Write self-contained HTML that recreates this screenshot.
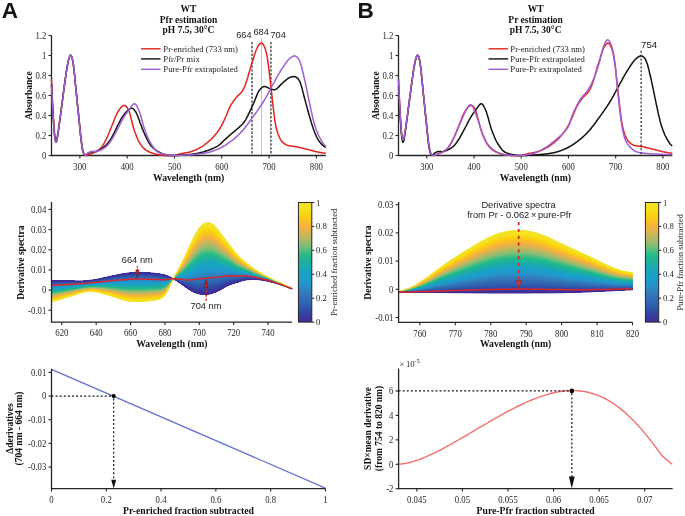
<!DOCTYPE html>
<html><head><meta charset="utf-8"><style>
html,body{margin:0;padding:0;background:#fff;width:685px;height:516px;overflow:hidden;}
svg{display:block;will-change:transform;}
</style></head><body>
<svg width="685" height="516" viewBox="0 0 685 516">
<rect width="685" height="516" fill="#fff"/>
<text x="1.8" y="17.6" font-family="'Liberation Sans', sans-serif" font-size="22.5" font-weight="bold" text-anchor="start" fill="#141414">A</text>
<text x="357.6" y="17.7" font-family="'Liberation Sans', sans-serif" font-size="22.5" font-weight="bold" text-anchor="start" fill="#141414">B</text>
<line x1="261.48" y1="37.8" x2="261.48" y2="155.5" stroke="#c4c4c4" stroke-width="1"/>
<line x1="252.02" y1="41.9" x2="252.02" y2="155.5" stroke="#111" stroke-width="1.1" stroke-dasharray="2.4,1.5"/>
<line x1="270.94" y1="41.9" x2="270.94" y2="155.5" stroke="#111" stroke-width="1.1" stroke-dasharray="2.4,1.5"/>
<path d="M51.5,35.5 L51.5,155.5 L325.8,155.5" fill="none" stroke="#262626" stroke-width="1.3"/>
<line x1="79.88" y1="155.5" x2="79.88" y2="158.5" stroke="#262626" stroke-width="1.1"/>
<text x="0" y="0" font-family="'Liberation Serif', serif" font-size="9.5" font-weight="normal" text-anchor="middle" fill="#262626" transform="translate(79.88 169.8) scale(0.92 1)">300</text>
<line x1="127.17" y1="155.5" x2="127.17" y2="158.5" stroke="#262626" stroke-width="1.1"/>
<text x="0" y="0" font-family="'Liberation Serif', serif" font-size="9.5" font-weight="normal" text-anchor="middle" fill="#262626" transform="translate(127.17 169.8) scale(0.92 1)">400</text>
<line x1="174.46" y1="155.5" x2="174.46" y2="158.5" stroke="#262626" stroke-width="1.1"/>
<text x="0" y="0" font-family="'Liberation Serif', serif" font-size="9.5" font-weight="normal" text-anchor="middle" fill="#262626" transform="translate(174.46 169.8) scale(0.92 1)">500</text>
<line x1="221.76" y1="155.5" x2="221.76" y2="158.5" stroke="#262626" stroke-width="1.1"/>
<text x="0" y="0" font-family="'Liberation Serif', serif" font-size="9.5" font-weight="normal" text-anchor="middle" fill="#262626" transform="translate(221.76 169.8) scale(0.92 1)">600</text>
<line x1="269.05" y1="155.5" x2="269.05" y2="158.5" stroke="#262626" stroke-width="1.1"/>
<text x="0" y="0" font-family="'Liberation Serif', serif" font-size="9.5" font-weight="normal" text-anchor="middle" fill="#262626" transform="translate(269.05 169.8) scale(0.92 1)">700</text>
<line x1="316.34" y1="155.5" x2="316.34" y2="158.5" stroke="#262626" stroke-width="1.1"/>
<text x="0" y="0" font-family="'Liberation Serif', serif" font-size="9.5" font-weight="normal" text-anchor="middle" fill="#262626" transform="translate(316.34 169.8) scale(0.92 1)">800</text>
<line x1="48.5" y1="155.50" x2="51.5" y2="155.50" stroke="#262626" stroke-width="1.1"/>
<text x="0" y="0" font-family="'Liberation Serif', serif" font-size="9.5" font-weight="normal" text-anchor="end" fill="#262626" transform="translate(46.3 158.8) scale(0.92 1)">0</text>
<line x1="48.5" y1="135.50" x2="51.5" y2="135.50" stroke="#262626" stroke-width="1.1"/>
<text x="0" y="0" font-family="'Liberation Serif', serif" font-size="9.5" font-weight="normal" text-anchor="end" fill="#262626" transform="translate(46.3 138.8) scale(0.92 1)">0.2</text>
<line x1="48.5" y1="115.50" x2="51.5" y2="115.50" stroke="#262626" stroke-width="1.1"/>
<text x="0" y="0" font-family="'Liberation Serif', serif" font-size="9.5" font-weight="normal" text-anchor="end" fill="#262626" transform="translate(46.3 118.8) scale(0.92 1)">0.4</text>
<line x1="48.5" y1="95.50" x2="51.5" y2="95.50" stroke="#262626" stroke-width="1.1"/>
<text x="0" y="0" font-family="'Liberation Serif', serif" font-size="9.5" font-weight="normal" text-anchor="end" fill="#262626" transform="translate(46.3 98.8) scale(0.92 1)">0.6</text>
<line x1="48.5" y1="75.50" x2="51.5" y2="75.50" stroke="#262626" stroke-width="1.1"/>
<text x="0" y="0" font-family="'Liberation Serif', serif" font-size="9.5" font-weight="normal" text-anchor="end" fill="#262626" transform="translate(46.3 78.8) scale(0.92 1)">0.8</text>
<line x1="48.5" y1="55.50" x2="51.5" y2="55.50" stroke="#262626" stroke-width="1.1"/>
<text x="0" y="0" font-family="'Liberation Serif', serif" font-size="9.5" font-weight="normal" text-anchor="end" fill="#262626" transform="translate(46.3 58.8) scale(0.92 1)">1</text>
<line x1="48.5" y1="35.50" x2="51.5" y2="35.50" stroke="#262626" stroke-width="1.1"/>
<text x="0" y="0" font-family="'Liberation Serif', serif" font-size="9.5" font-weight="normal" text-anchor="end" fill="#262626" transform="translate(46.3 38.8) scale(0.92 1)">1.2</text>
<path d="M51.5,78.9L52.0,89.3L52.4,99.4L52.9,108.8L53.4,117.3L53.9,124.6L54.3,130.6L54.8,135.1L55.3,138.2L55.8,139.7L56.2,139.9L56.7,138.8L57.2,136.9L57.6,134.4L58.1,131.5L58.6,128.4L59.1,125.1L59.5,121.7L60.0,118.3L60.5,114.8L61.0,111.2L61.4,107.6L61.9,104.1L62.4,100.5L62.9,97.0L63.3,93.4L63.8,89.9L64.3,86.4L64.7,82.9L65.2,79.6L65.7,76.2L66.2,73.0L66.6,69.9L67.1,67.0L67.6,64.3L68.1,61.9L68.5,59.9L69.0,58.2L69.5,56.9L69.9,55.9L70.4,55.3L70.9,55.3L71.4,55.9L71.8,57.0L72.3,58.8L72.8,61.2L73.3,64.1L73.7,67.5L74.2,71.6L74.7,76.1L75.1,80.8L75.6,85.7L76.1,90.5L76.6,95.2L77.0,99.9L77.5,104.6L78.0,109.1L78.5,113.6L78.9,118.2L79.4,122.7L79.9,127.2L80.3,131.7L80.8,136.0L81.3,139.9L81.8,143.4L82.2,146.4L82.7,149.0L83.2,151.1L83.7,152.8L84.1,154.0L84.6,154.7L85.1,155.1L85.6,155.3L86.0,155.4L86.5,155.3L87.0,155.2L87.4,155.1L87.9,155.0L88.4,154.8L88.9,154.7L89.3,154.5L89.8,154.3L90.3,154.2L90.8,154.0L91.2,153.8L91.7,153.6L92.2,153.4L92.6,153.2L93.1,153.0L93.6,152.8L94.1,152.6L94.5,152.4L95.0,152.2L95.5,151.9L96.0,151.7L96.4,151.4L96.9,151.1L97.4,150.8L97.8,150.5L98.3,150.2L98.8,149.8L99.3,149.4L99.7,149.0L100.2,148.6L100.7,148.1L101.2,147.6L101.6,147.1L102.1,146.5L102.6,145.8L103.0,145.1L103.5,144.3L104.0,143.5L104.5,142.6L104.9,141.7L105.4,140.8L105.9,139.9L106.4,139.0L106.8,138.0L107.3,137.0L107.8,135.9L108.3,134.8L108.7,133.6L109.2,132.5L109.7,131.3L110.1,130.1L110.6,128.9L111.1,127.8L111.6,126.6L112.0,125.4L112.5,124.3L113.0,123.1L113.5,121.9L113.9,120.7L114.4,119.5L114.9,118.3L115.3,117.1L115.8,116.0L116.3,114.9L116.8,113.9L117.2,113.0L117.7,112.1L118.2,111.3L118.7,110.6L119.1,109.8L119.6,109.2L120.1,108.5L120.5,107.9L121.0,107.4L121.5,106.9L122.0,106.5L122.4,106.1L122.9,105.8L123.4,105.5L123.9,105.4L124.3,105.4L124.8,105.4L125.3,105.6L125.8,106.0L126.2,106.4L126.7,106.9L127.2,107.5L127.6,108.3L128.1,109.1L128.6,110.1L129.1,111.2L129.5,112.6L130.0,114.2L130.5,116.0L131.0,117.9L131.4,119.8L131.9,121.7L132.4,123.5L132.8,125.3L133.3,127.0L133.8,128.6L134.3,130.2L134.7,131.6L135.2,133.0L135.7,134.2L136.2,135.4L136.6,136.6L137.1,137.7L137.6,138.8L138.0,139.8L138.5,140.8L139.0,141.7L139.5,142.6L139.9,143.4L140.4,144.1L140.9,144.8L141.4,145.4L141.8,146.0L142.3,146.6L142.8,147.1L143.2,147.7L143.7,148.2L144.2,148.6L144.7,149.1L145.1,149.5L145.6,149.8L146.1,150.2L146.6,150.5L147.0,150.7L147.5,151.0L148.0,151.3L148.5,151.5L148.9,151.8L149.4,152.0L149.9,152.2L150.3,152.4L150.8,152.7L151.3,152.8L151.8,153.0L152.2,153.2L152.7,153.3L153.2,153.5L153.7,153.6L154.1,153.7L154.6,153.9L155.1,154.0L155.5,154.1L156.0,154.2L156.5,154.3L157.0,154.4L157.4,154.5L157.9,154.6L158.4,154.7L158.9,154.8L159.3,154.9L159.8,154.9L160.3,155.0L160.7,155.1L161.2,155.1L161.7,155.2L162.2,155.2L162.6,155.3L163.1,155.3L163.6,155.4L164.1,155.4L164.5,155.4L165.0,155.5L165.5,155.5L165.9,155.6L166.4,155.6L166.9,155.6L167.4,155.7L167.8,155.7L168.3,155.7L168.8,155.7L169.3,155.7L169.7,155.7L170.2,155.7L170.7,155.7L171.2,155.7L171.6,155.7L172.1,155.7L172.6,155.7L173.0,155.6L173.5,155.6L174.0,155.5L174.5,155.5L174.9,155.4L175.4,155.3L175.9,155.2L176.4,155.0L176.8,154.9L177.3,154.7L177.8,154.6L178.2,154.4L178.7,154.3L179.2,154.1L179.7,154.0L180.1,153.9L180.6,153.8L181.1,153.7L181.6,153.6L182.0,153.5L182.5,153.4L183.0,153.3L183.4,153.2L183.9,153.2L184.4,153.1L184.9,153.0L185.3,152.9L185.8,152.8L186.3,152.8L186.8,152.7L187.2,152.6L187.7,152.5L188.2,152.4L188.7,152.3L189.1,152.2L189.6,152.0L190.1,151.9L190.5,151.8L191.0,151.6L191.5,151.5L192.0,151.3L192.4,151.1L192.9,151.0L193.4,150.8L193.9,150.6L194.3,150.4L194.8,150.2L195.3,150.0L195.7,149.8L196.2,149.5L196.7,149.3L197.2,149.1L197.6,148.9L198.1,148.7L198.6,148.4L199.1,148.2L199.5,147.9L200.0,147.7L200.5,147.4L200.9,147.2L201.4,146.9L201.9,146.6L202.4,146.3L202.8,146.0L203.3,145.6L203.8,145.3L204.3,144.9L204.7,144.6L205.2,144.2L205.7,143.9L206.1,143.5L206.6,143.1L207.1,142.8L207.6,142.4L208.0,142.0L208.5,141.6L209.0,141.2L209.5,140.8L209.9,140.4L210.4,140.0L210.9,139.5L211.4,139.1L211.8,138.6L212.3,138.1L212.8,137.6L213.2,137.1L213.7,136.6L214.2,136.0L214.7,135.5L215.1,134.9L215.6,134.3L216.1,133.8L216.6,133.2L217.0,132.6L217.5,131.9L218.0,131.3L218.4,130.7L218.9,130.0L219.4,129.3L219.9,128.5L220.3,127.7L220.8,126.9L221.3,126.1L221.8,125.2L222.2,124.3L222.7,123.3L223.2,122.4L223.6,121.4L224.1,120.5L224.6,119.4L225.1,118.4L225.5,117.3L226.0,116.2L226.5,115.0L227.0,113.8L227.4,112.6L227.9,111.5L228.4,110.3L228.8,109.2L229.3,108.2L229.8,107.2L230.3,106.3L230.7,105.4L231.2,104.6L231.7,103.8L232.2,103.1L232.6,102.4L233.1,101.7L233.6,101.0L234.1,100.3L234.5,99.7L235.0,99.0L235.5,98.4L235.9,97.8L236.4,97.3L236.9,96.8L237.4,96.3L237.8,95.9L238.3,95.4L238.8,95.0L239.3,94.6L239.7,94.1L240.2,93.7L240.7,93.2L241.1,92.6L241.6,92.0L242.1,91.4L242.6,90.6L243.0,89.8L243.5,88.8L244.0,87.9L244.5,86.8L244.9,85.7L245.4,84.5L245.9,83.3L246.3,82.0L246.8,80.6L247.3,79.1L247.8,77.4L248.2,75.7L248.7,73.9L249.2,72.2L249.7,70.5L250.1,68.8L250.6,67.3L251.1,65.8L251.5,64.3L252.0,62.9L252.5,61.4L253.0,59.9L253.4,58.4L253.9,56.9L254.4,55.3L254.9,53.8L255.3,52.4L255.8,51.0L256.3,49.8L256.8,48.7L257.2,47.7L257.7,46.8L258.2,46.0L258.6,45.3L259.1,44.6L259.6,44.1L260.1,43.7L260.5,43.3L261.0,43.1L261.5,43.0L262.0,43.2L262.4,43.5L262.9,44.0L263.4,44.7L263.8,45.5L264.3,46.5L264.8,47.6L265.3,48.8L265.7,50.4L266.2,52.2L266.7,54.4L267.2,56.9L267.6,59.8L268.1,62.9L268.6,66.4L269.0,70.2L269.5,74.3L270.0,78.6L270.5,82.9L270.9,87.2L271.4,91.4L271.9,95.7L272.4,99.9L272.8,104.1L273.3,108.2L273.8,112.2L274.3,116.0L274.7,119.4L275.2,122.4L275.7,125.0L276.1,127.3L276.6,129.3L277.1,131.0L277.6,132.6L278.0,134.0L278.5,135.3L279.0,136.4L279.5,137.4L279.9,138.3L280.4,139.2L280.9,140.0L281.3,140.7L281.8,141.4L282.3,141.9L282.8,142.3L283.2,142.7L283.7,143.1L284.2,143.5L284.7,143.8L285.1,144.1L285.6,144.4L286.1,144.7L286.5,144.9L287.0,145.2L287.5,145.3L288.0,145.5L288.4,145.6L288.9,145.7L289.4,145.8L289.9,145.8L290.3,145.9L290.8,146.0L291.3,146.0L291.7,146.1L292.2,146.2L292.7,146.2L293.2,146.3L293.6,146.3L294.1,146.4L294.6,146.5L295.1,146.6L295.5,146.6L296.0,146.7L296.5,146.8L297.0,146.9L297.4,147.0L297.9,147.1L298.4,147.2L298.8,147.3L299.3,147.4L299.8,147.5L300.3,147.7L300.7,147.8L301.2,147.9L301.7,148.0L302.2,148.1L302.6,148.2L303.1,148.3L303.6,148.4L304.0,148.6L304.5,148.7L305.0,148.8L305.5,148.9L305.9,149.0L306.4,149.1L306.9,149.3L307.4,149.4L307.8,149.5L308.3,149.6L308.8,149.7L309.2,149.9L309.7,150.0L310.2,150.1L310.7,150.3L311.1,150.4L311.6,150.5L312.1,150.6L312.6,150.8L313.0,150.9L313.5,151.0L314.0,151.1L314.4,151.3L314.9,151.4L315.4,151.5L315.9,151.6L316.3,151.7L316.8,151.8L317.3,151.9L317.8,152.0L318.2,152.1L318.7,152.2L319.2,152.3L319.7,152.4L320.1,152.4L320.6,152.5L321.1,152.6L321.5,152.7L322.0,152.8L322.5,152.9L323.0,152.9L323.4,153.0L323.9,153.1L324.4,153.1L324.9,153.2L325.3,153.2L325.8,153.3" fill="none" stroke="#e3231f" stroke-width="1.5" stroke-linejoin="round"/>
<path d="M51.5,84.8L52.0,94.3L52.4,103.5L52.9,112.3L53.4,120.3L53.9,127.4L54.3,133.2L54.8,137.7L55.3,140.7L55.8,142.2L56.2,142.2L56.7,141.0L57.2,138.9L57.6,136.1L58.1,133.0L58.6,129.7L59.1,126.2L59.5,122.7L60.0,119.1L60.5,115.5L61.0,111.9L61.4,108.3L61.9,104.6L62.4,101.0L62.9,97.4L63.3,93.8L63.8,90.3L64.3,86.8L64.7,83.3L65.2,79.9L65.7,76.5L66.2,73.2L66.6,70.0L67.1,67.1L67.6,64.3L68.1,62.0L68.5,59.9L69.0,58.2L69.5,56.9L69.9,55.9L70.4,55.3L70.9,55.3L71.4,55.9L71.8,57.0L72.3,58.8L72.8,61.2L73.3,64.1L73.7,67.6L74.2,71.7L74.7,76.3L75.1,81.1L75.6,86.0L76.1,90.9L76.6,95.7L77.0,100.4L77.5,105.1L78.0,109.8L78.5,114.4L78.9,119.0L79.4,123.7L79.9,128.5L80.3,133.2L80.8,137.7L81.3,141.8L81.8,145.3L82.2,148.3L82.7,150.6L83.2,152.4L83.7,153.7L84.1,154.5L84.6,155.0L85.1,155.2L85.6,155.2L86.0,155.0L86.5,154.6L87.0,154.2L87.4,153.8L87.9,153.4L88.4,153.1L88.9,152.9L89.3,152.7L89.8,152.5L90.3,152.4L90.8,152.2L91.2,152.1L91.7,152.0L92.2,151.9L92.6,151.8L93.1,151.7L93.6,151.7L94.1,151.6L94.5,151.6L95.0,151.6L95.5,151.5L96.0,151.5L96.4,151.3L96.9,151.2L97.4,151.0L97.8,150.8L98.3,150.6L98.8,150.4L99.3,150.1L99.7,149.9L100.2,149.6L100.7,149.3L101.2,149.0L101.6,148.7L102.1,148.4L102.6,148.1L103.0,147.7L103.5,147.3L104.0,146.9L104.5,146.5L104.9,146.1L105.4,145.7L105.9,145.2L106.4,144.7L106.8,144.2L107.3,143.7L107.8,143.1L108.3,142.5L108.7,141.9L109.2,141.3L109.7,140.6L110.1,139.9L110.6,139.1L111.1,138.4L111.6,137.6L112.0,136.8L112.5,136.0L113.0,135.1L113.5,134.2L113.9,133.2L114.4,132.3L114.9,131.3L115.3,130.3L115.8,129.3L116.3,128.3L116.8,127.3L117.2,126.4L117.7,125.4L118.2,124.5L118.7,123.6L119.1,122.7L119.6,121.8L120.1,120.8L120.5,120.0L121.0,119.1L121.5,118.3L122.0,117.5L122.4,116.7L122.9,116.0L123.4,115.4L123.9,114.7L124.3,114.1L124.8,113.5L125.3,113.0L125.8,112.4L126.2,111.9L126.7,111.4L127.2,111.0L127.6,110.5L128.1,110.1L128.6,109.7L129.1,109.4L129.5,109.1L130.0,108.8L130.5,108.5L131.0,108.3L131.4,108.2L131.9,108.2L132.4,108.4L132.8,108.6L133.3,108.9L133.8,109.3L134.3,109.8L134.7,110.4L135.2,111.1L135.7,111.8L136.2,112.7L136.6,113.6L137.1,114.7L137.6,115.8L138.0,117.0L138.5,118.2L139.0,119.5L139.5,120.8L139.9,122.2L140.4,123.5L140.9,124.8L141.4,126.1L141.8,127.4L142.3,128.6L142.8,129.8L143.2,130.9L143.7,132.0L144.2,133.0L144.7,134.1L145.1,135.1L145.6,136.1L146.1,137.2L146.6,138.2L147.0,139.1L147.5,140.1L148.0,141.0L148.5,141.9L148.9,142.7L149.4,143.5L149.9,144.2L150.3,144.8L150.8,145.4L151.3,146.0L151.8,146.5L152.2,147.0L152.7,147.5L153.2,148.0L153.7,148.4L154.1,148.8L154.6,149.2L155.1,149.6L155.5,150.0L156.0,150.3L156.5,150.6L157.0,150.9L157.4,151.2L157.9,151.5L158.4,151.7L158.9,152.0L159.3,152.2L159.8,152.5L160.3,152.7L160.7,153.0L161.2,153.2L161.7,153.4L162.2,153.6L162.6,153.8L163.1,154.0L163.6,154.1L164.1,154.3L164.5,154.4L165.0,154.5L165.5,154.6L165.9,154.6L166.4,154.7L166.9,154.8L167.4,154.9L167.8,154.9L168.3,155.0L168.8,155.1L169.3,155.1L169.7,155.2L170.2,155.3L170.7,155.3L171.2,155.4L171.6,155.4L172.1,155.4L172.6,155.5L173.0,155.5L173.5,155.5L174.0,155.5L174.5,155.5L174.9,155.5L175.4,155.5L175.9,155.5L176.4,155.4L176.8,155.4L177.3,155.4L177.8,155.4L178.2,155.4L178.7,155.3L179.2,155.3L179.7,155.3L180.1,155.3L180.6,155.2L181.1,155.2L181.6,155.2L182.0,155.1L182.5,155.1L183.0,155.1L183.4,155.0L183.9,155.0L184.4,155.0L184.9,154.9L185.3,154.9L185.8,154.8L186.3,154.8L186.8,154.7L187.2,154.7L187.7,154.7L188.2,154.6L188.7,154.6L189.1,154.5L189.6,154.5L190.1,154.4L190.5,154.4L191.0,154.3L191.5,154.3L192.0,154.2L192.4,154.1L192.9,154.1L193.4,154.0L193.9,153.9L194.3,153.8L194.8,153.8L195.3,153.7L195.7,153.6L196.2,153.5L196.7,153.4L197.2,153.4L197.6,153.3L198.1,153.2L198.6,153.1L199.1,153.0L199.5,152.9L200.0,152.8L200.5,152.7L200.9,152.6L201.4,152.5L201.9,152.3L202.4,152.2L202.8,152.1L203.3,151.9L203.8,151.8L204.3,151.6L204.7,151.5L205.2,151.3L205.7,151.2L206.1,151.0L206.6,150.8L207.1,150.7L207.6,150.5L208.0,150.4L208.5,150.2L209.0,150.0L209.5,149.9L209.9,149.7L210.4,149.5L210.9,149.3L211.4,149.1L211.8,149.0L212.3,148.8L212.8,148.5L213.2,148.3L213.7,148.1L214.2,147.9L214.7,147.6L215.1,147.4L215.6,147.2L216.1,146.9L216.6,146.6L217.0,146.4L217.5,146.1L218.0,145.8L218.4,145.5L218.9,145.1L219.4,144.8L219.9,144.4L220.3,144.0L220.8,143.5L221.3,143.1L221.8,142.6L222.2,142.2L222.7,141.7L223.2,141.2L223.6,140.7L224.1,140.3L224.6,139.8L225.1,139.4L225.5,139.0L226.0,138.6L226.5,138.2L227.0,137.7L227.4,137.3L227.9,136.9L228.4,136.5L228.8,136.1L229.3,135.7L229.8,135.3L230.3,134.9L230.7,134.4L231.2,134.0L231.7,133.6L232.2,133.2L232.6,132.8L233.1,132.4L233.6,132.0L234.1,131.6L234.5,131.2L235.0,130.8L235.5,130.4L235.9,130.0L236.4,129.6L236.9,129.2L237.4,128.8L237.8,128.4L238.3,128.0L238.8,127.6L239.3,127.2L239.7,126.7L240.2,126.3L240.7,125.9L241.1,125.4L241.6,125.0L242.1,124.5L242.6,124.0L243.0,123.4L243.5,122.8L244.0,122.2L244.5,121.5L244.9,120.8L245.4,120.1L245.9,119.3L246.3,118.5L246.8,117.6L247.3,116.7L247.8,115.8L248.2,114.9L248.7,113.9L249.2,112.9L249.7,111.9L250.1,110.9L250.6,109.8L251.1,108.8L251.5,107.8L252.0,106.7L252.5,105.7L253.0,104.6L253.4,103.6L253.9,102.5L254.4,101.4L254.9,100.3L255.3,99.1L255.8,97.9L256.3,96.6L256.8,95.4L257.2,94.2L257.7,93.1L258.2,92.2L258.6,91.4L259.1,90.7L259.6,90.0L260.1,89.5L260.5,88.9L261.0,88.4L261.5,88.0L262.0,87.6L262.4,87.2L262.9,86.9L263.4,86.7L263.8,86.6L264.3,86.5L264.8,86.5L265.3,86.6L265.7,86.8L266.2,86.9L266.7,87.1L267.2,87.3L267.6,87.5L268.1,87.8L268.6,88.0L269.0,88.2L269.5,88.4L270.0,88.6L270.5,88.8L270.9,88.9L271.4,89.1L271.9,89.3L272.4,89.4L272.8,89.6L273.3,89.7L273.8,89.7L274.3,89.7L274.7,89.7L275.2,89.6L275.7,89.4L276.1,89.1L276.6,88.8L277.1,88.4L277.6,88.0L278.0,87.5L278.5,87.1L279.0,86.6L279.5,86.1L279.9,85.6L280.4,85.1L280.9,84.6L281.3,84.1L281.8,83.7L282.3,83.2L282.8,82.8L283.2,82.4L283.7,82.0L284.2,81.6L284.7,81.2L285.1,80.7L285.6,80.3L286.1,79.9L286.5,79.6L287.0,79.2L287.5,78.8L288.0,78.5L288.4,78.2L288.9,77.9L289.4,77.7L289.9,77.5L290.3,77.3L290.8,77.1L291.3,77.0L291.7,76.9L292.2,76.8L292.7,76.7L293.2,76.7L293.6,76.6L294.1,76.6L294.6,76.7L295.1,76.8L295.5,76.9L296.0,77.2L296.5,77.5L297.0,77.8L297.4,78.2L297.9,78.6L298.4,79.2L298.8,79.8L299.3,80.6L299.8,81.6L300.3,82.7L300.7,84.0L301.2,85.5L301.7,87.2L302.2,88.9L302.6,90.7L303.1,92.6L303.6,94.4L304.0,96.3L304.5,98.1L305.0,99.9L305.5,101.6L305.9,103.4L306.4,105.1L306.9,106.9L307.4,108.6L307.8,110.3L308.3,112.0L308.8,113.7L309.2,115.3L309.7,117.0L310.2,118.6L310.7,120.2L311.1,121.8L311.6,123.4L312.1,124.9L312.6,126.4L313.0,127.9L313.5,129.3L314.0,130.6L314.4,131.8L314.9,133.0L315.4,134.1L315.9,135.2L316.3,136.3L316.8,137.3L317.3,138.2L317.8,139.1L318.2,139.9L318.7,140.6L319.2,141.3L319.7,141.9L320.1,142.5L320.6,143.0L321.1,143.6L321.5,144.1L322.0,144.6L322.5,145.1L323.0,145.5L323.4,145.9L323.9,146.3L324.4,146.6L324.9,146.9L325.3,147.2L325.8,147.4" fill="none" stroke="#111111" stroke-width="1.5" stroke-linejoin="round"/>
<path d="M51.5,85.7L52.0,94.9L52.4,103.9L52.9,112.5L53.4,120.4L53.9,127.4L54.3,133.2L54.8,137.7L55.3,140.7L55.8,142.2L56.2,142.2L56.7,141.0L57.2,138.9L57.6,136.1L58.1,133.0L58.6,129.7L59.1,126.2L59.5,122.7L60.0,119.1L60.5,115.5L61.0,111.9L61.4,108.3L61.9,104.6L62.4,101.0L62.9,97.4L63.3,93.8L63.8,90.3L64.3,86.8L64.7,83.3L65.2,79.9L65.7,76.5L66.2,73.2L66.6,70.0L67.1,67.1L67.6,64.3L68.1,62.0L68.5,59.9L69.0,58.2L69.5,56.9L69.9,55.9L70.4,55.3L70.9,55.3L71.4,55.9L71.8,57.0L72.3,58.8L72.8,61.2L73.3,64.1L73.7,67.6L74.2,71.7L74.7,76.3L75.1,81.1L75.6,86.0L76.1,90.9L76.6,95.7L77.0,100.4L77.5,105.1L78.0,109.8L78.5,114.4L78.9,119.0L79.4,123.7L79.9,128.5L80.3,133.2L80.8,137.7L81.3,141.8L81.8,145.3L82.2,148.3L82.7,150.6L83.2,152.4L83.7,153.7L84.1,154.5L84.6,155.0L85.1,155.2L85.6,155.2L86.0,154.9L86.5,154.4L87.0,153.9L87.4,153.4L87.9,153.0L88.4,152.6L88.9,152.4L89.3,152.2L89.8,152.0L90.3,151.8L90.8,151.7L91.2,151.6L91.7,151.6L92.2,151.5L92.6,151.5L93.1,151.6L93.6,151.6L94.1,151.6L94.5,151.7L95.0,151.7L95.5,151.7L96.0,151.7L96.4,151.6L96.9,151.5L97.4,151.3L97.8,151.2L98.3,151.0L98.8,150.8L99.3,150.6L99.7,150.4L100.2,150.2L100.7,150.0L101.2,149.7L101.6,149.5L102.1,149.3L102.6,149.0L103.0,148.7L103.5,148.5L104.0,148.2L104.5,147.9L104.9,147.5L105.4,147.2L105.9,146.8L106.4,146.4L106.8,146.0L107.3,145.5L107.8,145.0L108.3,144.5L108.7,143.9L109.2,143.2L109.7,142.6L110.1,141.9L110.6,141.2L111.1,140.5L111.6,139.8L112.0,139.1L112.5,138.3L113.0,137.5L113.5,136.7L113.9,135.9L114.4,135.0L114.9,134.2L115.3,133.3L115.8,132.4L116.3,131.5L116.8,130.6L117.2,129.7L117.7,128.8L118.2,127.9L118.7,127.0L119.1,126.1L119.6,125.1L120.1,124.2L120.5,123.3L121.0,122.3L121.5,121.4L122.0,120.6L122.4,119.7L122.9,118.9L123.4,118.1L123.9,117.3L124.3,116.5L124.8,115.8L125.3,115.1L125.8,114.3L126.2,113.6L126.7,113.0L127.2,112.3L127.6,111.6L128.1,111.0L128.6,110.3L129.1,109.6L129.5,108.9L130.0,108.3L130.5,107.6L131.0,106.9L131.4,106.3L131.9,105.7L132.4,105.1L132.8,104.6L133.3,104.2L133.8,103.9L134.3,103.8L134.7,103.8L135.2,104.0L135.7,104.4L136.2,105.0L136.6,105.7L137.1,106.6L137.6,107.5L138.0,108.5L138.5,109.5L139.0,110.6L139.5,111.8L139.9,113.2L140.4,114.7L140.9,116.3L141.4,117.9L141.8,119.7L142.3,121.4L142.8,123.2L143.2,124.9L143.7,126.5L144.2,128.0L144.7,129.4L145.1,130.7L145.6,132.0L146.1,133.2L146.6,134.5L147.0,135.6L147.5,136.8L148.0,137.9L148.5,139.0L148.9,140.0L149.4,140.9L149.9,141.8L150.3,142.7L150.8,143.5L151.3,144.2L151.8,144.9L152.2,145.6L152.7,146.3L153.2,147.0L153.7,147.7L154.1,148.3L154.6,148.9L155.1,149.5L155.5,150.0L156.0,150.5L156.5,151.0L157.0,151.3L157.4,151.7L157.9,152.0L158.4,152.2L158.9,152.4L159.3,152.7L159.8,152.9L160.3,153.1L160.7,153.3L161.2,153.5L161.7,153.6L162.2,153.8L162.6,153.9L163.1,154.1L163.6,154.2L164.1,154.3L164.5,154.4L165.0,154.5L165.5,154.6L165.9,154.6L166.4,154.7L166.9,154.8L167.4,154.8L167.8,154.9L168.3,155.0L168.8,155.0L169.3,155.1L169.7,155.2L170.2,155.2L170.7,155.3L171.2,155.3L171.6,155.4L172.1,155.4L172.6,155.4L173.0,155.5L173.5,155.5L174.0,155.5L174.5,155.5L174.9,155.5L175.4,155.5L175.9,155.5L176.4,155.5L176.8,155.5L177.3,155.5L177.8,155.4L178.2,155.4L178.7,155.4L179.2,155.4L179.7,155.4L180.1,155.4L180.6,155.4L181.1,155.3L181.6,155.3L182.0,155.3L182.5,155.3L183.0,155.3L183.4,155.2L183.9,155.2L184.4,155.2L184.9,155.2L185.3,155.2L185.8,155.1L186.3,155.1L186.8,155.1L187.2,155.0L187.7,155.0L188.2,155.0L188.7,154.9L189.1,154.9L189.6,154.9L190.1,154.8L190.5,154.8L191.0,154.8L191.5,154.7L192.0,154.7L192.4,154.6L192.9,154.6L193.4,154.6L193.9,154.5L194.3,154.5L194.8,154.4L195.3,154.4L195.7,154.3L196.2,154.3L196.7,154.2L197.2,154.2L197.6,154.1L198.1,154.1L198.6,154.0L199.1,154.0L199.5,153.9L200.0,153.9L200.5,153.8L200.9,153.8L201.4,153.7L201.9,153.6L202.4,153.6L202.8,153.5L203.3,153.4L203.8,153.3L204.3,153.2L204.7,153.1L205.2,153.1L205.7,153.0L206.1,152.9L206.6,152.8L207.1,152.7L207.6,152.6L208.0,152.5L208.5,152.4L209.0,152.2L209.5,152.1L209.9,152.0L210.4,151.9L210.9,151.7L211.4,151.6L211.8,151.5L212.3,151.3L212.8,151.1L213.2,151.0L213.7,150.8L214.2,150.6L214.7,150.4L215.1,150.2L215.6,150.1L216.1,149.9L216.6,149.7L217.0,149.5L217.5,149.3L218.0,149.1L218.4,148.9L218.9,148.7L219.4,148.5L219.9,148.3L220.3,148.0L220.8,147.8L221.3,147.5L221.8,147.3L222.2,147.0L222.7,146.8L223.2,146.5L223.6,146.2L224.1,145.9L224.6,145.7L225.1,145.4L225.5,145.1L226.0,144.8L226.5,144.5L227.0,144.1L227.4,143.8L227.9,143.5L228.4,143.2L228.8,142.8L229.3,142.5L229.8,142.1L230.3,141.8L230.7,141.4L231.2,141.1L231.7,140.7L232.2,140.3L232.6,140.0L233.1,139.6L233.6,139.2L234.1,138.8L234.5,138.4L235.0,138.0L235.5,137.6L235.9,137.2L236.4,136.8L236.9,136.4L237.4,135.9L237.8,135.5L238.3,135.0L238.8,134.5L239.3,134.1L239.7,133.6L240.2,133.1L240.7,132.6L241.1,132.1L241.6,131.6L242.1,131.1L242.6,130.6L243.0,130.0L243.5,129.5L244.0,128.9L244.5,128.4L244.9,127.8L245.4,127.2L245.9,126.6L246.3,126.0L246.8,125.4L247.3,124.7L247.8,124.1L248.2,123.4L248.7,122.8L249.2,122.1L249.7,121.5L250.1,120.8L250.6,120.1L251.1,119.5L251.5,118.8L252.0,118.2L252.5,117.5L253.0,116.9L253.4,116.2L253.9,115.6L254.4,114.9L254.9,114.3L255.3,113.6L255.8,112.9L256.3,112.3L256.8,111.6L257.2,110.9L257.7,110.3L258.2,109.6L258.6,108.9L259.1,108.2L259.6,107.5L260.1,106.9L260.5,106.2L261.0,105.4L261.5,104.7L262.0,104.0L262.4,103.3L262.9,102.5L263.4,101.8L263.8,101.0L264.3,100.2L264.8,99.4L265.3,98.6L265.7,97.8L266.2,96.9L266.7,96.1L267.2,95.2L267.6,94.3L268.1,93.4L268.6,92.5L269.0,91.6L269.5,90.7L270.0,89.8L270.5,88.9L270.9,88.0L271.4,87.2L271.9,86.3L272.4,85.4L272.8,84.6L273.3,83.7L273.8,82.9L274.3,82.0L274.7,81.2L275.2,80.3L275.7,79.4L276.1,78.6L276.6,77.7L277.1,76.9L277.6,76.1L278.0,75.2L278.5,74.4L279.0,73.6L279.5,72.8L279.9,72.0L280.4,71.2L280.9,70.5L281.3,69.7L281.8,69.0L282.3,68.2L282.8,67.5L283.2,66.8L283.7,66.0L284.2,65.3L284.7,64.6L285.1,64.0L285.6,63.3L286.1,62.6L286.5,62.0L287.0,61.4L287.5,60.8L288.0,60.3L288.4,59.8L288.9,59.3L289.4,58.9L289.9,58.5L290.3,58.0L290.8,57.7L291.3,57.3L291.7,57.0L292.2,56.7L292.7,56.4L293.2,56.2L293.6,56.0L294.1,55.9L294.6,55.9L295.1,56.0L295.5,56.1L296.0,56.3L296.5,56.6L297.0,57.0L297.4,57.4L297.9,57.9L298.4,58.5L298.8,59.3L299.3,60.3L299.8,61.4L300.3,62.7L300.7,64.1L301.2,65.6L301.7,67.3L302.2,69.1L302.6,71.0L303.1,73.0L303.6,75.0L304.0,77.0L304.5,79.1L305.0,81.2L305.5,83.4L305.9,85.6L306.4,87.9L306.9,90.2L307.4,92.5L307.8,94.8L308.3,97.1L308.8,99.4L309.2,101.6L309.7,103.8L310.2,106.0L310.7,108.3L311.1,110.5L311.6,112.7L312.1,114.8L312.6,116.9L313.0,118.9L313.5,120.7L314.0,122.5L314.4,124.1L314.9,125.7L315.4,127.2L315.9,128.6L316.3,129.9L316.8,131.2L317.3,132.4L317.8,133.5L318.2,134.6L318.7,135.6L319.2,136.5L319.7,137.4L320.1,138.3L320.6,139.2L321.1,140.0L321.5,140.8L322.0,141.6L322.5,142.3L323.0,143.0L323.4,143.7L323.9,144.3L324.4,144.8L324.9,145.3L325.3,145.6L325.8,145.8" fill="none" stroke="#a05dd4" stroke-width="1.5" stroke-linejoin="round"/>
<text x="188.65" y="180.9" font-family="'Liberation Serif', serif" font-size="9.7" font-weight="bold" text-anchor="middle" fill="#111">Wavelength (nm)</text>
<text x="32.0" y="95.5" font-family="'Liberation Serif', serif" font-size="9.5" font-weight="bold" text-anchor="middle" fill="#111" transform="rotate(-90 32.0 95.5)">Absorbance</text>
<text x="188.5" y="11.7" font-family="'Liberation Serif', serif" font-size="9.5" font-weight="bold" text-anchor="middle" fill="#111">WT</text>
<text x="188.5" y="22.6" font-family="'Liberation Serif', serif" font-size="9.5" font-weight="bold" text-anchor="middle" fill="#111">Pfr estimation</text>
<text x="188.5" y="33.3" font-family="'Liberation Serif', serif" font-size="9.5" font-weight="bold" text-anchor="middle" fill="#111">pH 7.5, 30°C</text>
<line x1="141.0" y1="48.8" x2="160.6" y2="48.8" stroke="#e3231f" stroke-width="1.4"/>
<text x="163.3" y="51.9" font-family="'Liberation Serif', serif" font-size="8.7" font-weight="normal" text-anchor="start" fill="#262626">Pr-enriched (733 nm)</text>
<line x1="141.0" y1="58.9" x2="160.6" y2="58.9" stroke="#111111" stroke-width="1.4"/>
<text x="163.3" y="62.0" font-family="'Liberation Serif', serif" font-size="8.7" font-weight="normal" text-anchor="start" fill="#262626">Pfr/Pr mix</text>
<line x1="141.0" y1="69.3" x2="160.6" y2="69.3" stroke="#a05dd4" stroke-width="1.4"/>
<text x="163.3" y="72.39999999999999" font-family="'Liberation Serif', serif" font-size="8.7" font-weight="normal" text-anchor="start" fill="#262626">Pure-Pfr extrapolated</text>
<text x="251.5" y="38.3" font-family="'Liberation Sans', sans-serif" font-size="9.2" font-weight="normal" text-anchor="end" fill="#1a1a1a">664</text>
<text x="261.1" y="34.7" font-family="'Liberation Sans', sans-serif" font-size="9.2" font-weight="normal" text-anchor="middle" fill="#1a1a1a">684</text>
<text x="270.5" y="38.3" font-family="'Liberation Sans', sans-serif" font-size="9.2" font-weight="normal" text-anchor="start" fill="#1a1a1a">704</text>
<path d="M398.5,35.5 L398.5,155.5 L672.3,155.5" fill="none" stroke="#262626" stroke-width="1.3"/>
<line x1="426.82" y1="155.5" x2="426.82" y2="158.5" stroke="#262626" stroke-width="1.1"/>
<text x="0" y="0" font-family="'Liberation Serif', serif" font-size="9.5" font-weight="normal" text-anchor="middle" fill="#262626" transform="translate(426.82 169.8) scale(0.92 1)">300</text>
<line x1="474.03" y1="155.5" x2="474.03" y2="158.5" stroke="#262626" stroke-width="1.1"/>
<text x="0" y="0" font-family="'Liberation Serif', serif" font-size="9.5" font-weight="normal" text-anchor="middle" fill="#262626" transform="translate(474.03 169.8) scale(0.92 1)">400</text>
<line x1="521.24" y1="155.5" x2="521.24" y2="158.5" stroke="#262626" stroke-width="1.1"/>
<text x="0" y="0" font-family="'Liberation Serif', serif" font-size="9.5" font-weight="normal" text-anchor="middle" fill="#262626" transform="translate(521.24 169.8) scale(0.92 1)">500</text>
<line x1="568.44" y1="155.5" x2="568.44" y2="158.5" stroke="#262626" stroke-width="1.1"/>
<text x="0" y="0" font-family="'Liberation Serif', serif" font-size="9.5" font-weight="normal" text-anchor="middle" fill="#262626" transform="translate(568.44 169.8) scale(0.92 1)">600</text>
<line x1="615.65" y1="155.5" x2="615.65" y2="158.5" stroke="#262626" stroke-width="1.1"/>
<text x="0" y="0" font-family="'Liberation Serif', serif" font-size="9.5" font-weight="normal" text-anchor="middle" fill="#262626" transform="translate(615.65 169.8) scale(0.92 1)">700</text>
<line x1="662.86" y1="155.5" x2="662.86" y2="158.5" stroke="#262626" stroke-width="1.1"/>
<text x="0" y="0" font-family="'Liberation Serif', serif" font-size="9.5" font-weight="normal" text-anchor="middle" fill="#262626" transform="translate(662.86 169.8) scale(0.92 1)">800</text>
<line x1="395.5" y1="155.50" x2="398.5" y2="155.50" stroke="#262626" stroke-width="1.1"/>
<text x="0" y="0" font-family="'Liberation Serif', serif" font-size="9.5" font-weight="normal" text-anchor="end" fill="#262626" transform="translate(393.3 158.8) scale(0.92 1)">0</text>
<line x1="395.5" y1="135.50" x2="398.5" y2="135.50" stroke="#262626" stroke-width="1.1"/>
<text x="0" y="0" font-family="'Liberation Serif', serif" font-size="9.5" font-weight="normal" text-anchor="end" fill="#262626" transform="translate(393.3 138.8) scale(0.92 1)">0.2</text>
<line x1="395.5" y1="115.50" x2="398.5" y2="115.50" stroke="#262626" stroke-width="1.1"/>
<text x="0" y="0" font-family="'Liberation Serif', serif" font-size="9.5" font-weight="normal" text-anchor="end" fill="#262626" transform="translate(393.3 118.8) scale(0.92 1)">0.4</text>
<line x1="395.5" y1="95.50" x2="398.5" y2="95.50" stroke="#262626" stroke-width="1.1"/>
<text x="0" y="0" font-family="'Liberation Serif', serif" font-size="9.5" font-weight="normal" text-anchor="end" fill="#262626" transform="translate(393.3 98.8) scale(0.92 1)">0.6</text>
<line x1="395.5" y1="75.50" x2="398.5" y2="75.50" stroke="#262626" stroke-width="1.1"/>
<text x="0" y="0" font-family="'Liberation Serif', serif" font-size="9.5" font-weight="normal" text-anchor="end" fill="#262626" transform="translate(393.3 78.8) scale(0.92 1)">0.8</text>
<line x1="395.5" y1="55.50" x2="398.5" y2="55.50" stroke="#262626" stroke-width="1.1"/>
<text x="0" y="0" font-family="'Liberation Serif', serif" font-size="9.5" font-weight="normal" text-anchor="end" fill="#262626" transform="translate(393.3 58.8) scale(0.92 1)">1</text>
<line x1="395.5" y1="35.50" x2="398.5" y2="35.50" stroke="#262626" stroke-width="1.1"/>
<text x="0" y="0" font-family="'Liberation Serif', serif" font-size="9.5" font-weight="normal" text-anchor="end" fill="#262626" transform="translate(393.3 38.8) scale(0.92 1)">1.2</text>
<path d="M398.5,78.9L399.0,89.3L399.4,99.4L399.9,108.8L400.4,117.3L400.9,124.6L401.3,130.6L401.8,135.1L402.3,138.2L402.7,139.7L403.2,139.9L403.7,138.8L404.2,136.9L404.6,134.4L405.1,131.5L405.6,128.4L406.1,125.1L406.5,121.7L407.0,118.3L407.5,114.8L407.9,111.2L408.4,107.6L408.9,104.1L409.4,100.5L409.8,97.0L410.3,93.4L410.8,89.9L411.2,86.4L411.7,82.9L412.2,79.6L412.7,76.2L413.1,73.0L413.6,69.9L414.1,67.0L414.6,64.3L415.0,61.9L415.5,59.9L416.0,58.2L416.4,56.9L416.9,55.9L417.4,55.3L417.9,55.3L418.3,55.9L418.8,57.0L419.3,58.8L419.7,61.2L420.2,64.1L420.7,67.5L421.2,71.6L421.6,76.1L422.1,80.8L422.6,85.7L423.0,90.5L423.5,95.2L424.0,99.9L424.5,104.6L424.9,109.1L425.4,113.6L425.9,118.2L426.4,122.7L426.8,127.2L427.3,131.7L427.8,136.0L428.2,139.9L428.7,143.4L429.2,146.4L429.7,149.0L430.1,151.1L430.6,152.8L431.1,154.0L431.5,154.7L432.0,155.1L432.5,155.3L433.0,155.4L433.4,155.3L433.9,155.2L434.4,155.1L434.8,155.0L435.3,154.8L435.8,154.7L436.3,154.5L436.7,154.3L437.2,154.2L437.7,154.0L438.2,153.8L438.6,153.6L439.1,153.4L439.6,153.2L440.0,153.0L440.5,152.8L441.0,152.6L441.5,152.4L441.9,152.2L442.4,151.9L442.9,151.7L443.3,151.4L443.8,151.1L444.3,150.8L444.8,150.5L445.2,150.2L445.7,149.8L446.2,149.4L446.7,149.0L447.1,148.6L447.6,148.1L448.1,147.6L448.5,147.1L449.0,146.5L449.5,145.8L450.0,145.1L450.4,144.3L450.9,143.5L451.4,142.6L451.8,141.7L452.3,140.8L452.8,139.9L453.3,139.0L453.7,138.0L454.2,137.0L454.7,135.9L455.1,134.8L455.6,133.6L456.1,132.5L456.6,131.3L457.0,130.1L457.5,128.9L458.0,127.8L458.5,126.6L458.9,125.4L459.4,124.3L459.9,123.1L460.3,121.9L460.8,120.7L461.3,119.5L461.8,118.3L462.2,117.1L462.7,116.0L463.2,114.9L463.6,113.9L464.1,113.0L464.6,112.1L465.1,111.3L465.5,110.6L466.0,109.8L466.5,109.2L466.9,108.5L467.4,107.9L467.9,107.4L468.4,106.9L468.8,106.5L469.3,106.1L469.8,105.8L470.3,105.5L470.7,105.4L471.2,105.4L471.7,105.4L472.1,105.6L472.6,106.0L473.1,106.4L473.6,106.9L474.0,107.5L474.5,108.3L475.0,109.1L475.4,110.1L475.9,111.2L476.4,112.6L476.9,114.2L477.3,116.0L477.8,117.9L478.3,119.8L478.8,121.7L479.2,123.5L479.7,125.3L480.2,127.0L480.6,128.6L481.1,130.2L481.6,131.6L482.1,133.0L482.5,134.2L483.0,135.4L483.5,136.6L483.9,137.7L484.4,138.8L484.9,139.8L485.4,140.8L485.8,141.7L486.3,142.6L486.8,143.4L487.2,144.1L487.7,144.8L488.2,145.4L488.7,146.0L489.1,146.6L489.6,147.1L490.1,147.7L490.6,148.2L491.0,148.6L491.5,149.1L492.0,149.5L492.4,149.8L492.9,150.2L493.4,150.5L493.9,150.7L494.3,151.0L494.8,151.3L495.3,151.5L495.7,151.8L496.2,152.0L496.7,152.2L497.2,152.4L497.6,152.7L498.1,152.8L498.6,153.0L499.1,153.2L499.5,153.3L500.0,153.5L500.5,153.6L500.9,153.7L501.4,153.9L501.9,154.0L502.4,154.1L502.8,154.2L503.3,154.3L503.8,154.4L504.2,154.5L504.7,154.6L505.2,154.7L505.7,154.8L506.1,154.9L506.6,154.9L507.1,155.0L507.5,155.1L508.0,155.1L508.5,155.2L509.0,155.2L509.4,155.3L509.9,155.3L510.4,155.4L510.9,155.4L511.3,155.4L511.8,155.5L512.3,155.5L512.7,155.6L513.2,155.6L513.7,155.6L514.2,155.7L514.6,155.7L515.1,155.7L515.6,155.7L516.0,155.7L516.5,155.7L517.0,155.7L517.5,155.7L517.9,155.7L518.4,155.7L518.9,155.7L519.3,155.7L519.8,155.6L520.3,155.6L520.8,155.5L521.2,155.5L521.7,155.4L522.2,155.3L522.7,155.2L523.1,155.0L523.6,154.9L524.1,154.7L524.5,154.6L525.0,154.4L525.5,154.3L526.0,154.1L526.4,154.0L526.9,153.9L527.4,153.8L527.8,153.7L528.3,153.6L528.8,153.5L529.3,153.4L529.7,153.3L530.2,153.2L530.7,153.2L531.2,153.1L531.6,153.0L532.1,152.9L532.6,152.8L533.0,152.8L533.5,152.7L534.0,152.6L534.5,152.5L534.9,152.4L535.4,152.3L535.9,152.2L536.3,152.0L536.8,151.9L537.3,151.8L537.8,151.6L538.2,151.5L538.7,151.3L539.2,151.1L539.6,151.0L540.1,150.8L540.6,150.6L541.1,150.4L541.5,150.2L542.0,150.0L542.5,149.8L543.0,149.5L543.4,149.3L543.9,149.1L544.4,148.9L544.8,148.7L545.3,148.4L545.8,148.2L546.3,147.9L546.7,147.7L547.2,147.4L547.7,147.2L548.1,146.9L548.6,146.6L549.1,146.3L549.6,146.0L550.0,145.6L550.5,145.3L551.0,144.9L551.5,144.6L551.9,144.2L552.4,143.9L552.9,143.5L553.3,143.1L553.8,142.8L554.3,142.4L554.8,142.0L555.2,141.6L555.7,141.2L556.2,140.8L556.6,140.4L557.1,140.0L557.6,139.5L558.1,139.1L558.5,138.6L559.0,138.1L559.5,137.6L559.9,137.1L560.4,136.6L560.9,136.0L561.4,135.5L561.8,134.9L562.3,134.3L562.8,133.8L563.3,133.2L563.7,132.6L564.2,131.9L564.7,131.3L565.1,130.7L565.6,130.0L566.1,129.3L566.6,128.5L567.0,127.7L567.5,126.9L568.0,126.1L568.4,125.2L568.9,124.3L569.4,123.3L569.9,122.4L570.3,121.4L570.8,120.5L571.3,119.4L571.7,118.4L572.2,117.3L572.7,116.2L573.2,115.0L573.6,113.8L574.1,112.6L574.6,111.5L575.1,110.3L575.5,109.2L576.0,108.2L576.5,107.2L576.9,106.3L577.4,105.4L577.9,104.6L578.4,103.8L578.8,103.1L579.3,102.4L579.8,101.7L580.2,101.0L580.7,100.3L581.2,99.7L581.7,99.0L582.1,98.4L582.6,97.8L583.1,97.3L583.6,96.8L584.0,96.3L584.5,95.9L585.0,95.4L585.4,95.0L585.9,94.6L586.4,94.1L586.9,93.7L587.3,93.2L587.8,92.6L588.3,92.0L588.7,91.4L589.2,90.6L589.7,89.8L590.2,88.8L590.6,87.9L591.1,86.8L591.6,85.7L592.0,84.5L592.5,83.3L593.0,82.0L593.5,80.6L593.9,79.1L594.4,77.4L594.9,75.7L595.4,73.9L595.8,72.2L596.3,70.5L596.8,68.8L597.2,67.3L597.7,65.8L598.2,64.3L598.7,62.9L599.1,61.4L599.6,59.9L600.1,58.4L600.5,56.9L601.0,55.3L601.5,53.8L602.0,52.4L602.4,51.0L602.9,49.8L603.4,48.7L603.8,47.7L604.3,46.8L604.8,46.0L605.3,45.3L605.7,44.6L606.2,44.1L606.7,43.7L607.2,43.3L607.6,43.1L608.1,43.0L608.6,43.2L609.0,43.5L609.5,44.0L610.0,44.7L610.5,45.5L610.9,46.5L611.4,47.6L611.9,48.8L612.3,50.4L612.8,52.2L613.3,54.4L613.8,56.9L614.2,59.8L614.7,62.9L615.2,66.4L615.7,70.2L616.1,74.3L616.6,78.6L617.1,82.9L617.5,87.2L618.0,91.4L618.5,95.7L619.0,99.9L619.4,104.1L619.9,108.2L620.4,112.2L620.8,116.0L621.3,119.4L621.8,122.4L622.3,125.0L622.7,127.3L623.2,129.3L623.7,131.0L624.1,132.6L624.6,134.0L625.1,135.3L625.6,136.4L626.0,137.4L626.5,138.3L627.0,139.2L627.5,140.0L627.9,140.7L628.4,141.4L628.9,141.9L629.3,142.3L629.8,142.7L630.3,143.1L630.8,143.5L631.2,143.8L631.7,144.1L632.2,144.4L632.6,144.7L633.1,144.9L633.6,145.2L634.1,145.3L634.5,145.5L635.0,145.6L635.5,145.7L636.0,145.8L636.4,145.8L636.9,145.9L637.4,146.0L637.8,146.0L638.3,146.1L638.8,146.2L639.3,146.2L639.7,146.3L640.2,146.3L640.7,146.4L641.1,146.5L641.6,146.6L642.1,146.6L642.6,146.7L643.0,146.8L643.5,146.9L644.0,147.0L644.4,147.1L644.9,147.2L645.4,147.3L645.9,147.4L646.3,147.5L646.8,147.7L647.3,147.8L647.8,147.9L648.2,148.0L648.7,148.1L649.2,148.2L649.6,148.3L650.1,148.4L650.6,148.6L651.1,148.7L651.5,148.8L652.0,148.9L652.5,149.0L652.9,149.1L653.4,149.3L653.9,149.4L654.4,149.5L654.8,149.6L655.3,149.7L655.8,149.9L656.2,150.0L656.7,150.1L657.2,150.3L657.7,150.4L658.1,150.5L658.6,150.6L659.1,150.8L659.6,150.9L660.0,151.0L660.5,151.1L661.0,151.3L661.4,151.4L661.9,151.5L662.4,151.6L662.9,151.7L663.3,151.8L663.8,151.9L664.3,152.0L664.7,152.1L665.2,152.2L665.7,152.3L666.2,152.4L666.6,152.4L667.1,152.5L667.6,152.6L668.1,152.7L668.5,152.8L669.0,152.9L669.5,152.9L669.9,153.0L670.4,153.1L670.9,153.1L671.4,153.2L671.8,153.2L672.3,153.3" fill="none" stroke="#e3231f" stroke-width="1.5" stroke-linejoin="round"/>
<path d="M398.5,85.7L399.0,94.9L399.4,103.9L399.9,112.5L400.4,120.4L400.9,127.4L401.3,133.2L401.8,137.7L402.3,140.7L402.7,142.2L403.2,142.2L403.7,141.0L404.2,138.9L404.6,136.1L405.1,133.0L405.6,129.7L406.1,126.2L406.5,122.7L407.0,119.1L407.5,115.5L407.9,111.9L408.4,108.3L408.9,104.6L409.4,101.0L409.8,97.4L410.3,93.8L410.8,90.3L411.2,86.8L411.7,83.3L412.2,79.9L412.7,76.5L413.1,73.2L413.6,70.0L414.1,67.1L414.6,64.3L415.0,62.0L415.5,59.9L416.0,58.2L416.4,56.9L416.9,55.9L417.4,55.3L417.9,55.3L418.3,55.9L418.8,57.0L419.3,58.8L419.7,61.2L420.2,64.1L420.7,67.6L421.2,71.7L421.6,76.3L422.1,81.1L422.6,86.0L423.0,90.9L423.5,95.7L424.0,100.4L424.5,105.1L424.9,109.8L425.4,114.4L425.9,119.0L426.4,123.7L426.8,128.5L427.3,133.2L427.8,137.7L428.2,141.8L428.7,145.3L429.2,148.3L429.7,150.6L430.1,152.4L430.6,153.7L431.1,154.5L431.5,155.0L432.0,155.2L432.5,155.2L433.0,154.9L433.4,154.4L433.9,153.9L434.4,153.4L434.8,153.0L435.3,152.6L435.8,152.4L436.3,152.2L436.7,152.0L437.2,151.8L437.7,151.7L438.2,151.6L438.6,151.6L439.1,151.5L439.6,151.5L440.0,151.6L440.5,151.6L441.0,151.6L441.5,151.7L441.9,151.7L442.4,151.7L442.9,151.7L443.3,151.6L443.8,151.5L444.3,151.3L444.8,151.2L445.2,151.0L445.7,150.8L446.2,150.6L446.7,150.4L447.1,150.2L447.6,150.0L448.1,149.7L448.5,149.5L449.0,149.3L449.5,149.0L450.0,148.7L450.4,148.5L450.9,148.2L451.4,147.9L451.8,147.5L452.3,147.2L452.8,146.8L453.3,146.4L453.7,146.0L454.2,145.5L454.7,145.0L455.1,144.5L455.6,143.9L456.1,143.2L456.6,142.6L457.0,141.9L457.5,141.2L458.0,140.5L458.5,139.8L458.9,139.1L459.4,138.3L459.9,137.5L460.3,136.7L460.8,135.9L461.3,135.0L461.8,134.2L462.2,133.3L462.7,132.4L463.2,131.5L463.6,130.6L464.1,129.7L464.6,128.8L465.1,127.9L465.5,127.0L466.0,126.1L466.5,125.1L466.9,124.2L467.4,123.3L467.9,122.3L468.4,121.4L468.8,120.6L469.3,119.7L469.8,118.9L470.3,118.1L470.7,117.3L471.2,116.5L471.7,115.8L472.1,115.1L472.6,114.3L473.1,113.6L473.6,113.0L474.0,112.3L474.5,111.6L475.0,111.0L475.4,110.3L475.9,109.6L476.4,108.9L476.9,108.3L477.3,107.6L477.8,106.9L478.3,106.3L478.8,105.7L479.2,105.1L479.7,104.6L480.2,104.2L480.6,103.9L481.1,103.8L481.6,103.8L482.1,104.0L482.5,104.4L483.0,105.0L483.5,105.7L483.9,106.6L484.4,107.5L484.9,108.5L485.4,109.5L485.8,110.6L486.3,111.8L486.8,113.2L487.2,114.7L487.7,116.3L488.2,117.9L488.7,119.7L489.1,121.4L489.6,123.2L490.1,124.9L490.6,126.5L491.0,128.0L491.5,129.4L492.0,130.7L492.4,132.0L492.9,133.2L493.4,134.5L493.9,135.6L494.3,136.8L494.8,137.9L495.3,139.0L495.7,140.0L496.2,140.9L496.7,141.8L497.2,142.7L497.6,143.5L498.1,144.2L498.6,144.9L499.1,145.6L499.5,146.3L500.0,147.0L500.5,147.7L500.9,148.3L501.4,148.9L501.9,149.5L502.4,150.0L502.8,150.5L503.3,151.0L503.8,151.3L504.2,151.7L504.7,152.0L505.2,152.2L505.7,152.4L506.1,152.7L506.6,152.9L507.1,153.1L507.5,153.3L508.0,153.5L508.5,153.6L509.0,153.8L509.4,153.9L509.9,154.1L510.4,154.2L510.9,154.3L511.3,154.4L511.8,154.5L512.3,154.6L512.7,154.6L513.2,154.7L513.7,154.8L514.2,154.8L514.6,154.9L515.1,155.0L515.6,155.0L516.0,155.1L516.5,155.2L517.0,155.2L517.5,155.3L517.9,155.3L518.4,155.4L518.9,155.4L519.3,155.4L519.8,155.5L520.3,155.5L520.8,155.5L521.2,155.5L521.7,155.5L522.2,155.5L522.7,155.5L523.1,155.5L523.6,155.5L524.1,155.5L524.5,155.4L525.0,155.4L525.5,155.4L526.0,155.4L526.4,155.4L526.9,155.4L527.4,155.4L527.8,155.3L528.3,155.3L528.8,155.3L529.3,155.3L529.7,155.3L530.2,155.2L530.7,155.2L531.2,155.2L531.6,155.2L532.1,155.2L532.6,155.1L533.0,155.1L533.5,155.1L534.0,155.0L534.5,155.0L534.9,155.0L535.4,154.9L535.9,154.9L536.3,154.9L536.8,154.8L537.3,154.8L537.8,154.8L538.2,154.7L538.7,154.7L539.2,154.6L539.6,154.6L540.1,154.6L540.6,154.5L541.1,154.5L541.5,154.4L542.0,154.4L542.5,154.3L543.0,154.3L543.4,154.2L543.9,154.2L544.4,154.1L544.8,154.1L545.3,154.0L545.8,154.0L546.3,153.9L546.7,153.9L547.2,153.8L547.7,153.8L548.1,153.7L548.6,153.6L549.1,153.6L549.6,153.5L550.0,153.4L550.5,153.3L551.0,153.2L551.5,153.1L551.9,153.1L552.4,153.0L552.9,152.9L553.3,152.8L553.8,152.7L554.3,152.6L554.8,152.5L555.2,152.4L555.7,152.2L556.2,152.1L556.6,152.0L557.1,151.9L557.6,151.7L558.1,151.6L558.5,151.5L559.0,151.3L559.5,151.1L559.9,151.0L560.4,150.8L560.9,150.6L561.4,150.4L561.8,150.2L562.3,150.1L562.8,149.9L563.3,149.7L563.7,149.5L564.2,149.3L564.7,149.1L565.1,148.9L565.6,148.7L566.1,148.5L566.6,148.3L567.0,148.0L567.5,147.8L568.0,147.5L568.4,147.3L568.9,147.0L569.4,146.8L569.9,146.5L570.3,146.2L570.8,145.9L571.3,145.7L571.7,145.4L572.2,145.1L572.7,144.8L573.2,144.5L573.6,144.1L574.1,143.8L574.6,143.5L575.1,143.2L575.5,142.8L576.0,142.5L576.5,142.1L576.9,141.8L577.4,141.4L577.9,141.1L578.4,140.7L578.8,140.3L579.3,140.0L579.8,139.6L580.2,139.2L580.7,138.8L581.2,138.4L581.7,138.0L582.1,137.6L582.6,137.2L583.1,136.8L583.6,136.4L584.0,135.9L584.5,135.5L585.0,135.0L585.4,134.5L585.9,134.1L586.4,133.6L586.9,133.1L587.3,132.6L587.8,132.1L588.3,131.6L588.7,131.1L589.2,130.6L589.7,130.0L590.2,129.5L590.6,128.9L591.1,128.4L591.6,127.8L592.0,127.2L592.5,126.6L593.0,126.0L593.5,125.4L593.9,124.7L594.4,124.1L594.9,123.4L595.4,122.8L595.8,122.1L596.3,121.5L596.8,120.8L597.2,120.1L597.7,119.5L598.2,118.8L598.7,118.2L599.1,117.5L599.6,116.9L600.1,116.2L600.5,115.6L601.0,114.9L601.5,114.3L602.0,113.6L602.4,112.9L602.9,112.3L603.4,111.6L603.8,110.9L604.3,110.3L604.8,109.6L605.3,108.9L605.7,108.2L606.2,107.5L606.7,106.9L607.2,106.2L607.6,105.4L608.1,104.7L608.6,104.0L609.0,103.3L609.5,102.5L610.0,101.8L610.5,101.0L610.9,100.2L611.4,99.4L611.9,98.6L612.3,97.8L612.8,96.9L613.3,96.1L613.8,95.2L614.2,94.3L614.7,93.4L615.2,92.5L615.7,91.6L616.1,90.7L616.6,89.8L617.1,88.9L617.5,88.0L618.0,87.2L618.5,86.3L619.0,85.4L619.4,84.6L619.9,83.7L620.4,82.9L620.8,82.0L621.3,81.2L621.8,80.3L622.3,79.4L622.7,78.6L623.2,77.7L623.7,76.9L624.1,76.1L624.6,75.2L625.1,74.4L625.6,73.6L626.0,72.8L626.5,72.0L627.0,71.2L627.5,70.5L627.9,69.7L628.4,69.0L628.9,68.2L629.3,67.5L629.8,66.8L630.3,66.0L630.8,65.3L631.2,64.6L631.7,64.0L632.2,63.3L632.6,62.6L633.1,62.0L633.6,61.4L634.1,60.8L634.5,60.3L635.0,59.8L635.5,59.3L636.0,58.9L636.4,58.5L636.9,58.0L637.4,57.7L637.8,57.3L638.3,57.0L638.8,56.7L639.3,56.4L639.7,56.2L640.2,56.0L640.7,55.9L641.1,55.9L641.6,56.0L642.1,56.1L642.6,56.3L643.0,56.6L643.5,57.0L644.0,57.4L644.4,57.9L644.9,58.5L645.4,59.3L645.9,60.3L646.3,61.4L646.8,62.7L647.3,64.1L647.8,65.6L648.2,67.3L648.7,69.1L649.2,71.0L649.6,73.0L650.1,75.0L650.6,77.0L651.1,79.1L651.5,81.2L652.0,83.4L652.5,85.6L652.9,87.9L653.4,90.2L653.9,92.5L654.4,94.8L654.8,97.1L655.3,99.4L655.8,101.6L656.2,103.8L656.7,106.0L657.2,108.3L657.7,110.5L658.1,112.7L658.6,114.8L659.1,116.9L659.6,118.9L660.0,120.7L660.5,122.5L661.0,124.1L661.4,125.7L661.9,127.2L662.4,128.6L662.9,129.9L663.3,131.2L663.8,132.4L664.3,133.5L664.7,134.6L665.2,135.6L665.7,136.5L666.2,137.4L666.6,138.3L667.1,139.2L667.6,140.0L668.1,140.8L668.5,141.6L669.0,142.3L669.5,143.0L669.9,143.7L670.4,144.3L670.9,144.8L671.4,145.3L671.8,145.6L672.3,145.8" fill="none" stroke="#111111" stroke-width="1.5" stroke-linejoin="round"/>
<path d="M398.5,78.9L399.0,89.3L399.4,99.4L399.9,108.8L400.4,117.3L400.9,124.6L401.3,130.6L401.8,135.1L402.3,138.2L402.7,139.7L403.2,139.9L403.7,138.8L404.2,136.9L404.6,134.4L405.1,131.5L405.6,128.4L406.1,125.1L406.5,121.7L407.0,118.3L407.5,114.8L407.9,111.2L408.4,107.6L408.9,104.1L409.4,100.5L409.8,97.0L410.3,93.4L410.8,89.9L411.2,86.4L411.7,82.9L412.2,79.6L412.7,76.2L413.1,73.0L413.6,69.9L414.1,67.0L414.6,64.3L415.0,61.9L415.5,59.9L416.0,58.2L416.4,56.9L416.9,55.9L417.4,55.3L417.9,55.3L418.3,55.9L418.8,57.0L419.3,58.8L419.7,61.2L420.2,64.1L420.7,67.5L421.2,71.6L421.6,76.1L422.1,80.8L422.6,85.7L423.0,90.5L423.5,95.2L424.0,99.9L424.5,104.6L424.9,109.1L425.4,113.6L425.9,118.2L426.4,122.7L426.8,127.2L427.3,131.7L427.8,136.0L428.2,139.9L428.7,143.4L429.2,146.4L429.7,149.0L430.1,151.1L430.6,152.8L431.1,154.0L431.5,154.7L432.0,155.1L432.5,155.3L433.0,155.4L433.4,155.4L433.9,155.3L434.4,155.2L434.8,155.1L435.3,155.0L435.8,154.8L436.3,154.7L436.7,154.5L437.2,154.4L437.7,154.2L438.2,154.1L438.6,153.9L439.1,153.7L439.6,153.5L440.0,153.3L440.5,153.1L441.0,152.9L441.5,152.7L441.9,152.5L442.4,152.3L442.9,152.0L443.3,151.7L443.8,151.4L444.3,151.1L444.8,150.8L445.2,150.5L445.7,150.1L446.2,149.7L446.7,149.3L447.1,148.8L447.6,148.3L448.1,147.8L448.5,147.2L449.0,146.5L449.5,145.8L450.0,145.0L450.4,144.2L450.9,143.3L451.4,142.4L451.8,141.5L452.3,140.6L452.8,139.6L453.3,138.7L453.7,137.7L454.2,136.8L454.7,135.7L455.1,134.7L455.6,133.7L456.1,132.6L456.6,131.5L457.0,130.4L457.5,129.3L458.0,128.3L458.5,127.2L458.9,126.1L459.4,125.0L459.9,123.9L460.3,122.8L460.8,121.8L461.3,120.7L461.8,119.6L462.2,118.5L462.7,117.4L463.2,116.3L463.6,115.3L464.1,114.2L464.6,113.2L465.1,112.3L465.5,111.3L466.0,110.4L466.5,109.5L466.9,108.6L467.4,107.8L467.9,107.0L468.4,106.4L468.8,105.8L469.3,105.3L469.8,104.9L470.3,104.8L470.7,104.8L471.2,105.0L471.7,105.3L472.1,105.9L472.6,106.6L473.1,107.5L473.6,108.4L474.0,109.5L474.5,110.6L475.0,111.8L475.4,113.1L475.9,114.3L476.4,115.6L476.9,116.8L477.3,118.1L477.8,119.4L478.3,120.8L478.8,122.3L479.2,123.8L479.7,125.3L480.2,126.8L480.6,128.3L481.1,129.7L481.6,131.1L482.1,132.4L482.5,133.6L483.0,134.8L483.5,136.0L483.9,137.1L484.4,138.2L484.9,139.2L485.4,140.2L485.8,141.2L486.3,142.1L486.8,142.9L487.2,143.6L487.7,144.3L488.2,144.9L488.7,145.5L489.1,146.0L489.6,146.5L490.1,147.0L490.6,147.5L491.0,147.9L491.5,148.3L492.0,148.7L492.4,149.1L492.9,149.4L493.4,149.8L493.9,150.1L494.3,150.4L494.8,150.7L495.3,151.0L495.7,151.3L496.2,151.6L496.7,151.9L497.2,152.2L497.6,152.4L498.1,152.7L498.6,152.9L499.1,153.1L499.5,153.3L500.0,153.5L500.5,153.6L500.9,153.8L501.4,153.9L501.9,154.1L502.4,154.2L502.8,154.3L503.3,154.4L503.8,154.5L504.2,154.6L504.7,154.7L505.2,154.8L505.7,154.9L506.1,155.0L506.6,155.0L507.1,155.1L507.5,155.1L508.0,155.2L508.5,155.2L509.0,155.2L509.4,155.3L509.9,155.3L510.4,155.3L510.9,155.4L511.3,155.4L511.8,155.4L512.3,155.4L512.7,155.5L513.2,155.5L513.7,155.5L514.2,155.5L514.6,155.5L515.1,155.5L515.6,155.5L516.0,155.6L516.5,155.6L517.0,155.6L517.5,155.6L517.9,155.6L518.4,155.6L518.9,155.6L519.3,155.6L519.8,155.5L520.3,155.5L520.8,155.5L521.2,155.5L521.7,155.5L522.2,155.4L522.7,155.4L523.1,155.4L523.6,155.3L524.1,155.3L524.5,155.2L525.0,155.1L525.5,155.1L526.0,155.0L526.4,154.9L526.9,154.8L527.4,154.7L527.8,154.7L528.3,154.6L528.8,154.5L529.3,154.4L529.7,154.3L530.2,154.2L530.7,154.0L531.2,153.9L531.6,153.8L532.1,153.7L532.6,153.6L533.0,153.5L533.5,153.4L534.0,153.2L534.5,153.1L534.9,152.9L535.4,152.8L535.9,152.6L536.3,152.4L536.8,152.2L537.3,152.0L537.8,151.8L538.2,151.6L538.7,151.3L539.2,151.1L539.6,150.9L540.1,150.6L540.6,150.4L541.1,150.1L541.5,149.9L542.0,149.6L542.5,149.3L543.0,149.1L543.4,148.8L543.9,148.5L544.4,148.3L544.8,148.0L545.3,147.7L545.8,147.4L546.3,147.1L546.7,146.8L547.2,146.5L547.7,146.2L548.1,145.8L548.6,145.5L549.1,145.1L549.6,144.8L550.0,144.4L550.5,144.1L551.0,143.7L551.5,143.3L551.9,142.9L552.4,142.5L552.9,142.1L553.3,141.7L553.8,141.4L554.3,141.0L554.8,140.6L555.2,140.2L555.7,139.8L556.2,139.4L556.6,139.0L557.1,138.6L557.6,138.2L558.1,137.8L558.5,137.4L559.0,137.0L559.5,136.6L559.9,136.2L560.4,135.8L560.9,135.4L561.4,135.0L561.8,134.5L562.3,134.1L562.8,133.6L563.3,133.1L563.7,132.6L564.2,132.1L564.7,131.5L565.1,131.0L565.6,130.4L566.1,129.8L566.6,129.2L567.0,128.5L567.5,127.9L568.0,127.1L568.4,126.3L568.9,125.2L569.4,124.0L569.9,122.6L570.3,121.1L570.8,119.5L571.3,118.0L571.7,116.6L572.2,115.4L572.7,114.2L573.2,113.1L573.6,112.0L574.1,111.0L574.6,110.0L575.1,109.0L575.5,108.0L576.0,107.1L576.5,106.1L576.9,105.2L577.4,104.3L577.9,103.5L578.4,102.6L578.8,101.8L579.3,101.0L579.8,100.3L580.2,99.5L580.7,98.8L581.2,98.2L581.7,97.6L582.1,97.0L582.6,96.4L583.1,95.8L583.6,95.3L584.0,94.8L584.5,94.2L585.0,93.7L585.4,93.2L585.9,92.6L586.4,92.0L586.9,91.4L587.3,90.8L587.8,90.1L588.3,89.4L588.7,88.7L589.2,87.9L589.7,87.1L590.2,86.3L590.6,85.4L591.1,84.5L591.6,83.5L592.0,82.5L592.5,81.5L593.0,80.4L593.5,79.4L593.9,78.2L594.4,77.0L594.9,75.8L595.4,74.5L595.8,73.2L596.3,71.8L596.8,70.4L597.2,69.0L597.7,67.6L598.2,66.1L598.7,64.6L599.1,63.0L599.6,61.4L600.1,59.7L600.5,57.8L601.0,55.9L601.5,54.0L602.0,52.1L602.4,50.3L602.9,48.6L603.4,47.1L603.8,45.7L604.3,44.5L604.8,43.4L605.3,42.5L605.7,41.6L606.2,40.9L606.7,40.4L607.2,40.0L607.6,39.8L608.1,39.9L608.6,40.1L609.0,40.6L609.5,41.3L610.0,42.2L610.5,43.2L610.9,44.3L611.4,45.5L611.9,46.8L612.3,48.3L612.8,50.2L613.3,52.4L613.8,54.9L614.2,57.8L614.7,61.2L615.2,65.1L615.7,69.5L616.1,74.3L616.6,79.4L617.1,84.6L617.5,89.6L618.0,94.4L618.5,98.8L619.0,103.1L619.4,107.1L619.9,111.1L620.4,114.9L620.8,118.5L621.3,121.9L621.8,125.1L622.3,127.9L622.7,130.5L623.2,132.7L623.7,134.6L624.1,136.3L624.6,137.8L625.1,139.2L625.6,140.4L626.0,141.5L626.5,142.3L627.0,143.1L627.5,143.8L627.9,144.4L628.4,145.0L628.9,145.5L629.3,146.1L629.8,146.6L630.3,147.1L630.8,147.6L631.2,148.1L631.7,148.6L632.2,149.1L632.6,149.5L633.1,150.0L633.6,150.3L634.1,150.7L634.5,150.9L635.0,151.2L635.5,151.4L636.0,151.6L636.4,151.7L636.9,151.9L637.4,152.1L637.8,152.2L638.3,152.3L638.8,152.4L639.3,152.6L639.7,152.6L640.2,152.7L640.7,152.8L641.1,152.9L641.6,152.9L642.1,153.0L642.6,153.0L643.0,153.1L643.5,153.1L644.0,153.2L644.4,153.2L644.9,153.3L645.4,153.3L645.9,153.4L646.3,153.4L646.8,153.5L647.3,153.5L647.8,153.6L648.2,153.6L648.7,153.7L649.2,153.7L649.6,153.8L650.1,153.8L650.6,153.8L651.1,153.9L651.5,153.9L652.0,153.9L652.5,154.0L652.9,154.0L653.4,154.0L653.9,154.0L654.4,154.0L654.8,154.1L655.3,154.1L655.8,154.1L656.2,154.1L656.7,154.1L657.2,154.1L657.7,154.2L658.1,154.2L658.6,154.2L659.1,154.2L659.6,154.2L660.0,154.3L660.5,154.3L661.0,154.3L661.4,154.3L661.9,154.3L662.4,154.3L662.9,154.4L663.3,154.4L663.8,154.4L664.3,154.4L664.7,154.4L665.2,154.4L665.7,154.4L666.2,154.4L666.6,154.5L667.1,154.5L667.6,154.5L668.1,154.5L668.5,154.5L669.0,154.5L669.5,154.5L669.9,154.5L670.4,154.5L670.9,154.5L671.4,154.5L671.8,154.5L672.3,154.5" fill="none" stroke="#a05dd4" stroke-width="1.5" stroke-linejoin="round"/>
<text x="535.4" y="180.9" font-family="'Liberation Serif', serif" font-size="9.7" font-weight="bold" text-anchor="middle" fill="#111">Wavelength (nm)</text>
<text x="379.0" y="95.5" font-family="'Liberation Serif', serif" font-size="9.5" font-weight="bold" text-anchor="middle" fill="#111" transform="rotate(-90 379.0 95.5)">Absorbance</text>
<text x="535.6" y="11.7" font-family="'Liberation Serif', serif" font-size="9.5" font-weight="bold" text-anchor="middle" fill="#111">WT</text>
<text x="535.6" y="22.6" font-family="'Liberation Serif', serif" font-size="9.5" font-weight="bold" text-anchor="middle" fill="#111">Pr estimation</text>
<text x="535.6" y="33.3" font-family="'Liberation Serif', serif" font-size="9.5" font-weight="bold" text-anchor="middle" fill="#111">pH 7.5, 30°C</text>
<line x1="488.5" y1="48.8" x2="508.1" y2="48.8" stroke="#e3231f" stroke-width="1.4"/>
<text x="510.3" y="51.9" font-family="'Liberation Serif', serif" font-size="8.7" font-weight="normal" text-anchor="start" fill="#262626">Pr-enriched (733 nm)</text>
<line x1="488.5" y1="58.9" x2="508.1" y2="58.9" stroke="#111111" stroke-width="1.4"/>
<text x="510.3" y="62.0" font-family="'Liberation Serif', serif" font-size="8.7" font-weight="normal" text-anchor="start" fill="#262626">Pure-Pfr extrapolated</text>
<line x1="488.5" y1="69.3" x2="508.1" y2="69.3" stroke="#a05dd4" stroke-width="1.4"/>
<text x="510.3" y="72.39999999999999" font-family="'Liberation Serif', serif" font-size="8.7" font-weight="normal" text-anchor="start" fill="#262626">Pure-Pr extrapolated</text>
<line x1="641.14" y1="50.8" x2="641.14" y2="155.5" stroke="#222" stroke-width="1.2" stroke-dasharray="2.0,1.9"/>
<text x="641.0" y="47.9" font-family="'Liberation Sans', sans-serif" font-size="9.7" font-weight="normal" text-anchor="start" fill="#1a1a1a">754</text>
<path d="M51.5,280.4L54.9,280.5L58.4,280.5L61.8,280.6L65.2,280.6L68.7,280.7L72.1,280.8L75.6,280.9L79.0,281.0L82.4,281.0L85.9,280.7L89.3,280.4L92.7,280.0L96.2,279.4L99.6,278.7L103.1,278.0L106.5,277.2L109.9,276.4L113.4,275.7L116.8,274.9L120.2,274.3L123.7,273.7L127.1,273.2L130.6,272.8L134.0,272.5L137.4,272.4L140.9,272.4L144.3,272.5L147.7,272.7L151.2,273.0L154.6,273.3L158.1,273.8L161.5,274.3L164.9,275.1L168.4,276.2L171.8,277.9L175.2,279.9L178.7,282.2L182.1,284.6L185.5,287.0L189.0,289.4L192.4,291.4L195.9,292.9L199.3,294.0L202.7,294.6L206.2,294.6L209.6,294.0L213.0,293.0L216.5,291.7L219.9,290.0L223.4,288.1L226.8,286.1L230.2,284.6L233.7,283.4L237.1,282.4L240.5,281.3L244.0,280.3L247.4,279.7L250.9,279.5L254.3,279.5L257.7,279.6L261.2,280.0L264.6,280.6L268.0,281.3L271.5,282.2L274.9,283.1L278.4,284.1L281.8,285.2L285.2,286.4L288.7,287.8L292.1,288.9L292.1,288.1L288.7,286.8L285.2,285.2L281.8,283.5L278.4,281.9L274.9,280.3L271.5,278.7L268.0,277.0L264.6,275.2L261.2,273.3L257.7,271.2L254.3,269.0L250.9,266.5L247.4,263.7L244.0,260.9L240.5,257.8L237.1,254.3L233.7,250.2L230.2,245.6L226.8,241.3L223.4,237.0L219.9,232.2L216.5,227.8L213.0,224.5L209.6,222.7L206.2,222.8L202.7,224.4L199.3,227.8L195.9,233.0L192.4,239.9L189.0,247.5L185.5,255.0L182.1,262.0L178.7,268.6L175.2,274.9L171.8,281.8L168.4,289.5L164.9,295.7L161.5,298.5L158.1,299.7L154.6,300.3L151.2,300.7L147.7,301.1L144.3,301.4L140.9,301.6L137.4,301.6L134.0,301.5L130.6,301.3L127.1,300.9L123.7,300.1L120.2,299.0L116.8,297.9L113.4,296.7L109.9,295.6L106.5,294.6L103.1,293.7L99.6,292.7L96.2,292.0L92.7,291.5L89.3,291.4L85.9,291.8L82.4,292.5L79.0,293.5L75.6,294.7L72.1,295.8L68.7,296.8L65.2,297.8L61.8,298.9L58.4,299.9L54.9,300.9L51.5,301.7Z" fill="#f3e326"/>
<path d="M51.5,280.4L54.9,280.5L58.4,280.5L61.8,280.6L65.2,280.6L68.7,280.7L72.1,280.8L75.6,280.9L79.0,281.0L82.4,281.0L85.9,280.7L89.3,280.4L92.7,280.0L96.2,279.4L99.6,278.7L103.1,278.0L106.5,277.2L109.9,276.4L113.4,275.7L116.8,274.9L120.2,274.3L123.7,273.7L127.1,273.2L130.6,272.8L134.0,272.5L137.4,272.4L140.9,272.4L144.3,272.5L147.7,272.7L151.2,273.0L154.6,273.3L158.1,273.8L161.5,274.3L164.9,275.1L168.4,276.2L171.8,277.9L175.2,279.9L178.7,282.2L182.1,284.6L185.5,287.0L189.0,289.4L192.4,291.4L195.9,292.9L199.3,294.0L202.7,294.6L206.2,294.6L209.6,294.0L213.0,293.0L216.5,291.7L219.9,290.0L223.4,288.1L226.8,286.1L230.2,284.6L233.7,283.4L237.1,282.4L240.5,281.3L244.0,280.3L247.4,279.7L250.9,279.5L254.3,279.5L257.7,279.6L261.2,280.0L264.6,280.6L268.0,281.3L271.5,282.2L274.9,283.1L278.4,284.1L281.8,285.2L285.2,286.4L288.7,287.8L292.1,288.9L292.1,288.1L288.7,286.8L285.2,285.2L281.8,283.6L278.4,282.0L274.9,280.4L271.5,278.7L268.0,277.1L264.6,275.3L261.2,273.5L257.7,271.4L254.3,269.2L250.9,266.7L247.4,264.1L244.0,261.3L240.5,258.3L237.1,254.9L233.7,250.9L230.2,246.4L226.8,242.2L223.4,238.0L219.9,233.4L216.5,229.1L213.0,225.9L209.6,224.2L206.2,224.2L202.7,225.9L199.3,229.1L195.9,234.2L192.4,241.0L189.0,248.4L185.5,255.7L182.1,262.5L178.7,268.9L175.2,275.0L171.8,281.7L168.4,289.3L164.9,295.2L161.5,298.0L158.1,299.2L154.6,299.8L151.2,300.2L147.7,300.5L144.3,300.8L140.9,301.0L137.4,301.0L134.0,300.9L130.6,300.7L127.1,300.3L123.7,299.5L120.2,298.5L116.8,297.4L113.4,296.2L109.9,295.2L106.5,294.3L103.1,293.3L99.6,292.4L96.2,291.7L92.7,291.2L89.3,291.2L85.9,291.5L82.4,292.3L79.0,293.3L75.6,294.4L72.1,295.5L68.7,296.5L65.2,297.5L61.8,298.5L58.4,299.5L54.9,300.5L51.5,301.3Z" fill="#f4e223"/>
<path d="M51.5,280.4L54.9,280.5L58.4,280.5L61.8,280.6L65.2,280.6L68.7,280.7L72.1,280.8L75.6,280.9L79.0,281.0L82.4,281.0L85.9,280.7L89.3,280.4L92.7,280.0L96.2,279.4L99.6,278.7L103.1,278.0L106.5,277.2L109.9,276.4L113.4,275.7L116.8,274.9L120.2,274.3L123.7,273.7L127.1,273.2L130.6,272.8L134.0,272.5L137.4,272.4L140.9,272.4L144.3,272.5L147.7,272.7L151.2,273.0L154.6,273.3L158.1,273.8L161.5,274.3L164.9,275.1L168.4,276.2L171.8,277.9L175.2,279.9L178.7,282.2L182.1,284.6L185.5,287.0L189.0,289.4L192.4,291.4L195.9,292.9L199.3,294.0L202.7,294.6L206.2,294.6L209.6,294.0L213.0,293.0L216.5,291.7L219.9,290.0L223.4,288.1L226.8,286.1L230.2,284.6L233.7,283.4L237.1,282.4L240.5,281.3L244.0,280.3L247.4,279.7L250.9,279.5L254.3,279.5L257.7,279.6L261.2,280.0L264.6,280.6L268.0,281.3L271.5,282.2L274.9,283.1L278.4,284.1L281.8,285.2L285.2,286.4L288.7,287.8L292.1,288.9L292.1,288.1L288.7,286.8L285.2,285.2L281.8,283.6L278.4,282.0L274.9,280.4L271.5,278.8L268.0,277.2L264.6,275.4L261.2,273.6L257.7,271.6L254.3,269.4L250.9,267.0L247.4,264.4L244.0,261.7L240.5,258.8L237.1,255.5L233.7,251.6L230.2,247.2L226.8,243.2L223.4,239.1L219.9,234.6L216.5,230.5L213.0,227.3L209.6,225.7L206.2,225.7L202.7,227.3L199.3,230.5L195.9,235.5L192.4,242.0L189.0,249.2L185.5,256.4L182.1,263.0L178.7,269.2L175.2,275.1L171.8,281.6L168.4,289.0L164.9,294.8L161.5,297.5L158.1,298.6L154.6,299.2L151.2,299.6L147.7,299.9L144.3,300.2L140.9,300.4L137.4,300.4L134.0,300.3L130.6,300.1L127.1,299.7L123.7,299.0L120.2,298.0L116.8,296.9L113.4,295.8L109.9,294.8L106.5,293.9L103.1,293.0L99.6,292.2L96.2,291.4L92.7,291.0L89.3,290.9L85.9,291.3L82.4,292.0L79.0,293.0L75.6,294.1L72.1,295.2L68.7,296.2L65.2,297.1L61.8,298.1L58.4,299.1L54.9,300.1L51.5,300.9Z" fill="#f5e11f"/>
<path d="M51.5,280.4L54.9,280.5L58.4,280.5L61.8,280.6L65.2,280.6L68.7,280.7L72.1,280.8L75.6,280.9L79.0,281.0L82.4,281.0L85.9,280.7L89.3,280.4L92.7,280.0L96.2,279.4L99.6,278.7L103.1,278.0L106.5,277.2L109.9,276.4L113.4,275.7L116.8,274.9L120.2,274.3L123.7,273.7L127.1,273.2L130.6,272.8L134.0,272.5L137.4,272.4L140.9,272.4L144.3,272.5L147.7,272.7L151.2,273.0L154.6,273.3L158.1,273.8L161.5,274.3L164.9,275.1L168.4,276.2L171.8,277.9L175.2,279.9L178.7,282.2L182.1,284.6L185.5,287.0L189.0,289.4L192.4,291.4L195.9,292.9L199.3,294.0L202.7,294.6L206.2,294.6L209.6,294.0L213.0,293.0L216.5,291.7L219.9,290.0L223.4,288.1L226.8,286.1L230.2,284.6L233.7,283.4L237.1,282.4L240.5,281.3L244.0,280.3L247.4,279.7L250.9,279.5L254.3,279.5L257.7,279.6L261.2,280.0L264.6,280.6L268.0,281.3L271.5,282.2L274.9,283.1L278.4,284.1L281.8,285.2L285.2,286.4L288.7,287.8L292.1,288.9L292.1,288.1L288.7,286.9L285.2,285.2L281.8,283.6L278.4,282.1L274.9,280.5L271.5,278.9L268.0,277.3L264.6,275.6L261.2,273.7L257.7,271.8L254.3,269.6L250.9,267.3L247.4,264.7L244.0,262.1L240.5,259.3L237.1,256.1L233.7,252.3L230.2,248.0L226.8,244.1L223.4,240.2L219.9,235.8L216.5,231.8L213.0,228.7L209.6,227.2L206.2,227.2L202.7,228.8L199.3,231.9L195.9,236.7L192.4,243.1L189.0,250.1L185.5,257.0L182.1,263.5L178.7,269.4L175.2,275.2L171.8,281.6L168.4,288.7L164.9,294.4L161.5,297.0L158.1,298.1L154.6,298.7L151.2,299.0L147.7,299.3L144.3,299.6L140.9,299.7L137.4,299.8L134.0,299.7L130.6,299.5L127.1,299.1L123.7,298.4L120.2,297.5L116.8,296.4L113.4,295.4L109.9,294.4L106.5,293.5L103.1,292.7L99.6,291.9L96.2,291.2L92.7,290.8L89.3,290.7L85.9,291.1L82.4,291.8L79.0,292.7L75.6,293.8L72.1,294.9L68.7,295.8L65.2,296.8L61.8,297.7L58.4,298.7L54.9,299.6L51.5,300.4Z" fill="#f6dd19"/>
<path d="M51.5,280.4L54.9,280.5L58.4,280.5L61.8,280.6L65.2,280.6L68.7,280.7L72.1,280.8L75.6,280.9L79.0,281.0L82.4,281.0L85.9,280.7L89.3,280.4L92.7,280.0L96.2,279.4L99.6,278.7L103.1,278.0L106.5,277.2L109.9,276.4L113.4,275.7L116.8,274.9L120.2,274.3L123.7,273.7L127.1,273.2L130.6,272.8L134.0,272.5L137.4,272.4L140.9,272.4L144.3,272.5L147.7,272.7L151.2,273.0L154.6,273.3L158.1,273.8L161.5,274.3L164.9,275.1L168.4,276.2L171.8,277.9L175.2,279.9L178.7,282.2L182.1,284.6L185.5,287.0L189.0,289.4L192.4,291.4L195.9,292.9L199.3,294.0L202.7,294.6L206.2,294.6L209.6,294.0L213.0,293.0L216.5,291.7L219.9,290.0L223.4,288.1L226.8,286.1L230.2,284.6L233.7,283.4L237.1,282.4L240.5,281.3L244.0,280.3L247.4,279.7L250.9,279.5L254.3,279.5L257.7,279.6L261.2,280.0L264.6,280.6L268.0,281.3L271.5,282.2L274.9,283.1L278.4,284.1L281.8,285.2L285.2,286.4L288.7,287.8L292.1,288.9L292.1,288.2L288.7,286.9L285.2,285.3L281.8,283.7L278.4,282.1L274.9,280.5L271.5,279.0L268.0,277.3L264.6,275.7L261.2,273.9L257.7,271.9L254.3,269.8L250.9,267.6L247.4,265.1L244.0,262.5L240.5,259.7L237.1,256.7L233.7,253.0L230.2,248.8L226.8,245.0L223.4,241.2L219.9,237.0L216.5,233.1L213.0,230.2L209.6,228.7L206.2,228.7L202.7,230.3L199.3,233.3L195.9,238.0L192.4,244.2L189.0,251.0L185.5,257.7L182.1,263.9L178.7,269.7L175.2,275.3L171.8,281.5L168.4,288.4L164.9,293.9L161.5,296.5L158.1,297.5L154.6,298.1L151.2,298.4L147.7,298.7L144.3,299.0L140.9,299.1L137.4,299.2L134.0,299.1L130.6,298.9L127.1,298.6L123.7,297.9L120.2,297.0L116.8,295.9L113.4,294.9L109.9,294.0L106.5,293.2L103.1,292.4L99.6,291.6L96.2,290.9L92.7,290.5L89.3,290.5L85.9,290.8L82.4,291.5L79.0,292.5L75.6,293.5L72.1,294.5L68.7,295.5L65.2,296.4L61.8,297.3L58.4,298.3L54.9,299.2L51.5,300.0Z" fill="#f8d712"/>
<path d="M51.5,280.4L54.9,280.5L58.4,280.5L61.8,280.6L65.2,280.6L68.7,280.7L72.1,280.8L75.6,280.9L79.0,281.0L82.4,281.0L85.9,280.7L89.3,280.4L92.7,280.0L96.2,279.4L99.6,278.7L103.1,278.0L106.5,277.2L109.9,276.4L113.4,275.7L116.8,274.9L120.2,274.3L123.7,273.7L127.1,273.2L130.6,272.8L134.0,272.5L137.4,272.4L140.9,272.4L144.3,272.5L147.7,272.7L151.2,273.0L154.6,273.3L158.1,273.8L161.5,274.3L164.9,275.1L168.4,276.2L171.8,277.9L175.2,279.9L178.7,282.2L182.1,284.6L185.5,287.0L189.0,289.4L192.4,291.4L195.9,292.9L199.3,294.0L202.7,294.6L206.2,294.6L209.6,294.0L213.0,293.0L216.5,291.7L219.9,290.0L223.4,288.1L226.8,286.1L230.2,284.6L233.7,283.4L237.1,282.4L240.5,281.3L244.0,280.3L247.4,279.7L250.9,279.5L254.3,279.5L257.7,279.6L261.2,280.0L264.6,280.6L268.0,281.3L271.5,282.2L274.9,283.1L278.4,284.1L281.8,285.2L285.2,286.4L288.7,287.8L292.1,288.9L292.1,288.2L288.7,286.9L285.2,285.3L281.8,283.7L278.4,282.1L274.9,280.6L271.5,279.0L268.0,277.4L264.6,275.8L261.2,274.0L257.7,272.1L254.3,270.1L250.9,267.8L247.4,265.4L244.0,262.9L240.5,260.2L237.1,257.3L233.7,253.7L230.2,249.6L226.8,246.0L223.4,242.3L219.9,238.2L216.5,234.5L213.0,231.6L209.6,230.2L206.2,230.2L202.7,231.7L199.3,234.7L195.9,239.2L192.4,245.3L189.0,251.9L185.5,258.4L182.1,264.4L178.7,270.0L175.2,275.4L171.8,281.4L168.4,288.1L164.9,293.5L161.5,296.0L158.1,297.0L154.6,297.5L151.2,297.9L147.7,298.1L144.3,298.4L140.9,298.5L137.4,298.6L134.0,298.5L130.6,298.4L127.1,298.0L123.7,297.3L120.2,296.5L116.8,295.5L113.4,294.5L109.9,293.6L106.5,292.8L103.1,292.0L99.6,291.3L96.2,290.7L92.7,290.3L89.3,290.3L85.9,290.6L82.4,291.3L79.0,292.2L75.6,293.2L72.1,294.2L68.7,295.2L65.2,296.1L61.8,297.0L58.4,297.9L54.9,298.8L51.5,299.5Z" fill="#fad00e"/>
<path d="M51.5,280.4L54.9,280.5L58.4,280.5L61.8,280.6L65.2,280.6L68.7,280.7L72.1,280.8L75.6,280.9L79.0,281.0L82.4,281.0L85.9,280.7L89.3,280.4L92.7,280.0L96.2,279.4L99.6,278.7L103.1,278.0L106.5,277.2L109.9,276.4L113.4,275.7L116.8,274.9L120.2,274.3L123.7,273.7L127.1,273.2L130.6,272.8L134.0,272.5L137.4,272.4L140.9,272.4L144.3,272.5L147.7,272.7L151.2,273.0L154.6,273.3L158.1,273.8L161.5,274.3L164.9,275.1L168.4,276.2L171.8,277.9L175.2,279.9L178.7,282.2L182.1,284.6L185.5,287.0L189.0,289.4L192.4,291.4L195.9,292.9L199.3,294.0L202.7,294.6L206.2,294.6L209.6,294.0L213.0,293.0L216.5,291.7L219.9,290.0L223.4,288.1L226.8,286.1L230.2,284.6L233.7,283.4L237.1,282.4L240.5,281.3L244.0,280.3L247.4,279.7L250.9,279.5L254.3,279.5L257.7,279.6L261.2,280.0L264.6,280.6L268.0,281.3L271.5,282.2L274.9,283.1L278.4,284.1L281.8,285.2L285.2,286.4L288.7,287.8L292.1,288.9L292.1,288.2L288.7,286.9L285.2,285.3L281.8,283.7L278.4,282.2L274.9,280.7L271.5,279.1L268.0,277.5L264.6,275.9L261.2,274.2L257.7,272.3L254.3,270.3L250.9,268.1L247.4,265.7L244.0,263.3L240.5,260.7L237.1,257.9L233.7,254.4L230.2,250.4L226.8,246.9L223.4,243.4L219.9,239.4L216.5,235.8L213.0,233.0L209.6,231.7L206.2,231.7L202.7,233.2L199.3,236.0L195.9,240.5L192.4,246.3L189.0,252.7L185.5,259.0L182.1,264.9L178.7,270.3L175.2,275.5L171.8,281.3L168.4,287.9L164.9,293.1L161.5,295.5L158.1,296.5L154.6,297.0L151.2,297.3L147.7,297.5L144.3,297.8L140.9,297.9L137.4,298.0L134.0,297.9L130.6,297.8L127.1,297.4L123.7,296.8L120.2,295.9L116.8,295.0L113.4,294.0L109.9,293.2L106.5,292.5L103.1,291.7L99.6,291.0L96.2,290.4L92.7,290.0L89.3,290.0L85.9,290.4L82.4,291.1L79.0,292.0L75.6,292.9L72.1,293.9L68.7,294.8L65.2,295.7L61.8,296.6L58.4,297.5L54.9,298.4L51.5,299.1Z" fill="#fac919"/>
<path d="M51.5,280.4L54.9,280.5L58.4,280.5L61.8,280.6L65.2,280.6L68.7,280.7L72.1,280.8L75.6,280.9L79.0,281.0L82.4,281.0L85.9,280.7L89.3,280.4L92.7,280.0L96.2,279.4L99.6,278.7L103.1,278.0L106.5,277.2L109.9,276.4L113.4,275.7L116.8,274.9L120.2,274.3L123.7,273.7L127.1,273.2L130.6,272.8L134.0,272.5L137.4,272.4L140.9,272.4L144.3,272.5L147.7,272.7L151.2,273.0L154.6,273.3L158.1,273.8L161.5,274.3L164.9,275.1L168.4,276.2L171.8,277.9L175.2,279.9L178.7,282.2L182.1,284.6L185.5,287.0L189.0,289.4L192.4,291.4L195.9,292.9L199.3,294.0L202.7,294.6L206.2,294.6L209.6,294.0L213.0,293.0L216.5,291.7L219.9,290.0L223.4,288.1L226.8,286.1L230.2,284.6L233.7,283.4L237.1,282.4L240.5,281.3L244.0,280.3L247.4,279.7L250.9,279.5L254.3,279.5L257.7,279.6L261.2,280.0L264.6,280.6L268.0,281.3L271.5,282.2L274.9,283.1L278.4,284.1L281.8,285.2L285.2,286.4L288.7,287.8L292.1,288.9L292.1,288.2L288.7,286.9L285.2,285.3L281.8,283.8L278.4,282.2L274.9,280.7L271.5,279.2L268.0,277.6L264.6,276.0L261.2,274.3L257.7,272.5L254.3,270.5L250.9,268.4L247.4,266.1L244.0,263.7L240.5,261.2L237.1,258.4L233.7,255.1L230.2,251.2L226.8,247.8L223.4,244.4L219.9,240.6L216.5,237.1L213.0,234.5L209.6,233.1L206.2,233.2L202.7,234.6L199.3,237.4L195.9,241.7L192.4,247.4L189.0,253.6L185.5,259.7L182.1,265.3L178.7,270.6L175.2,275.6L171.8,281.2L168.4,287.6L164.9,292.7L161.5,295.0L158.1,295.9L154.6,296.4L151.2,296.7L147.7,297.0L144.3,297.2L140.9,297.3L137.4,297.4L134.0,297.3L130.6,297.2L127.1,296.8L123.7,296.2L120.2,295.4L116.8,294.5L113.4,293.6L109.9,292.8L106.5,292.1L103.1,291.4L99.6,290.7L96.2,290.1L92.7,289.8L89.3,289.8L85.9,290.2L82.4,290.8L79.0,291.7L75.6,292.7L72.1,293.6L68.7,294.5L65.2,295.3L61.8,296.2L58.4,297.1L54.9,297.9L51.5,298.6Z" fill="#fac124"/>
<path d="M51.5,280.4L54.9,280.5L58.4,280.5L61.8,280.6L65.2,280.6L68.7,280.7L72.1,280.8L75.6,280.9L79.0,281.0L82.4,281.0L85.9,280.7L89.3,280.4L92.7,280.0L96.2,279.4L99.6,278.7L103.1,278.0L106.5,277.2L109.9,276.4L113.4,275.7L116.8,274.9L120.2,274.3L123.7,273.7L127.1,273.2L130.6,272.8L134.0,272.5L137.4,272.4L140.9,272.4L144.3,272.5L147.7,272.7L151.2,273.0L154.6,273.3L158.1,273.8L161.5,274.3L164.9,275.1L168.4,276.2L171.8,277.9L175.2,279.9L178.7,282.2L182.1,284.6L185.5,287.0L189.0,289.4L192.4,291.4L195.9,292.9L199.3,294.0L202.7,294.6L206.2,294.6L209.6,294.0L213.0,293.0L216.5,291.7L219.9,290.0L223.4,288.1L226.8,286.1L230.2,284.6L233.7,283.4L237.1,282.4L240.5,281.3L244.0,280.3L247.4,279.7L250.9,279.5L254.3,279.5L257.7,279.6L261.2,280.0L264.6,280.6L268.0,281.3L271.5,282.2L274.9,283.1L278.4,284.1L281.8,285.2L285.2,286.4L288.7,287.8L292.1,288.9L292.1,288.2L288.7,287.0L285.2,285.4L281.8,283.8L278.4,282.3L274.9,280.8L271.5,279.3L268.0,277.7L264.6,276.1L261.2,274.4L257.7,272.6L254.3,270.7L250.9,268.6L247.4,266.4L244.0,264.1L240.5,261.7L237.1,259.0L233.7,255.8L230.2,252.1L226.8,248.8L223.4,245.5L219.9,241.9L216.5,238.5L213.0,235.9L209.6,234.6L206.2,234.7L202.7,236.1L199.3,238.8L195.9,243.0L192.4,248.5L189.0,254.5L185.5,260.4L182.1,265.8L178.7,270.9L175.2,275.7L171.8,281.2L168.4,287.3L164.9,292.2L161.5,294.5L158.1,295.4L154.6,295.8L151.2,296.1L147.7,296.4L144.3,296.6L140.9,296.7L137.4,296.7L134.0,296.7L130.6,296.6L127.1,296.3L123.7,295.7L120.2,294.9L116.8,294.0L113.4,293.2L109.9,292.4L106.5,291.7L103.1,291.0L99.6,290.4L96.2,289.9L92.7,289.6L89.3,289.6L85.9,289.9L82.4,290.6L79.0,291.4L75.6,292.4L72.1,293.3L68.7,294.2L65.2,295.0L61.8,295.8L58.4,296.7L54.9,297.5L51.5,298.2Z" fill="#f8b930"/>
<path d="M51.5,280.4L54.9,280.5L58.4,280.5L61.8,280.6L65.2,280.6L68.7,280.7L72.1,280.8L75.6,280.9L79.0,281.0L82.4,281.0L85.9,280.7L89.3,280.4L92.7,280.0L96.2,279.4L99.6,278.7L103.1,278.0L106.5,277.2L109.9,276.4L113.4,275.7L116.8,274.9L120.2,274.3L123.7,273.7L127.1,273.2L130.6,272.8L134.0,272.5L137.4,272.4L140.9,272.4L144.3,272.5L147.7,272.7L151.2,273.0L154.6,273.3L158.1,273.8L161.5,274.3L164.9,275.1L168.4,276.2L171.8,277.9L175.2,279.9L178.7,282.2L182.1,284.6L185.5,287.0L189.0,289.4L192.4,291.4L195.9,292.9L199.3,294.0L202.7,294.6L206.2,294.6L209.6,294.0L213.0,293.0L216.5,291.7L219.9,290.0L223.4,288.1L226.8,286.1L230.2,284.6L233.7,283.4L237.1,282.4L240.5,281.3L244.0,280.3L247.4,279.7L250.9,279.5L254.3,279.5L257.7,279.6L261.2,280.0L264.6,280.6L268.0,281.3L271.5,282.2L274.9,283.1L278.4,284.1L281.8,285.2L285.2,286.4L288.7,287.8L292.1,288.9L292.1,288.2L288.7,287.0L285.2,285.4L281.8,283.8L278.4,282.3L274.9,280.8L271.5,279.3L268.0,277.8L264.6,276.2L261.2,274.6L257.7,272.8L254.3,270.9L250.9,268.9L247.4,266.7L244.0,264.5L240.5,262.2L237.1,259.6L233.7,256.4L230.2,252.9L226.8,249.7L223.4,246.6L219.9,243.1L216.5,239.8L213.0,237.3L209.6,236.1L206.2,236.2L202.7,237.6L199.3,240.2L195.9,244.2L192.4,249.6L189.0,255.3L185.5,261.0L182.1,266.3L178.7,271.2L175.2,275.8L171.8,281.1L168.4,287.0L164.9,291.8L161.5,294.0L158.1,294.8L154.6,295.3L151.2,295.5L147.7,295.8L144.3,296.0L140.9,296.1L137.4,296.1L134.0,296.1L130.6,296.0L127.1,295.7L123.7,295.1L120.2,294.4L116.8,293.6L113.4,292.7L109.9,292.0L106.5,291.4L103.1,290.7L99.6,290.1L96.2,289.6L92.7,289.3L89.3,289.3L85.9,289.7L82.4,290.3L79.0,291.2L75.6,292.1L72.1,293.0L68.7,293.8L65.2,294.6L61.8,295.4L58.4,296.3L54.9,297.1L51.5,297.7Z" fill="#f6b23d"/>
<path d="M51.5,280.4L54.9,280.5L58.4,280.5L61.8,280.6L65.2,280.6L68.7,280.7L72.1,280.8L75.6,280.9L79.0,281.0L82.4,281.0L85.9,280.7L89.3,280.4L92.7,280.0L96.2,279.4L99.6,278.7L103.1,278.0L106.5,277.2L109.9,276.4L113.4,275.7L116.8,274.9L120.2,274.3L123.7,273.7L127.1,273.2L130.6,272.8L134.0,272.5L137.4,272.4L140.9,272.4L144.3,272.5L147.7,272.7L151.2,273.0L154.6,273.3L158.1,273.8L161.5,274.3L164.9,275.1L168.4,276.2L171.8,277.9L175.2,279.9L178.7,282.2L182.1,284.6L185.5,287.0L189.0,289.4L192.4,291.4L195.9,292.9L199.3,294.0L202.7,294.6L206.2,294.6L209.6,294.0L213.0,293.0L216.5,291.7L219.9,290.0L223.4,288.1L226.8,286.1L230.2,284.6L233.7,283.4L237.1,282.4L240.5,281.3L244.0,280.3L247.4,279.7L250.9,279.5L254.3,279.5L257.7,279.6L261.2,280.0L264.6,280.6L268.0,281.3L271.5,282.2L274.9,283.1L278.4,284.1L281.8,285.2L285.2,286.4L288.7,287.8L292.1,288.9L292.1,288.3L288.7,287.0L285.2,285.4L281.8,283.9L278.4,282.4L274.9,280.9L271.5,279.4L268.0,277.9L264.6,276.3L261.2,274.7L257.7,273.0L254.3,271.2L250.9,269.2L247.4,267.1L244.0,264.9L240.5,262.7L237.1,260.2L233.7,257.1L230.2,253.7L226.8,250.6L223.4,247.6L219.9,244.3L216.5,241.1L213.0,238.7L209.6,237.6L206.2,237.7L202.7,239.0L199.3,241.6L195.9,245.5L192.4,250.6L189.0,256.2L185.5,261.7L182.1,266.7L178.7,271.4L175.2,275.9L171.8,281.0L168.4,286.8L164.9,291.4L161.5,293.5L158.1,294.3L154.6,294.7L151.2,295.0L147.7,295.2L144.3,295.4L140.9,295.5L137.4,295.5L134.0,295.5L130.6,295.4L127.1,295.1L123.7,294.6L120.2,293.9L116.8,293.1L113.4,292.3L109.9,291.6L106.5,291.0L103.1,290.4L99.6,289.8L96.2,289.4L92.7,289.1L89.3,289.1L85.9,289.5L82.4,290.1L79.0,290.9L75.6,291.8L72.1,292.7L68.7,293.5L65.2,294.3L61.8,295.0L58.4,295.8L54.9,296.7L51.5,297.3Z" fill="#edb146"/>
<path d="M51.5,280.4L54.9,280.5L58.4,280.5L61.8,280.6L65.2,280.6L68.7,280.7L72.1,280.8L75.6,280.9L79.0,281.0L82.4,281.0L85.9,280.7L89.3,280.4L92.7,280.0L96.2,279.4L99.6,278.7L103.1,278.0L106.5,277.2L109.9,276.4L113.4,275.7L116.8,274.9L120.2,274.3L123.7,273.7L127.1,273.2L130.6,272.8L134.0,272.5L137.4,272.4L140.9,272.4L144.3,272.5L147.7,272.7L151.2,273.0L154.6,273.3L158.1,273.8L161.5,274.3L164.9,275.1L168.4,276.2L171.8,277.9L175.2,279.9L178.7,282.2L182.1,284.6L185.5,287.0L189.0,289.4L192.4,291.4L195.9,292.9L199.3,294.0L202.7,294.6L206.2,294.6L209.6,294.0L213.0,293.0L216.5,291.7L219.9,290.0L223.4,288.1L226.8,286.1L230.2,284.6L233.7,283.4L237.1,282.4L240.5,281.3L244.0,280.3L247.4,279.7L250.9,279.5L254.3,279.5L257.7,279.6L261.2,280.0L264.6,280.6L268.0,281.3L271.5,282.2L274.9,283.1L278.4,284.1L281.8,285.2L285.2,286.4L288.7,287.8L292.1,288.9L292.1,288.3L288.7,287.0L285.2,285.4L281.8,283.9L278.4,282.4L274.9,281.0L271.5,279.5L268.0,278.0L264.6,276.4L261.2,274.9L257.7,273.2L254.3,271.4L250.9,269.5L247.4,267.4L244.0,265.3L240.5,263.2L237.1,260.8L233.7,257.8L230.2,254.5L226.8,251.6L223.4,248.7L219.9,245.5L216.5,242.4L213.0,240.2L209.6,239.1L206.2,239.2L202.7,240.5L199.3,242.9L195.9,246.7L192.4,251.7L189.0,257.1L185.5,262.4L182.1,267.2L178.7,271.7L175.2,276.1L171.8,280.9L168.4,286.5L164.9,290.9L161.5,293.0L158.1,293.8L154.6,294.1L151.2,294.4L147.7,294.6L144.3,294.8L140.9,294.9L137.4,294.9L134.0,294.9L130.6,294.8L127.1,294.5L123.7,294.0L120.2,293.4L116.8,292.6L113.4,291.9L109.9,291.2L106.5,290.6L103.1,290.1L99.6,289.5L96.2,289.1L92.7,288.9L89.3,288.9L85.9,289.2L82.4,289.9L79.0,290.7L75.6,291.5L72.1,292.4L68.7,293.1L65.2,293.9L61.8,294.7L58.4,295.4L54.9,296.2L51.5,296.9Z" fill="#e0b34e"/>
<path d="M51.5,280.4L54.9,280.5L58.4,280.5L61.8,280.6L65.2,280.6L68.7,280.7L72.1,280.8L75.6,280.9L79.0,281.0L82.4,281.0L85.9,280.7L89.3,280.4L92.7,280.0L96.2,279.4L99.6,278.7L103.1,278.0L106.5,277.2L109.9,276.4L113.4,275.7L116.8,274.9L120.2,274.3L123.7,273.7L127.1,273.2L130.6,272.8L134.0,272.5L137.4,272.4L140.9,272.4L144.3,272.5L147.7,272.7L151.2,273.0L154.6,273.3L158.1,273.8L161.5,274.3L164.9,275.1L168.4,276.2L171.8,277.9L175.2,279.9L178.7,282.2L182.1,284.6L185.5,287.0L189.0,289.4L192.4,291.4L195.9,292.9L199.3,294.0L202.7,294.6L206.2,294.6L209.6,294.0L213.0,293.0L216.5,291.7L219.9,290.0L223.4,288.1L226.8,286.1L230.2,284.6L233.7,283.4L237.1,282.4L240.5,281.3L244.0,280.3L247.4,279.7L250.9,279.5L254.3,279.5L257.7,279.6L261.2,280.0L264.6,280.6L268.0,281.3L271.5,282.2L274.9,283.1L278.4,284.1L281.8,285.2L285.2,286.4L288.7,287.8L292.1,288.9L292.1,288.3L288.7,287.0L285.2,285.5L281.8,283.9L278.4,282.5L274.9,281.0L271.5,279.5L268.0,278.1L264.6,276.6L261.2,275.0L257.7,273.3L254.3,271.6L250.9,269.7L247.4,267.7L244.0,265.7L240.5,263.7L237.1,261.4L233.7,258.5L230.2,255.3L226.8,252.5L223.4,249.7L219.9,246.7L216.5,243.8L213.0,241.6L209.6,240.6L206.2,240.7L202.7,241.9L199.3,244.3L195.9,248.0L192.4,252.8L189.0,258.0L185.5,263.0L182.1,267.7L178.7,272.0L175.2,276.2L171.8,280.8L168.4,286.2L164.9,290.5L161.5,292.5L158.1,293.2L154.6,293.6L151.2,293.8L147.7,294.0L144.3,294.2L140.9,294.3L137.4,294.3L134.0,294.3L130.6,294.2L127.1,294.0L123.7,293.5L120.2,292.8L116.8,292.1L113.4,291.4L109.9,290.8L106.5,290.3L103.1,289.7L99.6,289.2L96.2,288.8L92.7,288.6L89.3,288.7L85.9,289.0L82.4,289.6L79.0,290.4L75.6,291.2L72.1,292.1L68.7,292.8L65.2,293.5L61.8,294.3L58.4,295.0L54.9,295.8L51.5,296.4Z" fill="#d1b555"/>
<path d="M51.5,280.4L54.9,280.5L58.4,280.5L61.8,280.6L65.2,280.6L68.7,280.7L72.1,280.8L75.6,280.9L79.0,281.0L82.4,281.0L85.9,280.7L89.3,280.4L92.7,280.0L96.2,279.4L99.6,278.7L103.1,278.0L106.5,277.2L109.9,276.4L113.4,275.7L116.8,274.9L120.2,274.3L123.7,273.7L127.1,273.2L130.6,272.8L134.0,272.5L137.4,272.4L140.9,272.4L144.3,272.5L147.7,272.7L151.2,273.0L154.6,273.3L158.1,273.8L161.5,274.3L164.9,275.1L168.4,276.2L171.8,277.9L175.2,279.9L178.7,282.2L182.1,284.6L185.5,287.0L189.0,289.4L192.4,291.4L195.9,292.9L199.3,294.0L202.7,294.6L206.2,294.6L209.6,294.0L213.0,293.0L216.5,291.7L219.9,290.0L223.4,288.1L226.8,286.1L230.2,284.6L233.7,283.4L237.1,282.4L240.5,281.3L244.0,280.3L247.4,279.7L250.9,279.5L254.3,279.5L257.7,279.6L261.2,280.0L264.6,280.6L268.0,281.3L271.5,282.2L274.9,283.1L278.4,284.1L281.8,285.2L285.2,286.4L288.7,287.8L292.1,288.9L292.1,288.3L288.7,287.1L285.2,285.5L281.8,284.0L278.4,282.5L274.9,281.1L271.5,279.6L268.0,278.2L264.6,276.7L261.2,275.1L257.7,273.5L254.3,271.8L250.9,270.0L247.4,268.1L244.0,266.1L240.5,264.1L237.1,261.9L233.7,259.2L230.2,256.1L226.8,253.4L223.4,250.8L219.9,247.9L216.5,245.1L213.0,243.0L209.6,242.0L206.2,242.2L202.7,243.4L199.3,245.7L195.9,249.2L192.4,253.9L189.0,258.8L185.5,263.7L182.1,268.2L178.7,272.3L175.2,276.3L171.8,280.7L168.4,285.9L164.9,290.1L161.5,292.0L158.1,292.7L154.6,293.0L151.2,293.2L147.7,293.4L144.3,293.6L140.9,293.7L137.4,293.7L134.0,293.7L130.6,293.6L127.1,293.4L123.7,293.0L120.2,292.3L116.8,291.6L113.4,291.0L109.9,290.4L106.5,289.9L103.1,289.4L99.6,288.9L96.2,288.6L92.7,288.4L89.3,288.4L85.9,288.8L82.4,289.4L79.0,290.1L75.6,290.9L72.1,291.7L68.7,292.5L65.2,293.2L61.8,293.9L58.4,294.6L54.9,295.4L51.5,296.0Z" fill="#c2b75d"/>
<path d="M51.5,280.4L54.9,280.5L58.4,280.5L61.8,280.6L65.2,280.6L68.7,280.7L72.1,280.8L75.6,280.9L79.0,281.0L82.4,281.0L85.9,280.7L89.3,280.4L92.7,280.0L96.2,279.4L99.6,278.7L103.1,278.0L106.5,277.2L109.9,276.4L113.4,275.7L116.8,274.9L120.2,274.3L123.7,273.7L127.1,273.2L130.6,272.8L134.0,272.5L137.4,272.4L140.9,272.4L144.3,272.5L147.7,272.7L151.2,273.0L154.6,273.3L158.1,273.8L161.5,274.3L164.9,275.1L168.4,276.2L171.8,277.9L175.2,279.9L178.7,282.2L182.1,284.6L185.5,287.0L189.0,289.4L192.4,291.4L195.9,292.9L199.3,294.0L202.7,294.6L206.2,294.6L209.6,294.0L213.0,293.0L216.5,291.7L219.9,290.0L223.4,288.1L226.8,286.1L230.2,284.6L233.7,283.4L237.1,282.4L240.5,281.3L244.0,280.3L247.4,279.7L250.9,279.5L254.3,279.5L257.7,279.6L261.2,280.0L264.6,280.6L268.0,281.3L271.5,282.2L274.9,283.1L278.4,284.1L281.8,285.2L285.2,286.4L288.7,287.8L292.1,288.9L292.1,288.3L288.7,287.1L285.2,285.5L281.8,284.0L278.4,282.6L274.9,281.1L271.5,279.7L268.0,278.2L264.6,276.8L261.2,275.3L257.7,273.7L254.3,272.0L250.9,270.3L247.4,268.4L244.0,266.5L240.5,264.6L237.1,262.5L233.7,259.9L230.2,256.9L226.8,254.4L223.4,251.9L219.9,249.1L216.5,246.4L213.0,244.5L209.6,243.5L206.2,243.7L202.7,244.9L199.3,247.1L195.9,250.5L192.4,254.9L189.0,259.7L185.5,264.4L182.1,268.6L178.7,272.6L175.2,276.4L171.8,280.7L168.4,285.7L164.9,289.7L161.5,291.5L158.1,292.1L154.6,292.5L151.2,292.6L147.7,292.8L144.3,293.0L140.9,293.1L137.4,293.1L134.0,293.1L130.6,293.0L127.1,292.8L123.7,292.4L120.2,291.8L116.8,291.2L113.4,290.5L109.9,290.0L106.5,289.6L103.1,289.1L99.6,288.7L96.2,288.3L92.7,288.1L89.3,288.2L85.9,288.5L82.4,289.1L79.0,289.9L75.6,290.7L72.1,291.4L68.7,292.1L65.2,292.8L61.8,293.5L58.4,294.2L54.9,295.0L51.5,295.5Z" fill="#b3b865"/>
<path d="M51.5,280.4L54.9,280.5L58.4,280.5L61.8,280.6L65.2,280.6L68.7,280.7L72.1,280.8L75.6,280.9L79.0,281.0L82.4,281.0L85.9,280.7L89.3,280.4L92.7,280.0L96.2,279.4L99.6,278.7L103.1,278.0L106.5,277.2L109.9,276.4L113.4,275.7L116.8,274.9L120.2,274.3L123.7,273.7L127.1,273.2L130.6,272.8L134.0,272.5L137.4,272.4L140.9,272.4L144.3,272.5L147.7,272.7L151.2,273.0L154.6,273.3L158.1,273.8L161.5,274.3L164.9,275.1L168.4,276.2L171.8,277.9L175.2,279.9L178.7,282.2L182.1,284.6L185.5,287.0L189.0,289.4L192.4,291.4L195.9,292.9L199.3,294.0L202.7,294.6L206.2,294.6L209.6,294.0L213.0,293.0L216.5,291.7L219.9,290.0L223.4,288.1L226.8,286.1L230.2,284.6L233.7,283.4L237.1,282.4L240.5,281.3L244.0,280.3L247.4,279.7L250.9,279.5L254.3,279.5L257.7,279.6L261.2,280.0L264.6,280.6L268.0,281.3L271.5,282.2L274.9,283.1L278.4,284.1L281.8,285.2L285.2,286.4L288.7,287.8L292.1,288.9L292.1,288.3L288.7,287.1L285.2,285.5L281.8,284.0L278.4,282.6L274.9,281.2L271.5,279.8L268.0,278.3L264.6,276.9L261.2,275.4L257.7,273.9L254.3,272.2L250.9,270.5L247.4,268.7L244.0,266.9L240.5,265.1L237.1,263.1L233.7,260.6L230.2,257.7L226.8,255.3L223.4,252.9L219.9,250.3L216.5,247.8L213.0,245.9L209.6,245.0L206.2,245.2L202.7,246.3L199.3,248.5L195.9,251.7L192.4,256.0L189.0,260.6L185.5,265.0L182.1,269.1L178.7,272.9L175.2,276.5L171.8,280.6L168.4,285.4L164.9,289.2L161.5,291.0L158.1,291.6L154.6,291.9L151.2,292.1L147.7,292.2L144.3,292.4L140.9,292.5L137.4,292.5L134.0,292.5L130.6,292.4L127.1,292.2L123.7,291.9L120.2,291.3L116.8,290.7L113.4,290.1L109.9,289.6L106.5,289.2L103.1,288.8L99.6,288.4L96.2,288.1L92.7,287.9L89.3,288.0L85.9,288.3L82.4,288.9L79.0,289.6L75.6,290.4L72.1,291.1L68.7,291.8L65.2,292.5L61.8,293.1L58.4,293.8L54.9,294.5L51.5,295.1Z" fill="#a2ba6b"/>
<path d="M51.5,280.4L54.9,280.5L58.4,280.5L61.8,280.6L65.2,280.6L68.7,280.7L72.1,280.8L75.6,280.9L79.0,281.0L82.4,281.0L85.9,280.7L89.3,280.4L92.7,280.0L96.2,279.4L99.6,278.7L103.1,278.0L106.5,277.2L109.9,276.4L113.4,275.7L116.8,274.9L120.2,274.3L123.7,273.7L127.1,273.2L130.6,272.8L134.0,272.5L137.4,272.4L140.9,272.4L144.3,272.5L147.7,272.7L151.2,273.0L154.6,273.3L158.1,273.8L161.5,274.3L164.9,275.1L168.4,276.2L171.8,277.9L175.2,279.9L178.7,282.2L182.1,284.6L185.5,287.0L189.0,289.4L192.4,291.4L195.9,292.9L199.3,294.0L202.7,294.6L206.2,294.6L209.6,294.0L213.0,293.0L216.5,291.7L219.9,290.0L223.4,288.1L226.8,286.1L230.2,284.6L233.7,283.4L237.1,282.4L240.5,281.3L244.0,280.3L247.4,279.7L250.9,279.5L254.3,279.5L257.7,279.6L261.2,280.0L264.6,280.6L268.0,281.3L271.5,282.2L274.9,283.1L278.4,284.1L281.8,285.2L285.2,286.4L288.7,287.8L292.1,288.9L292.1,288.4L288.7,287.1L285.2,285.6L281.8,284.1L278.4,282.6L274.9,281.2L271.5,279.8L268.0,278.4L264.6,277.0L261.2,275.6L257.7,274.0L254.3,272.5L250.9,270.8L247.4,269.1L244.0,267.3L240.5,265.6L237.1,263.7L233.7,261.3L230.2,258.6L226.8,256.2L223.4,254.0L219.9,251.5L216.5,249.1L213.0,247.3L209.6,246.5L206.2,246.7L202.7,247.8L199.3,249.8L195.9,253.0L192.4,257.1L189.0,261.5L185.5,265.7L182.1,269.6L178.7,273.1L175.2,276.6L171.8,280.5L168.4,285.1L164.9,288.8L161.5,290.5L158.1,291.0L154.6,291.3L151.2,291.5L147.7,291.6L144.3,291.8L140.9,291.8L137.4,291.9L134.0,291.9L130.6,291.8L127.1,291.7L123.7,291.3L120.2,290.8L116.8,290.2L113.4,289.7L109.9,289.2L106.5,288.8L103.1,288.4L99.6,288.1L96.2,287.8L92.7,287.7L89.3,287.7L85.9,288.1L82.4,288.7L79.0,289.3L75.6,290.1L72.1,290.8L68.7,291.5L65.2,292.1L61.8,292.8L58.4,293.4L54.9,294.1L51.5,294.6Z" fill="#8fbc71"/>
<path d="M51.5,280.4L54.9,280.5L58.4,280.5L61.8,280.6L65.2,280.6L68.7,280.7L72.1,280.8L75.6,280.9L79.0,281.0L82.4,281.0L85.9,280.7L89.3,280.4L92.7,280.0L96.2,279.4L99.6,278.7L103.1,278.0L106.5,277.2L109.9,276.4L113.4,275.7L116.8,274.9L120.2,274.3L123.7,273.7L127.1,273.2L130.6,272.8L134.0,272.5L137.4,272.4L140.9,272.4L144.3,272.5L147.7,272.7L151.2,273.0L154.6,273.3L158.1,273.8L161.5,274.3L164.9,275.1L168.4,276.2L171.8,277.9L175.2,279.9L178.7,282.2L182.1,284.6L185.5,287.0L189.0,289.4L192.4,291.4L195.9,292.9L199.3,294.0L202.7,294.6L206.2,294.6L209.6,294.0L213.0,293.0L216.5,291.7L219.9,290.0L223.4,288.1L226.8,286.1L230.2,284.6L233.7,283.4L237.1,282.4L240.5,281.3L244.0,280.3L247.4,279.7L250.9,279.5L254.3,279.5L257.7,279.6L261.2,280.0L264.6,280.6L268.0,281.3L271.5,282.2L274.9,283.1L278.4,284.1L281.8,285.2L285.2,286.4L288.7,287.8L292.1,288.9L292.1,288.4L288.7,287.1L285.2,285.6L281.8,284.1L278.4,282.7L274.9,281.3L271.5,279.9L268.0,278.5L264.6,277.1L261.2,275.7L257.7,274.2L254.3,272.7L250.9,271.1L247.4,269.4L244.0,267.7L240.5,266.1L237.1,264.3L233.7,262.0L230.2,259.4L226.8,257.2L223.4,255.1L219.9,252.7L216.5,250.4L213.0,248.7L209.6,248.0L206.2,248.2L202.7,249.3L199.3,251.2L195.9,254.2L192.4,258.1L189.0,262.3L185.5,266.4L182.1,270.0L178.7,273.4L175.2,276.7L171.8,280.4L168.4,284.8L164.9,288.4L161.5,289.9L158.1,290.5L154.6,290.8L151.2,290.9L147.7,291.0L144.3,291.2L140.9,291.2L137.4,291.3L134.0,291.3L130.6,291.2L127.1,291.1L123.7,290.8L120.2,290.3L116.8,289.7L113.4,289.2L109.9,288.8L106.5,288.5L103.1,288.1L99.6,287.8L96.2,287.5L92.7,287.4L89.3,287.5L85.9,287.9L82.4,288.4L79.0,289.1L75.6,289.8L72.1,290.5L68.7,291.1L65.2,291.7L61.8,292.4L58.4,293.0L54.9,293.7L51.5,294.2Z" fill="#7dbe77"/>
<path d="M51.5,280.4L54.9,280.5L58.4,280.5L61.8,280.6L65.2,280.6L68.7,280.7L72.1,280.8L75.6,280.9L79.0,281.0L82.4,281.0L85.9,280.7L89.3,280.4L92.7,280.0L96.2,279.4L99.6,278.7L103.1,278.0L106.5,277.2L109.9,276.4L113.4,275.7L116.8,274.9L120.2,274.3L123.7,273.7L127.1,273.2L130.6,272.8L134.0,272.5L137.4,272.4L140.9,272.4L144.3,272.5L147.7,272.7L151.2,273.0L154.6,273.3L158.1,273.8L161.5,274.3L164.9,275.1L168.4,276.2L171.8,277.9L175.2,279.9L178.7,282.2L182.1,284.6L185.5,287.0L189.0,289.4L192.4,291.4L195.9,292.9L199.3,294.0L202.7,294.6L206.2,294.6L209.6,294.0L213.0,293.0L216.5,291.7L219.9,290.0L223.4,288.1L226.8,286.1L230.2,284.6L233.7,283.4L237.1,282.4L240.5,281.3L244.0,280.3L247.4,279.7L250.9,279.5L254.3,279.5L257.7,279.6L261.2,280.0L264.6,280.6L268.0,281.3L271.5,282.2L274.9,283.1L278.4,284.1L281.8,285.2L285.2,286.4L288.7,287.8L292.1,288.9L292.1,288.4L288.7,287.2L285.2,285.6L281.8,284.1L278.4,282.7L274.9,281.4L271.5,280.0L268.0,278.6L264.6,277.2L261.2,275.8L257.7,274.4L254.3,272.9L250.9,271.3L247.4,269.7L244.0,268.1L240.5,266.6L237.1,264.9L233.7,262.7L230.2,260.2L226.8,258.1L223.4,256.1L219.9,253.9L216.5,251.8L213.0,250.2L209.6,249.5L206.2,249.7L202.7,250.7L199.3,252.6L195.9,255.5L192.4,259.2L189.0,263.2L185.5,267.0L182.1,270.5L178.7,273.7L175.2,276.8L171.8,280.3L168.4,284.5L164.9,287.9L161.5,289.4L158.1,290.0L154.6,290.2L151.2,290.3L147.7,290.5L144.3,290.6L140.9,290.6L137.4,290.7L134.0,290.7L130.6,290.6L127.1,290.5L123.7,290.2L120.2,289.8L116.8,289.3L113.4,288.8L109.9,288.4L106.5,288.1L103.1,287.8L99.6,287.5L96.2,287.3L92.7,287.2L89.3,287.3L85.9,287.6L82.4,288.2L79.0,288.8L75.6,289.5L72.1,290.2L68.7,290.8L65.2,291.4L61.8,292.0L58.4,292.6L54.9,293.2L51.5,293.7Z" fill="#63be7c"/>
<path d="M51.5,280.4L54.9,280.5L58.4,280.5L61.8,280.6L65.2,280.6L68.7,280.7L72.1,280.8L75.6,280.9L79.0,281.0L82.4,281.0L85.9,280.7L89.3,280.4L92.7,280.0L96.2,279.4L99.6,278.7L103.1,278.0L106.5,277.2L109.9,276.4L113.4,275.7L116.8,274.9L120.2,274.3L123.7,273.7L127.1,273.2L130.6,272.8L134.0,272.5L137.4,272.4L140.9,272.4L144.3,272.5L147.7,272.7L151.2,273.0L154.6,273.3L158.1,273.8L161.5,274.3L164.9,275.1L168.4,276.2L171.8,277.9L175.2,279.9L178.7,282.2L182.1,284.6L185.5,287.0L189.0,289.4L192.4,291.4L195.9,292.9L199.3,294.0L202.7,294.6L206.2,294.6L209.6,294.0L213.0,293.0L216.5,291.7L219.9,290.0L223.4,288.1L226.8,286.1L230.2,284.6L233.7,283.4L237.1,282.4L240.5,281.3L244.0,280.3L247.4,279.7L250.9,279.5L254.3,279.5L257.7,279.6L261.2,280.0L264.6,280.6L268.0,281.3L271.5,282.2L274.9,283.1L278.4,284.1L281.8,285.2L285.2,286.4L288.7,287.8L292.1,288.9L292.1,288.4L288.7,287.2L285.2,285.6L281.8,284.2L278.4,282.8L274.9,281.4L271.5,280.1L268.0,278.7L264.6,277.3L261.2,276.0L257.7,274.6L254.3,273.1L250.9,271.6L247.4,270.1L244.0,268.5L240.5,267.1L237.1,265.5L233.7,263.4L230.2,261.0L226.8,259.0L223.4,257.2L219.9,255.1L216.5,253.1L213.0,251.6L209.6,251.0L206.2,251.2L202.7,252.2L199.3,254.0L195.9,256.7L192.4,260.3L189.0,264.1L185.5,267.7L182.1,271.0L178.7,274.0L175.2,276.9L171.8,280.3L168.4,284.3L164.9,287.5L161.5,288.9L158.1,289.4L154.6,289.6L151.2,289.8L147.7,289.9L144.3,290.0L140.9,290.0L137.4,290.0L134.0,290.1L130.6,290.0L127.1,289.9L123.7,289.7L120.2,289.2L116.8,288.8L113.4,288.4L109.9,288.0L106.5,287.7L103.1,287.4L99.6,287.2L96.2,287.0L92.7,286.9L89.3,287.0L85.9,287.4L82.4,287.9L79.0,288.6L75.6,289.2L72.1,289.9L68.7,290.5L65.2,291.0L61.8,291.6L58.4,292.2L54.9,292.8L51.5,293.3Z" fill="#47be80"/>
<path d="M51.5,280.4L54.9,280.5L58.4,280.5L61.8,280.6L65.2,280.6L68.7,280.7L72.1,280.8L75.6,280.9L79.0,281.0L82.4,281.0L85.9,280.7L89.3,280.4L92.7,280.0L96.2,279.4L99.6,278.7L103.1,278.0L106.5,277.2L109.9,276.4L113.4,275.7L116.8,274.9L120.2,274.3L123.7,273.7L127.1,273.2L130.6,272.8L134.0,272.5L137.4,272.4L140.9,272.4L144.3,272.5L147.7,272.7L151.2,273.0L154.6,273.3L158.1,273.8L161.5,274.3L164.9,275.1L168.4,276.2L171.8,277.9L175.2,279.9L178.7,282.2L182.1,284.6L185.5,287.0L189.0,289.4L192.4,291.4L195.9,292.9L199.3,294.0L202.7,294.6L206.2,294.6L209.6,294.0L213.0,293.0L216.5,291.7L219.9,290.0L223.4,288.1L226.8,286.1L230.2,284.6L233.7,283.4L237.1,282.4L240.5,281.3L244.0,280.3L247.4,279.7L250.9,279.5L254.3,279.5L257.7,279.6L261.2,280.0L264.6,280.6L268.0,281.3L271.5,282.2L274.9,283.1L278.4,284.1L281.8,285.2L285.2,286.4L288.7,287.8L292.1,288.9L292.1,288.4L288.7,287.2L285.2,285.7L281.8,284.2L278.4,282.8L274.9,281.5L271.5,280.1L268.0,278.8L264.6,277.4L261.2,276.1L257.7,274.7L254.3,273.3L250.9,271.9L247.4,270.4L244.0,269.0L240.5,267.6L237.1,266.0L233.7,264.1L230.2,261.8L226.8,260.0L223.4,258.3L219.9,256.3L216.5,254.4L213.0,253.0L209.6,252.4L206.2,252.7L202.7,253.6L199.3,255.3L195.9,258.0L192.4,261.4L189.0,264.9L185.5,268.4L182.1,271.5L178.7,274.3L175.2,277.0L171.8,280.2L168.4,284.0L164.9,287.1L161.5,288.4L158.1,288.9L154.6,289.1L151.2,289.2L147.7,289.3L144.3,289.4L140.9,289.4L137.4,289.4L134.0,289.5L130.6,289.5L127.1,289.4L123.7,289.1L120.2,288.7L116.8,288.3L113.4,287.9L109.9,287.6L106.5,287.4L103.1,287.1L99.6,286.9L96.2,286.7L92.7,286.7L89.3,286.8L85.9,287.2L82.4,287.7L79.0,288.3L75.6,288.9L72.1,289.6L68.7,290.1L65.2,290.7L61.8,291.2L58.4,291.8L54.9,292.4L51.5,292.9Z" fill="#32bc86"/>
<path d="M51.5,280.4L54.9,280.5L58.4,280.5L61.8,280.6L65.2,280.6L68.7,280.7L72.1,280.8L75.6,280.9L79.0,281.0L82.4,281.0L85.9,280.7L89.3,280.4L92.7,280.0L96.2,279.4L99.6,278.7L103.1,278.0L106.5,277.2L109.9,276.4L113.4,275.7L116.8,274.9L120.2,274.3L123.7,273.7L127.1,273.2L130.6,272.8L134.0,272.5L137.4,272.4L140.9,272.4L144.3,272.5L147.7,272.7L151.2,273.0L154.6,273.3L158.1,273.8L161.5,274.3L164.9,275.1L168.4,276.2L171.8,277.9L175.2,279.9L178.7,282.2L182.1,284.6L185.5,287.0L189.0,289.4L192.4,291.4L195.9,292.9L199.3,294.0L202.7,294.6L206.2,294.6L209.6,294.0L213.0,293.0L216.5,291.7L219.9,290.0L223.4,288.1L226.8,286.1L230.2,284.6L233.7,283.4L237.1,282.4L240.5,281.3L244.0,280.3L247.4,279.7L250.9,279.5L254.3,279.5L257.7,279.6L261.2,280.0L264.6,280.6L268.0,281.3L271.5,282.2L274.9,283.1L278.4,284.1L281.8,285.2L285.2,286.4L288.7,287.8L292.1,288.9L292.1,288.5L288.7,287.2L285.2,285.7L281.8,284.2L278.4,282.9L274.9,281.5L271.5,280.2L268.0,278.9L264.6,277.6L261.2,276.3L257.7,274.9L254.3,273.6L250.9,272.2L247.4,270.7L244.0,269.4L240.5,268.1L237.1,266.6L233.7,264.8L230.2,262.6L226.8,260.9L223.4,259.3L219.9,257.5L216.5,255.8L213.0,254.4L209.6,253.9L206.2,254.2L202.7,255.1L199.3,256.7L195.9,259.2L192.4,262.4L189.0,265.8L185.5,269.0L182.1,271.9L178.7,274.6L175.2,277.1L171.8,280.1L168.4,283.7L164.9,286.7L161.5,287.9L158.1,288.3L154.6,288.5L151.2,288.6L147.7,288.7L144.3,288.8L140.9,288.8L137.4,288.8L134.0,288.9L130.6,288.9L127.1,288.8L123.7,288.6L120.2,288.2L116.8,287.8L113.4,287.5L109.9,287.2L106.5,287.0L103.1,286.8L99.6,286.6L96.2,286.5L92.7,286.5L89.3,286.6L85.9,286.9L82.4,287.5L79.0,288.0L75.6,288.7L72.1,289.2L68.7,289.8L65.2,290.3L61.8,290.9L58.4,291.4L54.9,292.0L51.5,292.4Z" fill="#22b98b"/>
<path d="M51.5,280.4L54.9,280.5L58.4,280.5L61.8,280.6L65.2,280.6L68.7,280.7L72.1,280.8L75.6,280.9L79.0,281.0L82.4,281.0L85.9,280.7L89.3,280.4L92.7,280.0L96.2,279.4L99.6,278.7L103.1,278.0L106.5,277.2L109.9,276.4L113.4,275.7L116.8,274.9L120.2,274.3L123.7,273.7L127.1,273.2L130.6,272.8L134.0,272.5L137.4,272.4L140.9,272.4L144.3,272.5L147.7,272.7L151.2,273.0L154.6,273.3L158.1,273.8L161.5,274.3L164.9,275.1L168.4,276.2L171.8,277.9L175.2,279.9L178.7,282.2L182.1,284.6L185.5,287.0L189.0,289.4L192.4,291.4L195.9,292.9L199.3,294.0L202.7,294.6L206.2,294.6L209.6,294.0L213.0,293.0L216.5,291.7L219.9,290.0L223.4,288.1L226.8,286.1L230.2,284.6L233.7,283.4L237.1,282.4L240.5,281.3L244.0,280.3L247.4,279.7L250.9,279.5L254.3,279.5L257.7,279.6L261.2,280.0L264.6,280.6L268.0,281.3L271.5,282.2L274.9,283.1L278.4,284.1L281.8,285.2L285.2,286.4L288.7,287.8L292.1,288.9L292.1,288.5L288.7,287.2L285.2,285.7L281.8,284.3L278.4,282.9L274.9,281.6L271.5,280.3L268.0,279.0L264.6,277.7L261.2,276.4L257.7,275.1L254.3,273.8L250.9,272.4L247.4,271.1L244.0,269.8L240.5,268.5L237.1,267.2L233.7,265.4L230.2,263.4L226.8,261.8L223.4,260.4L219.9,258.7L216.5,257.1L213.0,255.9L209.6,255.4L206.2,255.7L202.7,256.6L199.3,258.1L195.9,260.5L192.4,263.5L189.0,266.7L185.5,269.7L182.1,272.4L178.7,274.8L175.2,277.2L171.8,280.0L168.4,283.4L164.9,286.2L161.5,287.4L158.1,287.8L154.6,288.0L151.2,288.0L147.7,288.1L144.3,288.2L140.9,288.2L137.4,288.2L134.0,288.3L130.6,288.3L127.1,288.2L123.7,288.0L120.2,287.7L116.8,287.3L113.4,287.0L109.9,286.8L106.5,286.6L103.1,286.5L99.6,286.3L96.2,286.2L92.7,286.2L89.3,286.4L85.9,286.7L82.4,287.2L79.0,287.8L75.6,288.4L72.1,288.9L68.7,289.5L65.2,290.0L61.8,290.5L58.4,291.0L54.9,291.5L51.5,292.0Z" fill="#1fb693"/>
<path d="M51.5,280.4L54.9,280.5L58.4,280.5L61.8,280.6L65.2,280.6L68.7,280.7L72.1,280.8L75.6,280.9L79.0,281.0L82.4,281.0L85.9,280.7L89.3,280.4L92.7,280.0L96.2,279.4L99.6,278.7L103.1,278.0L106.5,277.2L109.9,276.4L113.4,275.7L116.8,274.9L120.2,274.3L123.7,273.7L127.1,273.2L130.6,272.8L134.0,272.5L137.4,272.4L140.9,272.4L144.3,272.5L147.7,272.7L151.2,273.0L154.6,273.3L158.1,273.8L161.5,274.3L164.9,275.1L168.4,276.2L171.8,277.9L175.2,279.9L178.7,282.2L182.1,284.6L185.5,287.0L189.0,289.4L192.4,291.4L195.9,292.9L199.3,294.0L202.7,294.6L206.2,294.6L209.6,294.0L213.0,293.0L216.5,291.7L219.9,290.0L223.4,288.1L226.8,286.1L230.2,284.6L233.7,283.4L237.1,282.4L240.5,281.3L244.0,280.3L247.4,279.7L250.9,279.5L254.3,279.5L257.7,279.6L261.2,280.0L264.6,280.6L268.0,281.3L271.5,282.2L274.9,283.1L278.4,284.1L281.8,285.2L285.2,286.4L288.7,287.8L292.1,288.9L292.1,288.5L288.7,287.3L285.2,285.7L281.8,284.3L278.4,283.0L274.9,281.7L271.5,280.4L268.0,279.0L264.6,277.8L261.2,276.5L257.7,275.3L254.3,274.0L250.9,272.7L247.4,271.4L244.0,270.2L240.5,269.0L237.1,267.8L233.7,266.1L230.2,264.2L226.8,262.8L223.4,261.5L219.9,259.9L216.5,258.4L213.0,257.3L209.6,256.9L206.2,257.2L202.7,258.0L199.3,259.5L195.9,261.7L192.4,264.6L189.0,267.6L185.5,270.4L182.1,272.9L178.7,275.1L175.2,277.3L171.8,279.9L168.4,283.2L164.9,285.8L161.5,286.9L158.1,287.3L154.6,287.4L151.2,287.4L147.7,287.5L144.3,287.6L140.9,287.6L137.4,287.6L134.0,287.6L130.6,287.7L127.1,287.6L123.7,287.5L120.2,287.2L116.8,286.9L113.4,286.6L109.9,286.4L106.5,286.3L103.1,286.1L99.6,286.0L96.2,286.0L92.7,286.0L89.3,286.1L85.9,286.5L82.4,287.0L79.0,287.5L75.6,288.1L72.1,288.6L68.7,289.1L65.2,289.6L61.8,290.1L58.4,290.6L54.9,291.1L51.5,291.5Z" fill="#1eb29a"/>
<path d="M51.5,280.4L54.9,280.5L58.4,280.5L61.8,280.6L65.2,280.6L68.7,280.7L72.1,280.8L75.6,280.9L79.0,281.0L82.4,281.0L85.9,280.7L89.3,280.4L92.7,280.0L96.2,279.4L99.6,278.7L103.1,278.0L106.5,277.2L109.9,276.4L113.4,275.7L116.8,274.9L120.2,274.3L123.7,273.7L127.1,273.2L130.6,272.8L134.0,272.5L137.4,272.4L140.9,272.4L144.3,272.5L147.7,272.7L151.2,273.0L154.6,273.3L158.1,273.8L161.5,274.3L164.9,275.1L168.4,276.2L171.8,277.9L175.2,279.9L178.7,282.2L182.1,284.6L185.5,287.0L189.0,289.4L192.4,291.4L195.9,292.9L199.3,294.0L202.7,294.6L206.2,294.6L209.6,294.0L213.0,293.0L216.5,291.7L219.9,290.0L223.4,288.1L226.8,286.1L230.2,284.6L233.7,283.4L237.1,282.4L240.5,281.3L244.0,280.3L247.4,279.7L250.9,279.5L254.3,279.5L257.7,279.6L261.2,280.0L264.6,280.6L268.0,281.3L271.5,282.2L274.9,283.1L278.4,284.1L281.8,285.2L285.2,286.4L288.7,287.8L292.1,288.9L292.1,288.5L288.7,287.3L285.2,285.8L281.8,284.4L278.4,283.0L274.9,281.7L271.5,280.4L268.0,279.1L264.6,277.9L261.2,276.7L257.7,275.4L254.3,274.2L250.9,273.0L247.4,271.7L244.0,270.6L240.5,269.5L237.1,268.4L233.7,266.8L230.2,265.1L226.8,263.7L223.4,262.5L219.9,261.1L216.5,259.7L213.0,258.7L209.6,258.4L206.2,258.7L202.7,259.5L199.3,260.9L195.9,263.0L192.4,265.7L189.0,268.4L185.5,271.0L182.1,273.3L178.7,275.4L175.2,277.4L171.8,279.9L168.4,282.9L164.9,285.4L161.5,286.4L158.1,286.7L154.6,286.8L151.2,286.9L147.7,286.9L144.3,287.0L140.9,287.0L137.4,287.0L134.0,287.0L130.6,287.1L127.1,287.1L123.7,286.9L120.2,286.7L116.8,286.4L113.4,286.2L109.9,286.0L106.5,285.9L103.1,285.8L99.6,285.7L96.2,285.7L92.7,285.7L89.3,285.9L85.9,286.3L82.4,286.7L79.0,287.3L75.6,287.8L72.1,288.3L68.7,288.8L65.2,289.2L61.8,289.7L58.4,290.2L54.9,290.7L51.5,291.1Z" fill="#1daea3"/>
<path d="M51.5,280.4L54.9,280.5L58.4,280.5L61.8,280.6L65.2,280.6L68.7,280.7L72.1,280.8L75.6,280.9L79.0,281.0L82.4,281.0L85.9,280.7L89.3,280.4L92.7,280.0L96.2,279.4L99.6,278.7L103.1,278.0L106.5,277.2L109.9,276.4L113.4,275.7L116.8,274.9L120.2,274.3L123.7,273.7L127.1,273.2L130.6,272.8L134.0,272.5L137.4,272.4L140.9,272.4L144.3,272.5L147.7,272.7L151.2,273.0L154.6,273.3L158.1,273.8L161.5,274.3L164.9,275.1L168.4,276.2L171.8,277.9L175.2,279.9L178.7,282.2L182.1,284.6L185.5,287.0L189.0,289.4L192.4,291.4L195.9,292.9L199.3,294.0L202.7,294.6L206.2,294.6L209.6,294.0L213.0,293.0L216.5,291.7L219.9,290.0L223.4,288.1L226.8,286.1L230.2,284.6L233.7,283.4L237.1,282.4L240.5,281.3L244.0,280.3L247.4,279.7L250.9,279.5L254.3,279.5L257.7,279.6L261.2,280.0L264.6,280.6L268.0,281.3L271.5,282.2L274.9,283.1L278.4,284.1L281.8,285.2L285.2,286.4L288.7,287.8L292.1,288.9L292.1,288.5L288.7,287.3L285.2,285.8L281.8,284.4L278.4,283.1L274.9,281.8L271.5,280.5L268.0,279.2L264.6,278.0L261.2,276.8L257.7,275.6L254.3,274.4L250.9,273.2L247.4,272.1L244.0,271.0L240.5,270.0L237.1,269.0L233.7,267.5L230.2,265.9L226.8,264.6L223.4,263.6L219.9,262.3L216.5,261.1L213.0,260.2L209.6,259.9L206.2,260.2L202.7,261.0L199.3,262.2L195.9,264.2L192.4,266.7L189.0,269.3L185.5,271.7L182.1,273.8L178.7,275.7L175.2,277.5L171.8,279.8L168.4,282.6L164.9,284.9L161.5,285.9L158.1,286.2L154.6,286.3L151.2,286.3L147.7,286.3L144.3,286.4L140.9,286.4L137.4,286.4L134.0,286.4L130.6,286.5L127.1,286.5L123.7,286.4L120.2,286.1L116.8,285.9L113.4,285.7L109.9,285.6L106.5,285.6L103.1,285.5L99.6,285.4L96.2,285.4L92.7,285.5L89.3,285.7L85.9,286.0L82.4,286.5L79.0,287.0L75.6,287.5L72.1,288.0L68.7,288.4L65.2,288.9L61.8,289.3L58.4,289.8L54.9,290.3L51.5,290.6Z" fill="#1cabad"/>
<path d="M51.5,280.4L54.9,280.5L58.4,280.5L61.8,280.6L65.2,280.6L68.7,280.7L72.1,280.8L75.6,280.9L79.0,281.0L82.4,281.0L85.9,280.7L89.3,280.4L92.7,280.0L96.2,279.4L99.6,278.7L103.1,278.0L106.5,277.2L109.9,276.4L113.4,275.7L116.8,274.9L120.2,274.3L123.7,273.7L127.1,273.2L130.6,272.8L134.0,272.5L137.4,272.4L140.9,272.4L144.3,272.5L147.7,272.7L151.2,273.0L154.6,273.3L158.1,273.8L161.5,274.3L164.9,275.1L168.4,276.2L171.8,277.9L175.2,279.9L178.7,282.2L182.1,284.6L185.5,287.0L189.0,289.4L192.4,291.4L195.9,292.9L199.3,294.0L202.7,294.6L206.2,294.6L209.6,294.0L213.0,293.0L216.5,291.7L219.9,290.0L223.4,288.1L226.8,286.1L230.2,284.6L233.7,283.4L237.1,282.4L240.5,281.3L244.0,280.3L247.4,279.7L250.9,279.5L254.3,279.5L257.7,279.6L261.2,280.0L264.6,280.6L268.0,281.3L271.5,282.2L274.9,283.1L278.4,284.1L281.8,285.2L285.2,286.4L288.7,287.8L292.1,288.9L292.1,288.5L288.7,287.3L285.2,285.8L281.8,284.4L278.4,283.1L274.9,281.8L271.5,280.6L268.0,279.3L264.6,278.1L261.2,276.9L257.7,275.8L254.3,274.6L250.9,273.5L247.4,272.4L244.0,271.4L240.5,270.5L237.1,269.5L233.7,268.2L230.2,266.7L226.8,265.6L223.4,264.6L219.9,263.5L216.5,262.4L213.0,261.6L209.6,261.4L206.2,261.7L202.7,262.4L199.3,263.6L195.9,265.4L192.4,267.8L189.0,270.2L185.5,272.4L182.1,274.3L178.7,276.0L175.2,277.6L171.8,279.7L168.4,282.3L164.9,284.5L161.5,285.4L158.1,285.6L154.6,285.7L151.2,285.7L147.7,285.7L144.3,285.8L140.9,285.8L137.4,285.8L134.0,285.8L130.6,285.9L127.1,285.9L123.7,285.8L120.2,285.6L116.8,285.4L113.4,285.3L109.9,285.2L106.5,285.2L103.1,285.2L99.6,285.2L96.2,285.2L92.7,285.3L89.3,285.4L85.9,285.8L82.4,286.3L79.0,286.7L75.6,287.2L72.1,287.7L68.7,288.1L65.2,288.5L61.8,288.9L58.4,289.4L54.9,289.8L51.5,290.2Z" fill="#1aa8b6"/>
<path d="M51.5,280.4L54.9,280.5L58.4,280.5L61.8,280.6L65.2,280.6L68.7,280.7L72.1,280.8L75.6,280.9L79.0,281.0L82.4,281.0L85.9,280.7L89.3,280.4L92.7,280.0L96.2,279.4L99.6,278.7L103.1,278.0L106.5,277.2L109.9,276.4L113.4,275.7L116.8,274.9L120.2,274.3L123.7,273.7L127.1,273.2L130.6,272.8L134.0,272.5L137.4,272.4L140.9,272.4L144.3,272.5L147.7,272.7L151.2,273.0L154.6,273.3L158.1,273.8L161.5,274.3L164.9,275.1L168.4,276.2L171.8,277.9L175.2,279.9L178.7,282.2L182.1,284.6L185.5,287.0L189.0,289.4L192.4,291.4L195.9,292.9L199.3,294.0L202.7,294.6L206.2,294.6L209.6,294.0L213.0,293.0L216.5,291.7L219.9,290.0L223.4,288.1L226.8,286.1L230.2,284.6L233.7,283.4L237.1,282.4L240.5,281.3L244.0,280.3L247.4,279.7L250.9,279.5L254.3,279.5L257.7,279.6L261.2,280.0L264.6,280.6L268.0,281.3L271.5,282.2L274.9,283.1L278.4,284.1L281.8,285.2L285.2,286.4L288.7,287.8L292.1,288.9L292.1,288.6L288.7,287.3L285.2,285.8L281.8,284.5L278.4,283.2L274.9,281.9L271.5,280.6L268.0,279.4L264.6,278.2L261.2,277.1L257.7,276.0L254.3,274.9L250.9,273.8L247.4,272.7L244.0,271.8L240.5,271.0L237.1,270.1L233.7,268.9L230.2,267.5L226.8,266.5L223.4,265.7L219.9,264.7L216.5,263.7L213.0,263.0L209.6,262.8L206.2,263.2L202.7,263.9L199.3,265.0L195.9,266.7L192.4,268.9L189.0,271.1L185.5,273.0L182.1,274.7L178.7,276.3L175.2,277.7L171.8,279.6L168.4,282.1L164.9,284.1L161.5,284.9L158.1,285.1L154.6,285.1L151.2,285.1L147.7,285.1L144.3,285.1L140.9,285.2L137.4,285.2L134.0,285.2L130.6,285.3L127.1,285.3L123.7,285.3L120.2,285.1L116.8,285.0L113.4,284.9L109.9,284.8L106.5,284.8L103.1,284.8L99.6,284.9L96.2,284.9L92.7,285.0L89.3,285.2L85.9,285.6L82.4,286.0L79.0,286.5L75.6,286.9L72.1,287.4L68.7,287.8L65.2,288.2L61.8,288.6L58.4,289.0L54.9,289.4L51.5,289.8Z" fill="#19a5be"/>
<path d="M51.5,280.4L54.9,280.5L58.4,280.5L61.8,280.6L65.2,280.6L68.7,280.7L72.1,280.8L75.6,280.9L79.0,281.0L82.4,281.0L85.9,280.7L89.3,280.4L92.7,280.0L96.2,279.4L99.6,278.7L103.1,278.0L106.5,277.2L109.9,276.4L113.4,275.7L116.8,274.9L120.2,274.3L123.7,273.7L127.1,273.2L130.6,272.8L134.0,272.5L137.4,272.4L140.9,272.4L144.3,272.5L147.7,272.7L151.2,273.0L154.6,273.3L158.1,273.8L161.5,274.3L164.9,275.1L168.4,276.2L171.8,277.9L175.2,279.9L178.7,282.2L182.1,284.6L185.5,287.0L189.0,289.4L192.4,291.4L195.9,292.9L199.3,294.0L202.7,294.6L206.2,294.6L209.6,294.0L213.0,293.0L216.5,291.7L219.9,290.0L223.4,288.1L226.8,286.1L230.2,284.6L233.7,283.4L237.1,282.4L240.5,281.3L244.0,280.3L247.4,279.7L250.9,279.5L254.3,279.5L257.7,279.6L261.2,280.0L264.6,280.6L268.0,281.3L271.5,282.2L274.9,283.1L278.4,284.1L281.8,285.2L285.2,286.4L288.7,287.8L292.1,288.9L292.1,288.6L288.7,287.4L285.2,285.9L281.8,284.5L278.4,283.2L274.9,282.0L271.5,280.7L268.0,279.5L264.6,278.3L261.2,277.2L257.7,276.1L254.3,275.1L250.9,274.1L247.4,273.1L244.0,272.2L240.5,271.5L237.1,270.7L233.7,269.6L230.2,268.3L226.8,267.4L223.4,266.8L219.9,266.0L216.5,265.1L213.0,264.4L209.6,264.3L206.2,264.7L202.7,265.3L199.3,266.4L195.9,267.9L192.4,269.9L189.0,271.9L185.5,273.7L182.1,275.2L178.7,276.5L175.2,277.8L171.8,279.5L168.4,281.8L164.9,283.6L161.5,284.4L158.1,284.6L154.6,284.6L151.2,284.5L147.7,284.5L144.3,284.5L140.9,284.5L137.4,284.6L134.0,284.6L130.6,284.7L127.1,284.8L123.7,284.7L120.2,284.6L116.8,284.5L113.4,284.4L109.9,284.4L106.5,284.5L103.1,284.5L99.6,284.6L96.2,284.7L92.7,284.8L89.3,285.0L85.9,285.3L82.4,285.8L79.0,286.2L75.6,286.7L72.1,287.1L68.7,287.4L65.2,287.8L61.8,288.2L58.4,288.6L54.9,289.0L51.5,289.3Z" fill="#19a3c2"/>
<path d="M51.5,280.4L54.9,280.5L58.4,280.5L61.8,280.6L65.2,280.6L68.7,280.7L72.1,280.8L75.6,280.9L79.0,281.0L82.4,281.0L85.9,280.7L89.3,280.4L92.7,280.0L96.2,279.4L99.6,278.7L103.1,278.0L106.5,277.2L109.9,276.4L113.4,275.7L116.8,274.9L120.2,274.3L123.7,273.7L127.1,273.2L130.6,272.8L134.0,272.5L137.4,272.4L140.9,272.4L144.3,272.5L147.7,272.7L151.2,273.0L154.6,273.3L158.1,273.8L161.5,274.3L164.9,275.1L168.4,276.2L171.8,277.9L175.2,279.9L178.7,282.2L182.1,284.6L185.5,287.0L189.0,289.4L192.4,291.4L195.9,292.9L199.3,294.0L202.7,294.6L206.2,294.6L209.6,294.0L213.0,293.0L216.5,291.7L219.9,290.0L223.4,288.1L226.8,286.1L230.2,284.6L233.7,283.4L237.1,282.4L240.5,281.3L244.0,280.3L247.4,279.7L250.9,279.5L254.3,279.5L257.7,279.6L261.2,280.0L264.6,280.6L268.0,281.3L271.5,282.2L274.9,283.1L278.4,284.1L281.8,285.2L285.2,286.4L288.7,287.8L292.1,288.9L292.1,288.6L288.7,287.4L285.2,285.9L281.8,284.5L278.4,283.2L274.9,282.0L271.5,280.8L268.0,279.6L264.6,278.4L261.2,277.4L257.7,276.3L254.3,275.3L250.9,274.3L247.4,273.4L244.0,272.6L240.5,272.0L237.1,271.3L233.7,270.3L230.2,269.1L226.8,268.4L223.4,267.8L219.9,267.2L216.5,266.4L213.0,265.9L209.6,265.8L206.2,266.2L202.7,266.8L199.3,267.8L195.9,269.2L192.4,271.0L189.0,272.8L185.5,274.4L182.1,275.7L178.7,276.8L175.2,277.9L171.8,279.4L168.4,281.5L164.9,283.2L161.5,283.9L158.1,284.0L154.6,284.0L151.2,284.0L147.7,284.0L144.3,283.9L140.9,283.9L137.4,284.0L134.0,284.0L130.6,284.1L127.1,284.2L123.7,284.2L120.2,284.1L116.8,284.0L113.4,284.0L109.9,284.0L106.5,284.1L103.1,284.2L99.6,284.3L96.2,284.4L92.7,284.5L89.3,284.8L85.9,285.1L82.4,285.5L79.0,286.0L75.6,286.4L72.1,286.8L68.7,287.1L65.2,287.4L61.8,287.8L58.4,288.2L54.9,288.6L51.5,288.9Z" fill="#19a1c6"/>
<path d="M51.5,280.4L54.9,280.5L58.4,280.5L61.8,280.6L65.2,280.6L68.7,280.7L72.1,280.8L75.6,280.9L79.0,281.0L82.4,281.0L85.9,280.7L89.3,280.4L92.7,280.0L96.2,279.4L99.6,278.7L103.1,278.0L106.5,277.2L109.9,276.4L113.4,275.7L116.8,274.9L120.2,274.3L123.7,273.7L127.1,273.2L130.6,272.8L134.0,272.5L137.4,272.4L140.9,272.4L144.3,272.5L147.7,272.7L151.2,273.0L154.6,273.3L158.1,273.8L161.5,274.3L164.9,275.1L168.4,276.2L171.8,277.9L175.2,279.9L178.7,282.2L182.1,284.6L185.5,287.0L189.0,289.4L192.4,291.4L195.9,292.9L199.3,294.0L202.7,294.6L206.2,294.6L209.6,294.0L213.0,293.0L216.5,291.7L219.9,290.0L223.4,288.1L226.8,286.1L230.2,284.6L233.7,283.4L237.1,282.4L240.5,281.3L244.0,280.3L247.4,279.7L250.9,279.5L254.3,279.5L257.7,279.6L261.2,280.0L264.6,280.6L268.0,281.3L271.5,282.2L274.9,283.1L278.4,284.1L281.8,285.2L285.2,286.4L288.7,287.8L292.1,288.9L292.1,288.6L288.7,287.4L285.2,285.9L281.8,284.6L278.4,283.3L274.9,282.1L271.5,280.9L268.0,279.7L264.6,278.6L261.2,277.5L257.7,276.5L254.3,275.5L250.9,274.6L247.4,273.7L244.0,273.0L240.5,272.5L237.1,271.9L233.7,271.0L230.2,269.9L226.8,269.3L223.4,268.9L219.9,268.4L216.5,267.7L213.0,267.3L209.6,267.3L206.2,267.7L202.7,268.3L199.3,269.1L195.9,270.4L192.4,272.1L189.0,273.7L185.5,275.0L182.1,276.2L178.7,277.1L175.2,278.0L171.8,279.4L168.4,281.2L164.9,282.8L161.5,283.4L158.1,283.5L154.6,283.4L151.2,283.4L147.7,283.4L144.3,283.3L140.9,283.3L137.4,283.4L134.0,283.4L130.6,283.5L127.1,283.6L123.7,283.6L120.2,283.6L116.8,283.5L113.4,283.5L109.9,283.6L106.5,283.7L103.1,283.9L99.6,284.0L96.2,284.1L92.7,284.3L89.3,284.5L85.9,284.9L82.4,285.3L79.0,285.7L75.6,286.1L72.1,286.4L68.7,286.8L65.2,287.1L61.8,287.4L58.4,287.8L54.9,288.1L51.5,288.4Z" fill="#1b9ec9"/>
<path d="M51.5,280.4L54.9,280.5L58.4,280.5L61.8,280.6L65.2,280.6L68.7,280.7L72.1,280.8L75.6,280.9L79.0,281.0L82.4,281.0L85.9,280.7L89.3,280.4L92.7,280.0L96.2,279.4L99.6,278.7L103.1,278.0L106.5,277.2L109.9,276.4L113.4,275.7L116.8,274.9L120.2,274.3L123.7,273.7L127.1,273.2L130.6,272.8L134.0,272.5L137.4,272.4L140.9,272.4L144.3,272.5L147.7,272.7L151.2,273.0L154.6,273.3L158.1,273.8L161.5,274.3L164.9,275.1L168.4,276.2L171.8,277.9L175.2,279.9L178.7,282.2L182.1,284.6L185.5,287.0L189.0,289.4L192.4,291.4L195.9,292.9L199.3,294.0L202.7,294.6L206.2,294.6L209.6,294.0L213.0,293.0L216.5,291.7L219.9,290.0L223.4,288.1L226.8,286.1L230.2,284.6L233.7,283.4L237.1,282.4L240.5,281.3L244.0,280.3L247.4,279.7L250.9,279.5L254.3,279.5L257.7,279.6L261.2,280.0L264.6,280.6L268.0,281.3L271.5,282.2L274.9,283.1L278.4,284.1L281.8,285.2L285.2,286.4L288.7,287.8L292.1,288.9L292.1,288.6L288.7,287.4L285.2,286.0L281.8,284.6L278.4,283.3L274.9,282.1L271.5,280.9L268.0,279.8L264.6,278.7L261.2,277.6L257.7,276.7L254.3,275.7L250.9,274.9L247.4,274.1L244.0,273.4L240.5,272.9L237.1,272.5L233.7,271.7L230.2,270.7L226.8,270.2L223.4,270.0L219.9,269.6L216.5,269.1L213.0,268.7L209.6,268.8L206.2,269.2L202.7,269.7L199.3,270.5L195.9,271.7L192.4,273.2L189.0,274.5L185.5,275.7L182.1,276.6L178.7,277.4L175.2,278.1L171.8,279.3L168.4,280.9L164.9,282.4L161.5,282.9L158.1,282.9L154.6,282.9L151.2,282.8L147.7,282.8L144.3,282.7L140.9,282.7L137.4,282.7L134.0,282.8L130.6,282.9L127.1,283.0L123.7,283.1L120.2,283.0L116.8,283.1L113.4,283.1L109.9,283.2L106.5,283.4L103.1,283.5L99.6,283.7L96.2,283.9L92.7,284.1L89.3,284.3L85.9,284.6L82.4,285.0L79.0,285.4L75.6,285.8L72.1,286.1L68.7,286.4L65.2,286.7L61.8,287.0L58.4,287.4L54.9,287.7L51.5,288.0Z" fill="#1f9acb"/>
<path d="M51.5,280.4L54.9,280.5L58.4,280.5L61.8,280.6L65.2,280.6L68.7,280.7L72.1,280.8L75.6,280.9L79.0,281.0L82.4,281.0L85.9,280.7L89.3,280.4L92.7,280.0L96.2,279.4L99.6,278.7L103.1,278.0L106.5,277.2L109.9,276.4L113.4,275.7L116.8,274.9L120.2,274.3L123.7,273.7L127.1,273.2L130.6,272.8L134.0,272.5L137.4,272.4L140.9,272.4L144.3,272.5L147.7,272.7L151.2,273.0L154.6,273.3L158.1,273.8L161.5,274.3L164.9,275.1L168.4,276.2L171.8,277.9L175.2,279.9L178.7,282.2L182.1,284.6L185.5,287.0L189.0,289.4L192.4,291.4L195.9,292.9L199.3,294.0L202.7,294.6L206.2,294.6L209.6,294.0L213.0,293.0L216.5,291.7L219.9,290.0L223.4,288.1L226.8,286.1L230.2,284.6L233.7,283.4L237.1,282.4L240.5,281.3L244.0,280.3L247.4,279.7L250.9,279.5L254.3,279.5L257.7,279.6L261.2,280.0L264.6,280.6L268.0,281.3L271.5,282.2L274.9,283.1L278.4,284.1L281.8,285.2L285.2,286.4L288.7,287.8L292.1,288.9L292.1,288.6L288.7,287.4L285.2,286.0L281.8,284.6L278.4,283.4L274.9,282.2L271.5,281.0L268.0,279.9L264.6,278.8L261.2,277.8L257.7,276.8L254.3,276.0L250.9,275.1L247.4,274.4L244.0,273.8L240.5,273.4L237.1,273.0L233.7,272.4L230.2,271.6L226.8,271.2L223.4,271.0L219.9,270.8L216.5,270.4L213.0,270.2L209.6,270.3L206.2,270.6L202.7,271.2L199.3,271.9L195.9,272.9L192.4,274.2L189.0,275.4L185.5,276.4L182.1,277.1L178.7,277.7L175.2,278.2L171.8,279.2L168.4,280.7L164.9,281.9L161.5,282.4L158.1,282.4L154.6,282.3L151.2,282.2L147.7,282.2L144.3,282.1L140.9,282.1L137.4,282.1L134.0,282.2L130.6,282.3L127.1,282.5L123.7,282.5L120.2,282.5L116.8,282.6L113.4,282.7L109.9,282.8L106.5,283.0L103.1,283.2L99.6,283.4L96.2,283.6L92.7,283.8L89.3,284.1L85.9,284.4L82.4,284.8L79.0,285.2L75.6,285.5L72.1,285.8L68.7,286.1L65.2,286.4L61.8,286.7L58.4,287.0L54.9,287.3L51.5,287.5Z" fill="#2297cd"/>
<path d="M51.5,280.4L54.9,280.5L58.4,280.5L61.8,280.6L65.2,280.6L68.7,280.7L72.1,280.8L75.6,280.9L79.0,281.0L82.4,281.0L85.9,280.7L89.3,280.4L92.7,280.0L96.2,279.4L99.6,278.7L103.1,278.0L106.5,277.2L109.9,276.4L113.4,275.7L116.8,274.9L120.2,274.3L123.7,273.7L127.1,273.2L130.6,272.8L134.0,272.5L137.4,272.4L140.9,272.4L144.3,272.5L147.7,272.7L151.2,273.0L154.6,273.3L158.1,273.8L161.5,274.3L164.9,275.1L168.4,276.2L171.8,277.9L175.2,279.9L178.7,282.2L182.1,284.6L185.5,287.0L189.0,289.4L192.4,291.4L195.9,292.9L199.3,294.0L202.7,294.6L206.2,294.6L209.6,294.0L213.0,293.0L216.5,291.7L219.9,290.0L223.4,288.1L226.8,286.1L230.2,284.6L233.7,283.4L237.1,282.4L240.5,281.3L244.0,280.3L247.4,279.7L250.9,279.5L254.3,279.5L257.7,279.6L261.2,280.0L264.6,280.6L268.0,281.3L271.5,282.2L274.9,283.1L278.4,284.1L281.8,285.2L285.2,286.4L288.7,287.8L292.1,288.9L292.1,288.7L288.7,287.5L285.2,286.0L281.8,284.7L278.4,283.4L274.9,282.2L271.5,281.1L268.0,279.9L264.6,278.9L261.2,277.9L257.7,277.0L254.3,276.2L250.9,275.4L247.4,274.7L244.0,274.2L240.5,273.9L237.1,273.6L233.7,273.1L230.2,272.4L226.8,272.1L223.4,272.1L219.9,272.0L216.5,271.7L213.0,271.6L209.6,271.7L206.2,272.1L202.7,272.6L199.3,273.3L195.9,274.2L192.4,275.3L189.0,276.3L185.5,277.0L182.1,277.6L178.7,278.0L175.2,278.4L171.8,279.1L168.4,280.4L164.9,281.5L161.5,281.9L158.1,281.9L154.6,281.8L151.2,281.7L147.7,281.6L144.3,281.5L140.9,281.5L137.4,281.5L134.0,281.6L130.6,281.7L127.1,281.9L123.7,282.0L120.2,282.0L116.8,282.1L113.4,282.2L109.9,282.4L106.5,282.6L103.1,282.9L99.6,283.1L96.2,283.4L92.7,283.6L89.3,283.8L85.9,284.2L82.4,284.6L79.0,284.9L75.6,285.2L72.1,285.5L68.7,285.8L65.2,286.0L61.8,286.3L58.4,286.6L54.9,286.9L51.5,287.1Z" fill="#2790c9"/>
<path d="M51.5,280.4L54.9,280.5L58.4,280.5L61.8,280.6L65.2,280.6L68.7,280.7L72.1,280.8L75.6,280.9L79.0,281.0L82.4,281.0L85.9,280.7L89.3,280.4L92.7,280.0L96.2,279.4L99.6,278.7L103.1,278.0L106.5,277.2L109.9,276.4L113.4,275.7L116.8,274.9L120.2,274.3L123.7,273.7L127.1,273.2L130.6,272.8L134.0,272.5L137.4,272.4L140.9,272.4L144.3,272.5L147.7,272.7L151.2,273.0L154.6,273.3L158.1,273.8L161.5,274.3L164.9,275.1L168.4,276.2L171.8,277.9L175.2,279.9L178.7,282.2L182.1,284.6L185.5,287.0L189.0,289.4L192.4,291.4L195.9,292.9L199.3,294.0L202.7,294.6L206.2,294.6L209.6,294.0L213.0,293.0L216.5,291.7L219.9,290.0L223.4,288.1L226.8,286.1L230.2,284.6L233.7,283.4L237.1,282.4L240.5,281.3L244.0,280.3L247.4,279.7L250.9,279.5L254.3,279.5L257.7,279.6L261.2,280.0L264.6,280.6L268.0,281.3L271.5,282.2L274.9,283.1L278.4,284.1L281.8,285.2L285.2,286.4L288.7,287.8L292.1,288.9L292.1,288.7L288.7,287.5L285.2,286.0L281.8,284.7L278.4,283.5L274.9,282.3L271.5,281.2L268.0,280.0L264.6,279.0L261.2,278.1L257.7,277.2L254.3,276.4L250.9,275.7L247.4,275.1L244.0,274.6L240.5,274.4L237.1,274.2L233.7,273.8L230.2,273.2L226.8,273.0L223.4,273.2L219.9,273.2L216.5,273.1L213.0,273.0L209.6,273.2L206.2,273.6L202.7,274.1L199.3,274.7L195.9,275.4L192.4,276.4L189.0,277.2L185.5,277.7L182.1,278.0L178.7,278.3L175.2,278.5L171.8,279.0L168.4,280.1L164.9,281.1L161.5,281.4L158.1,281.3L154.6,281.2L151.2,281.1L147.7,281.0L144.3,280.9L140.9,280.9L137.4,280.9L134.0,281.0L130.6,281.1L127.1,281.3L123.7,281.4L120.2,281.5L116.8,281.6L113.4,281.8L109.9,282.0L106.5,282.3L103.1,282.5L99.6,282.8L96.2,283.1L92.7,283.3L89.3,283.6L85.9,284.0L82.4,284.3L79.0,284.7L75.6,284.9L72.1,285.2L68.7,285.4L65.2,285.7L61.8,285.9L58.4,286.2L54.9,286.4L51.5,286.6Z" fill="#2c88c4"/>
<path d="M51.5,280.4L54.9,280.5L58.4,280.5L61.8,280.6L65.2,280.6L68.7,280.7L72.1,280.8L75.6,280.9L79.0,281.0L82.4,281.0L85.9,280.7L89.3,280.4L92.7,280.0L96.2,279.4L99.6,278.7L103.1,278.0L106.5,277.2L109.9,276.4L113.4,275.7L116.8,274.9L120.2,274.3L123.7,273.7L127.1,273.2L130.6,272.8L134.0,272.5L137.4,272.4L140.9,272.4L144.3,272.5L147.7,272.7L151.2,273.0L154.6,273.3L158.1,273.8L161.5,274.3L164.9,275.1L168.4,276.2L171.8,277.9L175.2,279.9L178.7,282.2L182.1,284.6L185.5,287.0L189.0,289.4L192.4,291.4L195.9,292.9L199.3,294.0L202.7,294.6L206.2,294.6L209.6,294.0L213.0,293.0L216.5,291.7L219.9,290.0L223.4,288.1L226.8,286.1L230.2,284.6L233.7,283.4L237.1,282.4L240.5,281.3L244.0,280.3L247.4,279.7L250.9,279.5L254.3,279.5L257.7,279.6L261.2,280.0L264.6,280.6L268.0,281.3L271.5,282.2L274.9,283.1L278.4,284.1L281.8,285.2L285.2,286.4L288.7,287.8L292.1,288.9L292.1,288.7L288.7,287.5L285.2,286.1L281.8,284.7L278.4,283.5L274.9,282.4L271.5,281.2L268.0,280.1L264.6,279.1L261.2,278.2L257.7,277.4L254.3,276.6L250.9,275.9L247.4,275.4L244.0,275.0L240.5,274.9L237.1,274.8L233.7,274.4L230.2,274.0L226.8,274.0L223.4,274.2L219.9,274.4L216.5,274.4L213.0,274.4L209.6,274.7L206.2,275.1L202.7,275.6L199.3,276.0L195.9,276.7L192.4,277.5L189.0,278.0L185.5,278.4L182.1,278.5L178.7,278.5L175.2,278.6L171.8,279.0L168.4,279.8L164.9,280.6L161.5,280.9L158.1,280.8L154.6,280.6L151.2,280.5L147.7,280.4L144.3,280.3L140.9,280.3L137.4,280.3L134.0,280.4L130.6,280.6L127.1,280.7L123.7,280.9L120.2,281.0L116.8,281.1L113.4,281.4L109.9,281.6L106.5,281.9L103.1,282.2L99.6,282.5L96.2,282.8L92.7,283.1L89.3,283.4L85.9,283.7L82.4,284.1L79.0,284.4L75.6,284.7L72.1,284.9L68.7,285.1L65.2,285.3L61.8,285.5L58.4,285.8L54.9,286.0L51.5,286.2Z" fill="#3181bf"/>
<path d="M51.5,280.4L54.9,280.5L58.4,280.5L61.8,280.6L65.2,280.6L68.7,280.7L72.1,280.8L75.6,280.9L79.0,281.0L82.4,281.0L85.9,280.7L89.3,280.4L92.7,280.0L96.2,279.4L99.6,278.7L103.1,278.0L106.5,277.2L109.9,276.4L113.4,275.7L116.8,274.9L120.2,274.3L123.7,273.7L127.1,273.2L130.6,272.8L134.0,272.5L137.4,272.4L140.9,272.4L144.3,272.5L147.7,272.7L151.2,273.0L154.6,273.3L158.1,273.8L161.5,274.3L164.9,275.1L168.4,276.2L171.8,277.9L175.2,279.9L178.7,282.2L182.1,284.6L185.5,287.0L189.0,289.4L192.4,291.4L195.9,292.9L199.3,294.0L202.7,294.6L206.2,294.6L209.6,294.0L213.0,293.0L216.5,291.7L219.9,290.0L223.4,288.1L226.8,286.1L230.2,284.6L233.7,283.4L237.1,282.4L240.5,281.3L244.0,280.3L247.4,279.7L250.9,279.5L254.3,279.5L257.7,279.6L261.2,280.0L264.6,280.6L268.0,281.3L271.5,282.2L274.9,283.1L278.4,284.1L281.8,285.2L285.2,286.4L288.7,287.8L292.1,288.9L292.1,288.7L288.7,287.5L285.2,286.1L281.8,284.8L278.4,283.6L274.9,282.4L271.5,281.3L268.0,280.2L264.6,279.2L261.2,278.3L257.7,277.5L254.3,276.8L250.9,276.2L247.4,275.7L244.0,275.4L240.5,275.4L237.1,275.4L233.7,275.1L230.2,274.8L226.8,274.9L223.4,275.3L219.9,275.6L216.5,275.7L213.0,275.9L209.6,276.2L206.2,276.6L202.7,277.0L199.3,277.4L195.9,277.9L192.4,278.5L189.0,278.9L185.5,279.0L182.1,279.0L178.7,278.8L175.2,278.7L171.8,278.9L168.4,279.6L164.9,280.2L161.5,280.4L158.1,280.2L154.6,280.1L151.2,279.9L147.7,279.8L144.3,279.7L140.9,279.7L137.4,279.7L134.0,279.8L130.6,280.0L127.1,280.1L123.7,280.3L120.2,280.5L116.8,280.7L113.4,280.9L109.9,281.2L106.5,281.6L103.1,281.9L99.6,282.2L96.2,282.6L92.7,282.9L89.3,283.2L85.9,283.5L82.4,283.8L79.0,284.1L75.6,284.4L72.1,284.6L68.7,284.7L65.2,284.9L61.8,285.1L58.4,285.4L54.9,285.6L51.5,285.8Z" fill="#337abb"/>
<path d="M51.5,280.4L54.9,280.5L58.4,280.5L61.8,280.6L65.2,280.6L68.7,280.7L72.1,280.8L75.6,280.9L79.0,281.0L82.4,281.0L85.9,280.7L89.3,280.4L92.7,280.0L96.2,279.4L99.6,278.7L103.1,278.0L106.5,277.2L109.9,276.4L113.4,275.7L116.8,274.9L120.2,274.3L123.7,273.7L127.1,273.2L130.6,272.8L134.0,272.5L137.4,272.4L140.9,272.4L144.3,272.5L147.7,272.7L151.2,273.0L154.6,273.3L158.1,273.8L161.5,274.3L164.9,275.1L168.4,276.2L171.8,277.9L175.2,279.9L178.7,282.2L182.1,284.6L185.5,287.0L189.0,289.4L192.4,291.4L195.9,292.9L199.3,294.0L202.7,294.6L206.2,294.6L209.6,294.0L213.0,293.0L216.5,291.7L219.9,290.0L223.4,288.1L226.8,286.1L230.2,284.6L233.7,283.4L237.1,282.4L240.5,281.3L244.0,280.3L247.4,279.7L250.9,279.5L254.3,279.5L257.7,279.6L261.2,280.0L264.6,280.6L268.0,281.3L271.5,282.2L274.9,283.1L278.4,284.1L281.8,285.2L285.2,286.4L288.7,287.8L292.1,288.9L292.1,288.7L288.7,287.5L285.2,286.1L281.8,284.8L278.4,283.6L274.9,282.5L271.5,281.4L268.0,280.3L264.6,279.3L261.2,278.5L257.7,277.7L254.3,277.0L250.9,276.5L247.4,276.1L244.0,275.8L240.5,275.9L237.1,276.0L233.7,275.8L230.2,275.6L226.8,275.8L223.4,276.3L219.9,276.8L216.5,277.0L213.0,277.3L209.6,277.7L206.2,278.1L202.7,278.5L199.3,278.8L195.9,279.2L192.4,279.6L189.0,279.8L185.5,279.7L182.1,279.4L178.7,279.1L175.2,278.8L171.8,278.8L168.4,279.3L164.9,279.8L161.5,279.9L158.1,279.7L154.6,279.5L151.2,279.3L147.7,279.2L144.3,279.1L140.9,279.1L137.4,279.1L134.0,279.2L130.6,279.4L127.1,279.6L123.7,279.8L120.2,280.0L116.8,280.2L113.4,280.5L109.9,280.8L106.5,281.2L103.1,281.6L99.6,281.9L96.2,282.3L92.7,282.6L89.3,282.9L85.9,283.3L82.4,283.6L79.0,283.9L75.6,284.1L72.1,284.3L68.7,284.4L65.2,284.6L61.8,284.8L58.4,284.9L54.9,285.1L51.5,285.3Z" fill="#3274b8"/>
<path d="M51.5,280.4L54.9,280.5L58.4,280.5L61.8,280.6L65.2,280.6L68.7,280.7L72.1,280.8L75.6,280.9L79.0,281.0L82.4,281.0L85.9,280.7L89.3,280.4L92.7,280.0L96.2,279.4L99.6,278.7L103.1,278.0L106.5,277.2L109.9,276.4L113.4,275.7L116.8,274.9L120.2,274.3L123.7,273.7L127.1,273.2L130.6,272.8L134.0,272.5L137.4,272.4L140.9,272.4L144.3,272.5L147.7,272.7L151.2,273.0L154.6,273.3L158.1,273.8L161.5,274.3L164.9,275.1L168.4,276.2L171.8,277.9L175.2,279.9L178.7,282.2L182.1,284.6L185.5,287.0L189.0,289.4L192.4,291.4L195.9,292.9L199.3,294.0L202.7,294.6L206.2,294.6L209.6,294.0L213.0,293.0L216.5,291.7L219.9,290.0L223.4,288.1L226.8,286.1L230.2,284.6L233.7,283.4L237.1,282.4L240.5,281.3L244.0,280.3L247.4,279.7L250.9,279.5L254.3,279.5L257.7,279.6L261.2,280.0L264.6,280.6L268.0,281.3L271.5,282.2L274.9,283.1L278.4,284.1L281.8,285.2L285.2,286.4L288.7,287.8L292.1,288.9L292.1,288.7L288.7,287.6L285.2,286.1L281.8,284.8L278.4,283.7L274.9,282.5L271.5,281.4L268.0,280.4L264.6,279.4L261.2,278.6L257.7,277.9L254.3,277.3L250.9,276.8L247.4,276.4L244.0,276.2L240.5,276.4L237.1,276.6L233.7,276.5L230.2,276.4L226.8,276.8L223.4,277.4L219.9,278.0L216.5,278.4L213.0,278.7L209.6,279.2L206.2,279.6L202.7,280.0L199.3,280.2L195.9,280.4L192.4,280.7L189.0,280.7L185.5,280.3L182.1,279.9L178.7,279.4L175.2,278.9L171.8,278.7L168.4,279.0L164.9,279.4L161.5,279.4L158.1,279.2L154.6,278.9L151.2,278.8L147.7,278.6L144.3,278.5L140.9,278.5L137.4,278.5L134.0,278.6L130.6,278.8L127.1,279.0L123.7,279.2L120.2,279.4L116.8,279.7L113.4,280.0L109.9,280.4L106.5,280.8L103.1,281.2L99.6,281.7L96.2,282.1L92.7,282.4L89.3,282.7L85.9,283.0L82.4,283.4L79.0,283.6L75.6,283.8L72.1,283.9L68.7,284.1L65.2,284.2L61.8,284.4L58.4,284.5L54.9,284.7L51.5,284.9Z" fill="#316eb5"/>
<path d="M51.5,280.4L54.9,280.5L58.4,280.5L61.8,280.6L65.2,280.6L68.7,280.7L72.1,280.8L75.6,280.9L79.0,281.0L82.4,281.0L85.9,280.7L89.3,280.4L92.7,280.0L96.2,279.4L99.6,278.7L103.1,278.0L106.5,277.2L109.9,276.4L113.4,275.7L116.8,274.9L120.2,274.3L123.7,273.7L127.1,273.2L130.6,272.8L134.0,272.5L137.4,272.4L140.9,272.4L144.3,272.5L147.7,272.7L151.2,273.0L154.6,273.3L158.1,273.8L161.5,274.3L164.9,275.1L168.4,276.2L171.8,277.9L175.2,279.9L178.7,282.2L182.1,284.6L185.5,287.0L189.0,289.4L192.4,291.4L195.9,292.9L199.3,294.0L202.7,294.6L206.2,294.6L209.6,294.0L213.0,293.0L216.5,291.7L219.9,290.0L223.4,288.1L226.8,286.1L230.2,284.6L233.7,283.4L237.1,282.4L240.5,281.3L244.0,280.3L247.4,279.7L250.9,279.5L254.3,279.5L257.7,279.6L261.2,280.0L264.6,280.6L268.0,281.3L271.5,282.2L274.9,283.1L278.4,284.1L281.8,285.2L285.2,286.4L288.7,287.8L292.1,288.9L292.1,288.8L288.7,287.6L285.2,286.2L281.8,284.9L278.4,283.7L274.9,282.6L271.5,281.5L268.0,280.5L264.6,279.6L261.2,278.8L257.7,278.1L254.3,277.5L250.9,277.0L247.4,276.7L244.0,276.6L240.5,276.9L237.1,277.1L233.7,277.2L230.2,277.2L226.8,277.7L223.4,278.5L219.9,279.2L216.5,279.7L213.0,280.2L209.6,280.7L206.2,281.1L202.7,281.4L199.3,281.6L195.9,281.7L192.4,281.8L189.0,281.5L185.5,281.0L182.1,280.4L178.7,279.7L175.2,279.0L171.8,278.6L168.4,278.7L164.9,278.9L161.5,278.9L158.1,278.6L154.6,278.4L151.2,278.2L147.7,278.0L144.3,277.9L140.9,277.9L137.4,277.9L134.0,278.0L130.6,278.2L127.1,278.4L123.7,278.7L120.2,278.9L116.8,279.2L113.4,279.6L109.9,280.0L106.5,280.5L103.1,280.9L99.6,281.4L96.2,281.8L92.7,282.1L89.3,282.5L85.9,282.8L82.4,283.1L79.0,283.4L75.6,283.5L72.1,283.6L68.7,283.7L65.2,283.9L61.8,284.0L58.4,284.1L54.9,284.3L51.5,284.4Z" fill="#3068b3"/>
<path d="M51.5,280.4L54.9,280.5L58.4,280.5L61.8,280.6L65.2,280.6L68.7,280.7L72.1,280.8L75.6,280.9L79.0,281.0L82.4,281.0L85.9,280.7L89.3,280.4L92.7,280.0L96.2,279.4L99.6,278.7L103.1,278.0L106.5,277.2L109.9,276.4L113.4,275.7L116.8,274.9L120.2,274.3L123.7,273.7L127.1,273.2L130.6,272.8L134.0,272.5L137.4,272.4L140.9,272.4L144.3,272.5L147.7,272.7L151.2,273.0L154.6,273.3L158.1,273.8L161.5,274.3L164.9,275.1L168.4,276.2L171.8,277.9L175.2,279.9L178.7,282.2L182.1,284.6L185.5,287.0L189.0,289.4L192.4,291.4L195.9,292.9L199.3,294.0L202.7,294.6L206.2,294.6L209.6,294.0L213.0,293.0L216.5,291.7L219.9,290.0L223.4,288.1L226.8,286.1L230.2,284.6L233.7,283.4L237.1,282.4L240.5,281.3L244.0,280.3L247.4,279.7L250.9,279.5L254.3,279.5L257.7,279.6L261.2,280.0L264.6,280.6L268.0,281.3L271.5,282.2L274.9,283.1L278.4,284.1L281.8,285.2L285.2,286.4L288.7,287.8L292.1,288.9L292.1,288.8L288.7,287.6L285.2,286.2L281.8,284.9L278.4,283.7L274.9,282.7L271.5,281.6L268.0,280.6L264.6,279.7L261.2,278.9L257.7,278.2L254.3,277.7L250.9,277.3L247.4,277.1L244.0,277.0L240.5,277.3L237.1,277.7L233.7,277.9L230.2,278.1L226.8,278.6L223.4,279.5L219.9,280.4L216.5,281.0L213.0,281.6L209.6,282.1L206.2,282.6L202.7,282.9L199.3,282.9L195.9,282.9L192.4,282.8L189.0,282.4L185.5,281.7L182.1,280.9L178.7,280.0L175.2,279.1L171.8,278.6L168.4,278.4L164.9,278.5L161.5,278.4L158.1,278.1L154.6,277.8L151.2,277.6L147.7,277.5L144.3,277.3L140.9,277.3L137.4,277.3L134.0,277.4L130.6,277.6L127.1,277.8L123.7,278.1L120.2,278.4L116.8,278.8L113.4,279.2L109.9,279.6L106.5,280.1L103.1,280.6L99.6,281.1L96.2,281.5L92.7,281.9L89.3,282.2L85.9,282.6L82.4,282.9L79.0,283.1L75.6,283.2L72.1,283.3L68.7,283.4L65.2,283.5L61.8,283.6L58.4,283.7L54.9,283.9L51.5,284.0Z" fill="#2f63b0"/>
<path d="M51.5,280.4L54.9,280.5L58.4,280.5L61.8,280.6L65.2,280.6L68.7,280.7L72.1,280.8L75.6,280.9L79.0,281.0L82.4,281.0L85.9,280.7L89.3,280.4L92.7,280.0L96.2,279.4L99.6,278.7L103.1,278.0L106.5,277.2L109.9,276.4L113.4,275.7L116.8,274.9L120.2,274.3L123.7,273.7L127.1,273.2L130.6,272.8L134.0,272.5L137.4,272.4L140.9,272.4L144.3,272.5L147.7,272.7L151.2,273.0L154.6,273.3L158.1,273.8L161.5,274.3L164.9,275.1L168.4,276.2L171.8,277.9L175.2,279.9L178.7,282.2L182.1,284.6L185.5,287.0L189.0,289.4L192.4,291.4L195.9,292.9L199.3,294.0L202.7,294.6L206.2,294.6L209.6,294.0L213.0,293.0L216.5,291.7L219.9,290.0L223.4,288.1L226.8,286.1L230.2,284.6L233.7,283.4L237.1,282.4L240.5,281.3L244.0,280.3L247.4,279.7L250.9,279.5L254.3,279.5L257.7,279.6L261.2,280.0L264.6,280.6L268.0,281.3L271.5,282.2L274.9,283.1L278.4,284.1L281.8,285.2L285.2,286.4L288.7,287.8L292.1,288.9L292.1,288.8L288.7,287.6L285.2,286.2L281.8,284.9L278.4,283.8L274.9,282.7L271.5,281.7L268.0,280.7L264.6,279.8L261.2,279.0L257.7,278.4L254.3,277.9L250.9,277.6L247.4,277.4L244.0,277.5L240.5,277.8L237.1,278.3L233.7,278.6L230.2,278.9L226.8,279.6L223.4,280.6L219.9,281.6L216.5,282.4L213.0,283.0L209.6,283.6L206.2,284.1L202.7,284.3L199.3,284.3L195.9,284.2L192.4,283.9L189.0,283.3L185.5,282.3L182.1,281.3L178.7,280.2L175.2,279.2L171.8,278.5L168.4,278.2L164.9,278.1L161.5,277.9L158.1,277.5L154.6,277.2L151.2,277.0L147.7,276.9L144.3,276.7L140.9,276.6L137.4,276.7L134.0,276.8L130.6,277.0L127.1,277.3L123.7,277.6L120.2,277.9L116.8,278.3L113.4,278.7L109.9,279.2L106.5,279.7L103.1,280.3L99.6,280.8L96.2,281.3L92.7,281.7L89.3,282.0L85.9,282.3L82.4,282.6L79.0,282.8L75.6,282.9L72.1,283.0L68.7,283.1L65.2,283.1L61.8,283.2L58.4,283.3L54.9,283.4L51.5,283.5Z" fill="#2e5dad"/>
<path d="M51.5,280.4L54.9,280.5L58.4,280.5L61.8,280.6L65.2,280.6L68.7,280.7L72.1,280.8L75.6,280.9L79.0,281.0L82.4,281.0L85.9,280.7L89.3,280.4L92.7,280.0L96.2,279.4L99.6,278.7L103.1,278.0L106.5,277.2L109.9,276.4L113.4,275.7L116.8,274.9L120.2,274.3L123.7,273.7L127.1,273.2L130.6,272.8L134.0,272.5L137.4,272.4L140.9,272.4L144.3,272.5L147.7,272.7L151.2,273.0L154.6,273.3L158.1,273.8L161.5,274.3L164.9,275.1L168.4,276.2L171.8,277.9L175.2,279.9L178.7,282.2L182.1,284.6L185.5,287.0L189.0,289.4L192.4,291.4L195.9,292.9L199.3,294.0L202.7,294.6L206.2,294.6L209.6,294.0L213.0,293.0L216.5,291.7L219.9,290.0L223.4,288.1L226.8,286.1L230.2,284.6L233.7,283.4L237.1,282.4L240.5,281.3L244.0,280.3L247.4,279.7L250.9,279.5L254.3,279.5L257.7,279.6L261.2,280.0L264.6,280.6L268.0,281.3L271.5,282.2L274.9,283.1L278.4,284.1L281.8,285.2L285.2,286.4L288.7,287.8L292.1,288.9L292.1,288.8L288.7,287.6L285.2,286.2L281.8,285.0L278.4,283.8L274.9,282.8L271.5,281.7L268.0,280.7L264.6,279.9L261.2,279.2L257.7,278.6L254.3,278.1L250.9,277.8L247.4,277.7L244.0,277.9L240.5,278.3L237.1,278.9L233.7,279.3L230.2,279.7L226.8,280.5L223.4,281.7L219.9,282.8L216.5,283.7L213.0,284.4L209.6,285.1L206.2,285.6L202.7,285.8L199.3,285.7L195.9,285.4L192.4,285.0L189.0,284.1L185.5,283.0L182.1,281.8L178.7,280.5L175.2,279.3L171.8,278.4L168.4,277.9L164.9,277.6L161.5,277.4L158.1,277.0L154.6,276.7L151.2,276.4L147.7,276.3L144.3,276.1L140.9,276.0L137.4,276.0L134.0,276.2L130.6,276.4L127.1,276.7L123.7,277.0L120.2,277.4L116.8,277.8L113.4,278.3L109.9,278.8L106.5,279.4L103.1,279.9L99.6,280.5L96.2,281.0L92.7,281.4L89.3,281.8L85.9,282.1L82.4,282.4L79.0,282.6L75.6,282.7L72.1,282.7L68.7,282.7L65.2,282.8L61.8,282.9L58.4,282.9L54.9,283.0L51.5,283.1Z" fill="#2e55aa"/>
<path d="M51.5,280.4L54.9,280.5L58.4,280.5L61.8,280.6L65.2,280.6L68.7,280.7L72.1,280.8L75.6,280.9L79.0,281.0L82.4,281.0L85.9,280.7L89.3,280.4L92.7,280.0L96.2,279.4L99.6,278.7L103.1,278.0L106.5,277.2L109.9,276.4L113.4,275.7L116.8,274.9L120.2,274.3L123.7,273.7L127.1,273.2L130.6,272.8L134.0,272.5L137.4,272.4L140.9,272.4L144.3,272.5L147.7,272.7L151.2,273.0L154.6,273.3L158.1,273.8L161.5,274.3L164.9,275.1L168.4,276.2L171.8,277.9L175.2,279.9L178.7,282.2L182.1,284.6L185.5,287.0L189.0,289.4L192.4,291.4L195.9,292.9L199.3,294.0L202.7,294.6L206.2,294.6L209.6,294.0L213.0,293.0L216.5,291.7L219.9,290.0L223.4,288.1L226.8,286.1L230.2,284.6L233.7,283.4L237.1,282.4L240.5,281.3L244.0,280.3L247.4,279.7L250.9,279.5L254.3,279.5L257.7,279.6L261.2,280.0L264.6,280.6L268.0,281.3L271.5,282.2L274.9,283.1L278.4,284.1L281.8,285.2L285.2,286.4L288.7,287.8L292.1,288.9L292.1,288.8L288.7,287.7L285.2,286.3L281.8,285.0L278.4,283.9L274.9,282.8L271.5,281.8L268.0,280.8L264.6,280.0L261.2,279.3L257.7,278.8L254.3,278.4L250.9,278.1L247.4,278.1L244.0,278.3L240.5,278.8L237.1,279.5L233.7,280.0L230.2,280.5L226.8,281.4L223.4,282.7L219.9,284.0L216.5,285.0L213.0,285.9L209.6,286.6L206.2,287.1L202.7,287.3L199.3,287.1L195.9,286.7L192.4,286.0L189.0,285.0L185.5,283.7L182.1,282.3L178.7,280.8L175.2,279.4L171.8,278.3L168.4,277.6L164.9,277.2L161.5,276.8L158.1,276.5L154.6,276.1L151.2,275.9L147.7,275.7L144.3,275.5L140.9,275.4L137.4,275.4L134.0,275.6L130.6,275.8L127.1,276.1L123.7,276.5L120.2,276.9L116.8,277.3L113.4,277.9L109.9,278.4L106.5,279.0L103.1,279.6L99.6,280.2L96.2,280.7L92.7,281.2L89.3,281.6L85.9,281.9L82.4,282.2L79.0,282.3L75.6,282.4L72.1,282.4L68.7,282.4L65.2,282.4L61.8,282.5L58.4,282.5L54.9,282.6L51.5,282.6Z" fill="#304ca7"/>
<path d="M51.5,280.4L54.9,280.5L58.4,280.5L61.8,280.6L65.2,280.6L68.7,280.7L72.1,280.8L75.6,280.9L79.0,281.0L82.4,281.0L85.9,280.7L89.3,280.4L92.7,280.0L96.2,279.4L99.6,278.7L103.1,278.0L106.5,277.2L109.9,276.4L113.4,275.7L116.8,274.9L120.2,274.3L123.7,273.7L127.1,273.2L130.6,272.8L134.0,272.5L137.4,272.4L140.9,272.4L144.3,272.5L147.7,272.7L151.2,273.0L154.6,273.3L158.1,273.8L161.5,274.3L164.9,275.1L168.4,276.2L171.8,277.9L175.2,279.9L178.7,282.2L182.1,284.6L185.5,287.0L189.0,289.4L192.4,291.4L195.9,292.9L199.3,294.0L202.7,294.6L206.2,294.6L209.6,294.0L213.0,293.0L216.5,291.7L219.9,290.0L223.4,288.1L226.8,286.1L230.2,284.6L233.7,283.4L237.1,282.4L240.5,281.3L244.0,280.3L247.4,279.7L250.9,279.5L254.3,279.5L257.7,279.6L261.2,280.0L264.6,280.6L268.0,281.3L271.5,282.2L274.9,283.1L278.4,284.1L281.8,285.2L285.2,286.4L288.7,287.8L292.1,288.9L292.1,288.9L288.7,287.7L285.2,286.3L281.8,285.0L278.4,283.9L274.9,282.9L271.5,281.9L268.0,280.9L264.6,280.1L261.2,279.5L257.7,278.9L254.3,278.6L250.9,278.4L247.4,278.4L244.0,278.7L240.5,279.3L237.1,280.1L233.7,280.7L230.2,281.3L226.8,282.4L223.4,283.8L219.9,285.2L216.5,286.4L213.0,287.3L209.6,288.1L206.2,288.6L202.7,288.7L199.3,288.4L195.9,287.9L192.4,287.1L189.0,285.9L185.5,284.3L182.1,282.7L178.7,281.1L175.2,279.5L171.8,278.2L168.4,277.3L164.9,276.8L161.5,276.3L158.1,275.9L154.6,275.6L151.2,275.3L147.7,275.1L144.3,274.9L140.9,274.8L137.4,274.8L134.0,275.0L130.6,275.2L127.1,275.5L123.7,275.9L120.2,276.3L116.8,276.8L113.4,277.4L109.9,278.0L106.5,278.7L103.1,279.3L99.6,279.9L96.2,280.5L92.7,281.0L89.3,281.3L85.9,281.7L82.4,281.9L79.0,282.0L75.6,282.1L72.1,282.1L68.7,282.1L65.2,282.1L61.8,282.1L58.4,282.1L54.9,282.2L51.5,282.2Z" fill="#3144a3"/>
<path d="M51.5,280.4L54.9,280.5L58.4,280.5L61.8,280.6L65.2,280.6L68.7,280.7L72.1,280.8L75.6,280.9L79.0,281.0L82.4,281.0L85.9,280.7L89.3,280.4L92.7,280.0L96.2,279.4L99.6,278.7L103.1,278.0L106.5,277.2L109.9,276.4L113.4,275.7L116.8,274.9L120.2,274.3L123.7,273.7L127.1,273.2L130.6,272.8L134.0,272.5L137.4,272.4L140.9,272.4L144.3,272.5L147.7,272.7L151.2,273.0L154.6,273.3L158.1,273.8L161.5,274.3L164.9,275.1L168.4,276.2L171.8,277.9L175.2,279.9L178.7,282.2L182.1,284.6L185.5,287.0L189.0,289.4L192.4,291.4L195.9,292.9L199.3,294.0L202.7,294.6L206.2,294.6L209.6,294.0L213.0,293.0L216.5,291.7L219.9,290.0L223.4,288.1L226.8,286.1L230.2,284.6L233.7,283.4L237.1,282.4L240.5,281.3L244.0,280.3L247.4,279.7L250.9,279.5L254.3,279.5L257.7,279.6L261.2,280.0L264.6,280.6L268.0,281.3L271.5,282.2L274.9,283.1L278.4,284.1L281.8,285.2L285.2,286.4L288.7,287.8L292.1,288.9L292.1,288.9L288.7,287.7L285.2,286.3L281.8,285.1L278.4,284.0L274.9,283.0L271.5,282.0L268.0,281.0L264.6,280.2L261.2,279.6L257.7,279.1L254.3,278.8L250.9,278.7L247.4,278.7L244.0,279.1L240.5,279.8L237.1,280.6L233.7,281.4L230.2,282.1L226.8,283.3L223.4,284.9L219.9,286.4L216.5,287.7L213.0,288.7L209.6,289.6L206.2,290.1L202.7,290.2L199.3,289.8L195.9,289.2L192.4,288.2L189.0,286.8L185.5,285.0L182.1,283.2L178.7,281.4L175.2,279.6L171.8,278.1L168.4,277.1L164.9,276.4L161.5,275.8L158.1,275.4L154.6,275.0L151.2,274.7L147.7,274.5L144.3,274.3L140.9,274.2L137.4,274.2L134.0,274.4L130.6,274.6L127.1,275.0L123.7,275.4L120.2,275.8L116.8,276.4L113.4,277.0L109.9,277.6L106.5,278.3L103.1,278.9L99.6,279.6L96.2,280.2L92.7,280.7L89.3,281.1L85.9,281.4L82.4,281.7L79.0,281.8L75.6,281.8L72.1,281.8L68.7,281.7L65.2,281.7L61.8,281.7L58.4,281.7L54.9,281.7L51.5,281.8Z" fill="#363b9f"/>
<path d="M51.5,280.4L54.9,280.5L58.4,280.5L61.8,280.6L65.2,280.6L68.7,280.7L72.1,280.8L75.6,280.9L79.0,281.0L82.4,281.0L85.9,280.7L89.3,280.4L92.7,280.0L96.2,279.4L99.6,278.7L103.1,278.0L106.5,277.2L109.9,276.4L113.4,275.7L116.8,274.9L120.2,274.3L123.7,273.7L127.1,273.2L130.6,272.8L134.0,272.5L137.4,272.4L140.9,272.4L144.3,272.5L147.7,272.7L151.2,273.0L154.6,273.3L158.1,273.8L161.5,274.3L164.9,275.1L168.4,276.2L171.8,277.9L175.2,279.9L178.7,282.2L182.1,284.6L185.5,287.0L189.0,289.4L192.4,291.4L195.9,292.9L199.3,294.0L202.7,294.6L206.2,294.6L209.6,294.0L213.0,293.0L216.5,291.7L219.9,290.0L223.4,288.1L226.8,286.1L230.2,284.6L233.7,283.4L237.1,282.4L240.5,281.3L244.0,280.3L247.4,279.7L250.9,279.5L254.3,279.5L257.7,279.6L261.2,280.0L264.6,280.6L268.0,281.3L271.5,282.2L274.9,283.1L278.4,284.1L281.8,285.2L285.2,286.4L288.7,287.8L292.1,288.9L292.1,288.9L288.7,287.7L285.2,286.3L281.8,285.1L278.4,284.0L274.9,283.0L271.5,282.0L268.0,281.1L264.6,280.3L261.2,279.7L257.7,279.3L254.3,279.0L250.9,278.9L247.4,279.1L244.0,279.5L240.5,280.3L237.1,281.2L233.7,282.1L230.2,282.9L226.8,284.2L223.4,285.9L219.9,287.6L216.5,289.0L213.0,290.1L209.6,291.1L206.2,291.6L202.7,291.6L199.3,291.2L195.9,290.4L192.4,289.3L189.0,287.6L185.5,285.7L182.1,283.7L178.7,281.7L175.2,279.7L171.8,278.1L168.4,276.8L164.9,275.9L161.5,275.3L158.1,274.8L154.6,274.4L151.2,274.1L147.7,273.9L144.3,273.7L140.9,273.6L137.4,273.6L134.0,273.7L130.6,274.0L127.1,274.4L123.7,274.8L120.2,275.3L116.8,275.9L113.4,276.6L109.9,277.2L106.5,277.9L103.1,278.6L99.6,279.3L96.2,280.0L92.7,280.5L89.3,280.9L85.9,281.2L82.4,281.4L79.0,281.5L75.6,281.5L72.1,281.4L68.7,281.4L65.2,281.3L61.8,281.3L58.4,281.3L54.9,281.3L51.5,281.3Z" fill="#3b349c"/>
<path d="M51.5,280.4L54.9,280.5L58.4,280.5L61.8,280.6L65.2,280.6L68.7,280.7L72.1,280.8L75.6,280.9L79.0,281.0L82.4,281.0L85.9,280.7L89.3,280.4L92.7,280.0L96.2,279.4L99.6,278.7L103.1,278.0L106.5,277.2L109.9,276.4L113.4,275.7L116.8,274.9L120.2,274.3L123.7,273.7L127.1,273.2L130.6,272.8L134.0,272.5L137.4,272.4L140.9,272.4L144.3,272.5L147.7,272.7L151.2,273.0L154.6,273.3L158.1,273.8L161.5,274.3L164.9,275.1L168.4,276.2L171.8,277.9L175.2,279.9L178.7,282.2L182.1,284.6L185.5,287.0L189.0,289.4L192.4,291.4L195.9,292.9L199.3,294.0L202.7,294.6L206.2,294.6L209.6,294.0L213.0,293.0L216.5,291.7L219.9,290.0L223.4,288.1L226.8,286.1L230.2,284.6L233.7,283.4L237.1,282.4L240.5,281.3L244.0,280.3L247.4,279.7L250.9,279.5L254.3,279.5L257.7,279.6L261.2,280.0L264.6,280.6L268.0,281.3L271.5,282.2L274.9,283.1L278.4,284.1L281.8,285.2L285.2,286.4L288.7,287.8L292.1,288.9L292.1,288.9L288.7,287.7L285.2,286.4L281.8,285.1L278.4,284.1L274.9,283.1L271.5,282.1L268.0,281.2L264.6,280.4L261.2,279.9L257.7,279.5L254.3,279.2L250.9,279.2L247.4,279.4L244.0,279.9L240.5,280.8L237.1,281.8L233.7,282.7L230.2,283.7L226.8,285.2L223.4,287.0L219.9,288.8L216.5,290.4L213.0,291.6L209.6,292.5L206.2,293.1L202.7,293.1L199.3,292.6L195.9,291.7L192.4,290.3L189.0,288.5L185.5,286.3L182.1,284.2L178.7,281.9L175.2,279.8L171.8,278.0L168.4,276.5L164.9,275.5L161.5,274.8L158.1,274.3L154.6,273.9L151.2,273.6L147.7,273.3L144.3,273.1L140.9,273.0L137.4,273.0L134.0,273.1L130.6,273.4L127.1,273.8L123.7,274.3L120.2,274.8L116.8,275.4L113.4,276.1L109.9,276.8L106.5,277.6L103.1,278.3L99.6,279.0L96.2,279.7L92.7,280.2L89.3,280.6L85.9,281.0L82.4,281.2L79.0,281.3L75.6,281.2L72.1,281.1L68.7,281.1L65.2,281.0L61.8,280.9L58.4,280.9L54.9,280.9L51.5,280.9Z" fill="#402c98"/>
<path d="M51.5,280.4L54.9,280.5L58.4,280.5L61.8,280.6L65.2,280.6L68.7,280.7L72.1,280.8L75.6,280.9L79.0,281.0L82.4,281.0L85.9,280.7L89.3,280.4L92.7,280.0L96.2,279.4L99.6,278.7L103.1,278.0L106.5,277.2L109.9,276.4L113.4,275.7L116.8,274.9L120.2,274.3L123.7,273.7L127.1,273.2L130.6,272.8L134.0,272.5L137.4,272.4L140.9,272.4L144.3,272.5L147.7,272.7L151.2,273.0L154.6,273.3L158.1,273.8L161.5,274.3L164.9,275.1L168.4,276.2L171.8,277.9L175.2,279.9L178.7,282.2L182.1,284.6L185.5,287.0L189.0,289.4L192.4,291.4L195.9,292.9L199.3,294.0L202.7,294.6L206.2,294.6L209.6,294.0L213.0,293.0L216.5,291.7L219.9,290.0L223.4,288.1L226.8,286.1L230.2,284.6L233.7,283.4L237.1,282.4L240.5,281.3L244.0,280.3L247.4,279.7L250.9,279.5L254.3,279.5L257.7,279.6L261.2,280.0L264.6,280.6L268.0,281.3L271.5,282.2L274.9,283.1L278.4,284.1L281.8,285.2L285.2,286.4L288.7,287.8L292.1,288.9" fill="none" stroke="#422896" stroke-width="1"/>
<path d="M51.5,301.7L54.9,300.9L58.4,299.9L61.8,298.9L65.2,297.8L68.7,296.8L72.1,295.8L75.6,294.7L79.0,293.5L82.4,292.5L85.9,291.8L89.3,291.4L92.7,291.5L96.2,292.0L99.6,292.7L103.1,293.7L106.5,294.6L109.9,295.6L113.4,296.7L116.8,297.9L120.2,299.0L123.7,300.1L127.1,300.9L130.6,301.3L134.0,301.5L137.4,301.6L140.9,301.6L144.3,301.4L147.7,301.1L151.2,300.7L154.6,300.3L158.1,299.7L161.5,298.5L164.9,295.7L168.4,289.5L171.8,281.8L175.2,274.9L178.7,268.6L182.1,262.0L185.5,255.0L189.0,247.5L192.4,239.9L195.9,233.0L199.3,227.8L202.7,224.4L206.2,222.8L209.6,222.7L213.0,224.5L216.5,227.8L219.9,232.2L223.4,237.0L226.8,241.3L230.2,245.6L233.7,250.2L237.1,254.3L240.5,257.8L244.0,260.9L247.4,263.7L250.9,266.5L254.3,269.0L257.7,271.2L261.2,273.3L264.6,275.2L268.0,277.0L271.5,278.7L274.9,280.3L278.4,281.9L281.8,283.5L285.2,285.2L288.7,286.8L292.1,288.1" fill="none" stroke="#f2e428" stroke-width="1"/>
<path d="M51.5,285.3L54.9,285.1L58.4,284.9L61.8,284.7L65.2,284.5L68.7,284.4L72.1,284.2L75.6,284.1L79.0,283.8L82.4,283.6L85.9,283.2L89.3,282.9L92.7,282.6L96.2,282.3L99.6,281.9L103.1,281.5L106.5,281.2L109.9,280.8L113.4,280.4L116.8,280.1L120.2,279.9L123.7,279.7L127.1,279.5L130.6,279.3L134.0,279.1L137.4,279.0L140.9,279.0L144.3,279.1L147.7,279.2L151.2,279.3L154.6,279.4L158.1,279.6L161.5,279.8L164.9,279.7L168.4,279.3L171.8,278.8L175.2,278.8L178.7,279.1L182.1,279.5L185.5,279.8L189.0,279.9L192.4,279.7L195.9,279.3L199.3,278.9L202.7,278.6L206.2,278.3L209.6,277.8L213.0,277.4L216.5,277.2L219.9,276.9L223.4,276.5L226.8,275.9L230.2,275.7L233.7,275.9L237.1,276.0L240.5,275.9L244.0,275.9L247.4,276.1L250.9,276.5L254.3,277.1L257.7,277.7L261.2,278.5L264.6,279.3L268.0,280.3L271.5,281.4L274.9,282.5L278.4,283.6L281.8,284.8L285.2,286.1L288.7,287.5L292.1,288.7" fill="none" stroke="#d9262b" stroke-width="1.5"/>
<path d="M51.5,202.0 L51.5,322.1 L292.1,322.1" fill="none" stroke="#262626" stroke-width="1.3"/>
<line x1="61.81" y1="322.1" x2="61.81" y2="325.1" stroke="#262626" stroke-width="1.1"/>
<text x="0" y="0" font-family="'Liberation Serif', serif" font-size="9.5" font-weight="normal" text-anchor="middle" fill="#262626" transform="translate(61.81 336.40000000000003) scale(0.92 1)">620</text>
<line x1="96.18" y1="322.1" x2="96.18" y2="325.1" stroke="#262626" stroke-width="1.1"/>
<text x="0" y="0" font-family="'Liberation Serif', serif" font-size="9.5" font-weight="normal" text-anchor="middle" fill="#262626" transform="translate(96.18 336.40000000000003) scale(0.92 1)">640</text>
<line x1="130.55" y1="322.1" x2="130.55" y2="325.1" stroke="#262626" stroke-width="1.1"/>
<text x="0" y="0" font-family="'Liberation Serif', serif" font-size="9.5" font-weight="normal" text-anchor="middle" fill="#262626" transform="translate(130.55 336.40000000000003) scale(0.92 1)">660</text>
<line x1="164.93" y1="322.1" x2="164.93" y2="325.1" stroke="#262626" stroke-width="1.1"/>
<text x="0" y="0" font-family="'Liberation Serif', serif" font-size="9.5" font-weight="normal" text-anchor="middle" fill="#262626" transform="translate(164.93 336.40000000000003) scale(0.92 1)">680</text>
<line x1="199.30" y1="322.1" x2="199.30" y2="325.1" stroke="#262626" stroke-width="1.1"/>
<text x="0" y="0" font-family="'Liberation Serif', serif" font-size="9.5" font-weight="normal" text-anchor="middle" fill="#262626" transform="translate(199.3 336.40000000000003) scale(0.92 1)">700</text>
<line x1="233.67" y1="322.1" x2="233.67" y2="325.1" stroke="#262626" stroke-width="1.1"/>
<text x="0" y="0" font-family="'Liberation Serif', serif" font-size="9.5" font-weight="normal" text-anchor="middle" fill="#262626" transform="translate(233.67 336.40000000000003) scale(0.92 1)">720</text>
<line x1="268.04" y1="322.1" x2="268.04" y2="325.1" stroke="#262626" stroke-width="1.1"/>
<text x="0" y="0" font-family="'Liberation Serif', serif" font-size="9.5" font-weight="normal" text-anchor="middle" fill="#262626" transform="translate(268.04 336.40000000000003) scale(0.92 1)">740</text>
<line x1="48.5" y1="310.26" x2="51.5" y2="310.26" stroke="#262626" stroke-width="1.1"/>
<text x="0" y="0" font-family="'Liberation Serif', serif" font-size="9.5" font-weight="normal" text-anchor="end" fill="#262626" transform="translate(46.3 313.56) scale(0.92 1)">-0.01</text>
<line x1="48.5" y1="290.10" x2="51.5" y2="290.10" stroke="#262626" stroke-width="1.1"/>
<text x="0" y="0" font-family="'Liberation Serif', serif" font-size="9.5" font-weight="normal" text-anchor="end" fill="#262626" transform="translate(46.3 293.4) scale(0.92 1)">0</text>
<line x1="48.5" y1="269.94" x2="51.5" y2="269.94" stroke="#262626" stroke-width="1.1"/>
<text x="0" y="0" font-family="'Liberation Serif', serif" font-size="9.5" font-weight="normal" text-anchor="end" fill="#262626" transform="translate(46.3 273.24) scale(0.92 1)">0.01</text>
<line x1="48.5" y1="249.78" x2="51.5" y2="249.78" stroke="#262626" stroke-width="1.1"/>
<text x="0" y="0" font-family="'Liberation Serif', serif" font-size="9.5" font-weight="normal" text-anchor="end" fill="#262626" transform="translate(46.3 253.08) scale(0.92 1)">0.02</text>
<line x1="48.5" y1="229.62" x2="51.5" y2="229.62" stroke="#262626" stroke-width="1.1"/>
<text x="0" y="0" font-family="'Liberation Serif', serif" font-size="9.5" font-weight="normal" text-anchor="end" fill="#262626" transform="translate(46.3 232.92) scale(0.92 1)">0.03</text>
<line x1="48.5" y1="209.46" x2="51.5" y2="209.46" stroke="#262626" stroke-width="1.1"/>
<text x="0" y="0" font-family="'Liberation Serif', serif" font-size="9.5" font-weight="normal" text-anchor="end" fill="#262626" transform="translate(46.3 212.76) scale(0.92 1)">0.04</text>
<text x="171.8" y="347.2" font-family="'Liberation Serif', serif" font-size="9.7" font-weight="bold" text-anchor="middle" fill="#111">Wavelength (nm)</text>
<text x="24.0" y="262.6" font-family="'Liberation Serif', serif" font-size="9.5" font-weight="bold" text-anchor="middle" fill="#111" transform="rotate(-90 24.0 262.6)">Derivative spectra</text>
<defs><linearGradient id="g298" x1="0" y1="0" x2="0" y2="1"><stop offset="0.0000" stop-color="#f2e428"/><stop offset="0.0312" stop-color="#f4e223"/><stop offset="0.0625" stop-color="#f5e01d"/><stop offset="0.0938" stop-color="#f8d712"/><stop offset="0.1250" stop-color="#facc14"/><stop offset="0.1562" stop-color="#fac124"/><stop offset="0.1875" stop-color="#f7b536"/><stop offset="0.2188" stop-color="#edb146"/><stop offset="0.2500" stop-color="#d9b451"/><stop offset="0.2812" stop-color="#c2b75d"/><stop offset="0.3125" stop-color="#abb968"/><stop offset="0.3438" stop-color="#8fbc71"/><stop offset="0.3750" stop-color="#71be79"/><stop offset="0.4062" stop-color="#47be80"/><stop offset="0.4375" stop-color="#2abb89"/><stop offset="0.4688" stop-color="#1fb693"/><stop offset="0.5000" stop-color="#1eb09e"/><stop offset="0.5312" stop-color="#1cabad"/><stop offset="0.5625" stop-color="#19a6bb"/><stop offset="0.5938" stop-color="#19a3c2"/><stop offset="0.6250" stop-color="#19a0c8"/><stop offset="0.6562" stop-color="#1f9acb"/><stop offset="0.6875" stop-color="#2593cb"/><stop offset="0.7188" stop-color="#2c88c4"/><stop offset="0.7500" stop-color="#347dbc"/><stop offset="0.7812" stop-color="#3274b8"/><stop offset="0.8125" stop-color="#306bb4"/><stop offset="0.8438" stop-color="#2f63b0"/><stop offset="0.8750" stop-color="#2d5aac"/><stop offset="0.9062" stop-color="#304ca7"/><stop offset="0.9375" stop-color="#333fa1"/><stop offset="0.9688" stop-color="#3b349c"/><stop offset="1.0000" stop-color="#422896"/></linearGradient></defs>
<rect x="298.4" y="202.5" width="13.40" height="119.60" fill="url(#g298)"/>
<rect x="298.4" y="202.5" width="13.40" height="119.60" fill="none" stroke="#262626" stroke-width="1"/>
<line x1="311.8" y1="322.10" x2="314.3" y2="322.10" stroke="#262626" stroke-width="1"/>
<text x="316.0" y="325.1" font-family="'Liberation Serif', serif" font-size="8.7" font-weight="normal" text-anchor="start" fill="#262626">0</text>
<line x1="311.8" y1="298.18" x2="314.3" y2="298.18" stroke="#262626" stroke-width="1"/>
<text x="316.0" y="301.18" font-family="'Liberation Serif', serif" font-size="8.7" font-weight="normal" text-anchor="start" fill="#262626">0.2</text>
<line x1="311.8" y1="274.26" x2="314.3" y2="274.26" stroke="#262626" stroke-width="1"/>
<text x="316.0" y="277.26" font-family="'Liberation Serif', serif" font-size="8.7" font-weight="normal" text-anchor="start" fill="#262626">0.4</text>
<line x1="311.8" y1="250.34" x2="314.3" y2="250.34" stroke="#262626" stroke-width="1"/>
<text x="316.0" y="253.34" font-family="'Liberation Serif', serif" font-size="8.7" font-weight="normal" text-anchor="start" fill="#262626">0.6</text>
<line x1="311.8" y1="226.42" x2="314.3" y2="226.42" stroke="#262626" stroke-width="1"/>
<text x="316.0" y="229.42" font-family="'Liberation Serif', serif" font-size="8.7" font-weight="normal" text-anchor="start" fill="#262626">0.8</text>
<line x1="311.8" y1="202.50" x2="314.3" y2="202.50" stroke="#262626" stroke-width="1"/>
<text x="316.0" y="205.5" font-family="'Liberation Serif', serif" font-size="8.7" font-weight="normal" text-anchor="start" fill="#262626">1</text>
<text x="337.0" y="262.3" font-family="'Liberation Serif', serif" font-size="8.7" font-weight="normal" text-anchor="middle" fill="#262626" transform="rotate(-90 337.0 262.3)">Pr-enriched fraction subtracted</text>
<text x="137.3" y="263.2" font-family="'Liberation Sans', sans-serif" font-size="9.3" font-weight="normal" text-anchor="middle" fill="#1a1a1a">664 nm</text>
<text x="206.0" y="309.3" font-family="'Liberation Sans', sans-serif" font-size="9.3" font-weight="normal" text-anchor="middle" fill="#1a1a1a">704 nm</text>
<line x1="137.4" y1="266" x2="137.4" y2="270" stroke="#e02020" stroke-width="1.4" stroke-dasharray="1.5,1.2"/>
<path d="M135.7,270.1 L139.1,270.1 L137.4,278 Z" fill="#e02020" stroke="#3a1a1a" stroke-width="0.5"/>
<line x1="206.2" y1="300.7" x2="206.2" y2="287.5" stroke="#e02020" stroke-width="1.4" stroke-dasharray="2.2,1.8"/>
<path d="M204.3,287.5 L208.1,287.5 L206.2,279.4 Z" fill="#e02020" stroke="#3a1a1a" stroke-width="0.5"/>
<path d="M398.6,292.2L401.9,292.2L405.3,292.2L408.6,292.3L412.0,292.3L415.3,292.3L418.6,292.4L422.0,292.4L425.3,292.4L428.7,292.5L432.0,292.5L435.4,292.5L438.7,292.6L442.0,292.6L445.4,292.6L448.7,292.6L452.1,292.7L455.4,292.7L458.7,292.7L462.1,292.7L465.4,292.8L468.8,292.8L472.1,292.8L475.5,292.9L478.8,292.9L482.1,292.9L485.5,292.9L488.8,293.0L492.2,293.0L495.5,293.0L498.8,293.0L502.2,293.0L505.5,293.0L508.9,293.0L512.2,293.0L515.5,293.0L518.9,293.0L522.2,293.0L525.6,293.0L528.9,293.0L532.3,292.9L535.6,292.9L538.9,292.9L542.3,292.9L545.6,292.9L549.0,292.8L552.3,292.8L555.6,292.8L559.0,292.7L562.3,292.7L565.7,292.6L569.0,292.5L572.4,292.4L575.7,292.3L579.0,292.2L582.4,292.1L585.7,292.0L589.1,291.9L592.4,291.7L595.7,291.6L599.1,291.4L602.4,291.3L605.8,291.1L609.1,290.9L612.5,290.8L615.8,290.6L619.1,290.4L622.5,290.2L625.8,290.0L629.2,289.9L632.5,289.8L632.5,272.7L629.2,272.2L625.8,271.6L622.5,270.9L619.1,269.9L615.8,268.8L612.5,267.5L609.1,266.1L605.8,264.6L602.4,262.9L599.1,261.3L595.7,259.6L592.4,257.9L589.1,256.3L585.7,254.8L582.4,253.3L579.0,251.8L575.7,250.3L572.4,248.8L569.0,247.2L565.7,245.6L562.3,244.0L559.0,242.4L555.6,240.8L552.3,239.2L549.0,237.6L545.6,236.2L542.3,234.9L538.9,233.7L535.6,232.7L532.3,231.9L528.9,231.3L525.6,230.8L522.2,230.5L518.9,230.4L515.5,230.5L512.2,230.7L508.9,231.1L505.5,231.7L502.2,232.5L498.8,233.4L495.5,234.6L492.2,236.0L488.8,237.5L485.5,239.2L482.1,241.0L478.8,242.8L475.5,244.8L472.1,246.8L468.8,248.8L465.4,250.9L462.1,252.9L458.7,255.0L455.4,257.2L452.1,259.3L448.7,261.6L445.4,263.9L442.0,266.3L438.7,268.7L435.4,271.2L432.0,273.7L428.7,276.2L425.3,278.6L422.0,280.9L418.6,283.1L415.3,285.1L412.0,286.8L408.6,288.3L405.3,289.6L401.9,290.6L398.6,291.2Z" fill="#f3e326"/>
<path d="M398.6,292.2L401.9,292.2L405.3,292.2L408.6,292.3L412.0,292.3L415.3,292.3L418.6,292.4L422.0,292.4L425.3,292.4L428.7,292.5L432.0,292.5L435.4,292.5L438.7,292.6L442.0,292.6L445.4,292.6L448.7,292.6L452.1,292.7L455.4,292.7L458.7,292.7L462.1,292.7L465.4,292.8L468.8,292.8L472.1,292.8L475.5,292.9L478.8,292.9L482.1,292.9L485.5,292.9L488.8,293.0L492.2,293.0L495.5,293.0L498.8,293.0L502.2,293.0L505.5,293.0L508.9,293.0L512.2,293.0L515.5,293.0L518.9,293.0L522.2,293.0L525.6,293.0L528.9,293.0L532.3,292.9L535.6,292.9L538.9,292.9L542.3,292.9L545.6,292.9L549.0,292.8L552.3,292.8L555.6,292.8L559.0,292.7L562.3,292.7L565.7,292.6L569.0,292.5L572.4,292.4L575.7,292.3L579.0,292.2L582.4,292.1L585.7,292.0L589.1,291.9L592.4,291.7L595.7,291.6L599.1,291.4L602.4,291.3L605.8,291.1L609.1,290.9L612.5,290.8L615.8,290.6L619.1,290.4L622.5,290.2L625.8,290.0L629.2,289.9L632.5,289.8L632.5,273.0L629.2,272.6L625.8,272.0L622.5,271.3L619.1,270.3L615.8,269.3L612.5,268.0L609.1,266.6L605.8,265.1L602.4,263.5L599.1,261.9L595.7,260.2L592.4,258.6L589.1,257.1L585.7,255.6L582.4,254.1L579.0,252.7L575.7,251.2L572.4,249.7L569.0,248.2L565.7,246.6L562.3,245.0L559.0,243.4L555.6,241.8L552.3,240.3L549.0,238.8L545.6,237.4L542.3,236.1L538.9,235.0L535.6,234.0L532.3,233.2L528.9,232.6L525.6,232.1L522.2,231.8L518.9,231.7L515.5,231.8L512.2,232.0L508.9,232.4L505.5,233.0L502.2,233.7L498.8,234.7L495.5,235.8L492.2,237.2L488.8,238.7L485.5,240.3L482.1,242.0L478.8,243.9L475.5,245.8L472.1,247.7L468.8,249.7L465.4,251.7L462.1,253.8L458.7,255.8L455.4,257.9L452.1,260.0L448.7,262.2L445.4,264.5L442.0,266.8L438.7,269.2L435.4,271.6L432.0,274.1L428.7,276.5L425.3,278.9L422.0,281.2L418.6,283.3L415.3,285.2L412.0,286.9L408.6,288.4L405.3,289.6L401.9,290.6L398.6,291.3Z" fill="#f4e223"/>
<path d="M398.6,292.2L401.9,292.2L405.3,292.2L408.6,292.3L412.0,292.3L415.3,292.3L418.6,292.4L422.0,292.4L425.3,292.4L428.7,292.5L432.0,292.5L435.4,292.5L438.7,292.6L442.0,292.6L445.4,292.6L448.7,292.6L452.1,292.7L455.4,292.7L458.7,292.7L462.1,292.7L465.4,292.8L468.8,292.8L472.1,292.8L475.5,292.9L478.8,292.9L482.1,292.9L485.5,292.9L488.8,293.0L492.2,293.0L495.5,293.0L498.8,293.0L502.2,293.0L505.5,293.0L508.9,293.0L512.2,293.0L515.5,293.0L518.9,293.0L522.2,293.0L525.6,293.0L528.9,293.0L532.3,292.9L535.6,292.9L538.9,292.9L542.3,292.9L545.6,292.9L549.0,292.8L552.3,292.8L555.6,292.8L559.0,292.7L562.3,292.7L565.7,292.6L569.0,292.5L572.4,292.4L575.7,292.3L579.0,292.2L582.4,292.1L585.7,292.0L589.1,291.9L592.4,291.7L595.7,291.6L599.1,291.4L602.4,291.3L605.8,291.1L609.1,290.9L612.5,290.8L615.8,290.6L619.1,290.4L622.5,290.2L625.8,290.0L629.2,289.9L632.5,289.8L632.5,273.4L629.2,273.0L625.8,272.4L622.5,271.7L619.1,270.8L615.8,269.7L612.5,268.5L609.1,267.1L605.8,265.7L602.4,264.1L599.1,262.5L595.7,260.9L592.4,259.3L589.1,257.8L585.7,256.4L582.4,254.9L579.0,253.5L575.7,252.1L572.4,250.6L569.0,249.1L565.7,247.6L562.3,246.0L559.0,244.5L555.6,242.9L552.3,241.4L549.0,239.9L545.6,238.6L542.3,237.3L538.9,236.2L535.6,235.2L532.3,234.5L528.9,233.8L525.6,233.4L522.2,233.1L518.9,233.0L515.5,233.1L512.2,233.3L508.9,233.7L505.5,234.2L502.2,235.0L498.8,235.9L495.5,237.1L492.2,238.4L488.8,239.8L485.5,241.4L482.1,243.1L478.8,244.9L475.5,246.8L472.1,248.7L468.8,250.6L465.4,252.6L462.1,254.6L458.7,256.6L455.4,258.7L452.1,260.7L448.7,262.9L445.4,265.1L442.0,267.4L438.7,269.7L435.4,272.1L432.0,274.5L428.7,276.9L425.3,279.2L422.0,281.4L418.6,283.5L415.3,285.4L412.0,287.1L408.6,288.5L405.3,289.7L401.9,290.6L398.6,291.3Z" fill="#f5e11f"/>
<path d="M398.6,292.2L401.9,292.2L405.3,292.2L408.6,292.3L412.0,292.3L415.3,292.3L418.6,292.4L422.0,292.4L425.3,292.4L428.7,292.5L432.0,292.5L435.4,292.5L438.7,292.6L442.0,292.6L445.4,292.6L448.7,292.6L452.1,292.7L455.4,292.7L458.7,292.7L462.1,292.7L465.4,292.8L468.8,292.8L472.1,292.8L475.5,292.9L478.8,292.9L482.1,292.9L485.5,292.9L488.8,293.0L492.2,293.0L495.5,293.0L498.8,293.0L502.2,293.0L505.5,293.0L508.9,293.0L512.2,293.0L515.5,293.0L518.9,293.0L522.2,293.0L525.6,293.0L528.9,293.0L532.3,292.9L535.6,292.9L538.9,292.9L542.3,292.9L545.6,292.9L549.0,292.8L552.3,292.8L555.6,292.8L559.0,292.7L562.3,292.7L565.7,292.6L569.0,292.5L572.4,292.4L575.7,292.3L579.0,292.2L582.4,292.1L585.7,292.0L589.1,291.9L592.4,291.7L595.7,291.6L599.1,291.4L602.4,291.3L605.8,291.1L609.1,290.9L612.5,290.8L615.8,290.6L619.1,290.4L622.5,290.2L625.8,290.0L629.2,289.9L632.5,289.8L632.5,273.7L629.2,273.3L625.8,272.8L622.5,272.1L619.1,271.2L615.8,270.2L612.5,269.0L609.1,267.7L605.8,266.2L602.4,264.7L599.1,263.1L595.7,261.6L592.4,260.0L589.1,258.6L585.7,257.1L582.4,255.7L579.0,254.3L575.7,253.0L572.4,251.5L569.0,250.1L565.7,248.6L562.3,247.1L559.0,245.5L555.6,244.0L552.3,242.5L549.0,241.1L545.6,239.8L542.3,238.5L538.9,237.4L535.6,236.5L532.3,235.7L528.9,235.1L525.6,234.7L522.2,234.4L518.9,234.3L515.5,234.4L512.2,234.6L508.9,235.0L505.5,235.5L502.2,236.3L498.8,237.2L495.5,238.3L492.2,239.6L488.8,241.0L485.5,242.5L482.1,244.2L478.8,246.0L475.5,247.8L472.1,249.6L468.8,251.5L465.4,253.5L462.1,255.4L458.7,257.4L455.4,259.4L452.1,261.4L448.7,263.5L445.4,265.7L442.0,267.9L438.7,270.2L435.4,272.5L432.0,274.9L428.7,277.2L425.3,279.5L422.0,281.6L418.6,283.7L415.3,285.5L412.0,287.2L408.6,288.6L405.3,289.8L401.9,290.7L398.6,291.3Z" fill="#f6dd19"/>
<path d="M398.6,292.2L401.9,292.2L405.3,292.2L408.6,292.3L412.0,292.3L415.3,292.3L418.6,292.4L422.0,292.4L425.3,292.4L428.7,292.5L432.0,292.5L435.4,292.5L438.7,292.6L442.0,292.6L445.4,292.6L448.7,292.6L452.1,292.7L455.4,292.7L458.7,292.7L462.1,292.7L465.4,292.8L468.8,292.8L472.1,292.8L475.5,292.9L478.8,292.9L482.1,292.9L485.5,292.9L488.8,293.0L492.2,293.0L495.5,293.0L498.8,293.0L502.2,293.0L505.5,293.0L508.9,293.0L512.2,293.0L515.5,293.0L518.9,293.0L522.2,293.0L525.6,293.0L528.9,293.0L532.3,292.9L535.6,292.9L538.9,292.9L542.3,292.9L545.6,292.9L549.0,292.8L552.3,292.8L555.6,292.8L559.0,292.7L562.3,292.7L565.7,292.6L569.0,292.5L572.4,292.4L575.7,292.3L579.0,292.2L582.4,292.1L585.7,292.0L589.1,291.9L592.4,291.7L595.7,291.6L599.1,291.4L602.4,291.3L605.8,291.1L609.1,290.9L612.5,290.8L615.8,290.6L619.1,290.4L622.5,290.2L625.8,290.0L629.2,289.9L632.5,289.8L632.5,274.1L629.2,273.7L625.8,273.2L622.5,272.5L619.1,271.6L615.8,270.6L612.5,269.5L609.1,268.2L605.8,266.8L602.4,265.3L599.1,263.8L595.7,262.2L592.4,260.8L589.1,259.3L585.7,257.9L582.4,256.5L579.0,255.2L575.7,253.8L572.4,252.4L569.0,251.0L565.7,249.6L562.3,248.1L559.0,246.6L555.6,245.1L552.3,243.6L549.0,242.2L545.6,240.9L542.3,239.7L538.9,238.7L535.6,237.8L532.3,237.0L528.9,236.4L525.6,236.0L522.2,235.7L518.9,235.6L515.5,235.7L512.2,235.9L508.9,236.3L505.5,236.8L502.2,237.5L498.8,238.4L495.5,239.5L492.2,240.7L488.8,242.1L485.5,243.7L482.1,245.3L478.8,247.0L475.5,248.8L472.1,250.6L468.8,252.5L465.4,254.3L462.1,256.3L458.7,258.2L455.4,260.1L452.1,262.1L448.7,264.2L445.4,266.3L442.0,268.4L438.7,270.7L435.4,273.0L432.0,275.3L428.7,277.5L425.3,279.8L422.0,281.9L418.6,283.9L415.3,285.7L412.0,287.3L408.6,288.7L405.3,289.8L401.9,290.7L398.6,291.3Z" fill="#f8d712"/>
<path d="M398.6,292.2L401.9,292.2L405.3,292.2L408.6,292.3L412.0,292.3L415.3,292.3L418.6,292.4L422.0,292.4L425.3,292.4L428.7,292.5L432.0,292.5L435.4,292.5L438.7,292.6L442.0,292.6L445.4,292.6L448.7,292.6L452.1,292.7L455.4,292.7L458.7,292.7L462.1,292.7L465.4,292.8L468.8,292.8L472.1,292.8L475.5,292.9L478.8,292.9L482.1,292.9L485.5,292.9L488.8,293.0L492.2,293.0L495.5,293.0L498.8,293.0L502.2,293.0L505.5,293.0L508.9,293.0L512.2,293.0L515.5,293.0L518.9,293.0L522.2,293.0L525.6,293.0L528.9,293.0L532.3,292.9L535.6,292.9L538.9,292.9L542.3,292.9L545.6,292.9L549.0,292.8L552.3,292.8L555.6,292.8L559.0,292.7L562.3,292.7L565.7,292.6L569.0,292.5L572.4,292.4L575.7,292.3L579.0,292.2L582.4,292.1L585.7,292.0L589.1,291.9L592.4,291.7L595.7,291.6L599.1,291.4L602.4,291.3L605.8,291.1L609.1,290.9L612.5,290.8L615.8,290.6L619.1,290.4L622.5,290.2L625.8,290.0L629.2,289.9L632.5,289.8L632.5,274.4L629.2,274.1L625.8,273.5L622.5,272.9L619.1,272.0L615.8,271.1L612.5,270.0L609.1,268.7L605.8,267.3L602.4,265.9L599.1,264.4L595.7,262.9L592.4,261.5L589.1,260.0L585.7,258.7L582.4,257.4L579.0,256.0L575.7,254.7L572.4,253.4L569.0,252.0L565.7,250.5L562.3,249.1L559.0,247.6L555.6,246.2L552.3,244.8L549.0,243.4L545.6,242.1L542.3,240.9L538.9,239.9L535.6,239.0L532.3,238.3L528.9,237.7L525.6,237.3L522.2,237.0L518.9,236.9L515.5,237.0L512.2,237.2L508.9,237.5L505.5,238.1L502.2,238.8L498.8,239.7L495.5,240.7L492.2,241.9L488.8,243.3L485.5,244.8L482.1,246.4L478.8,248.0L475.5,249.8L472.1,251.6L468.8,253.4L465.4,255.2L462.1,257.1L458.7,259.0L455.4,260.9L452.1,262.8L448.7,264.8L445.4,266.9L442.0,269.0L438.7,271.2L435.4,273.4L432.0,275.7L428.7,277.9L425.3,280.1L422.0,282.1L418.6,284.1L415.3,285.8L412.0,287.4L408.6,288.8L405.3,289.9L401.9,290.7L398.6,291.3Z" fill="#fad00e"/>
<path d="M398.6,292.2L401.9,292.2L405.3,292.2L408.6,292.3L412.0,292.3L415.3,292.3L418.6,292.4L422.0,292.4L425.3,292.4L428.7,292.5L432.0,292.5L435.4,292.5L438.7,292.6L442.0,292.6L445.4,292.6L448.7,292.6L452.1,292.7L455.4,292.7L458.7,292.7L462.1,292.7L465.4,292.8L468.8,292.8L472.1,292.8L475.5,292.9L478.8,292.9L482.1,292.9L485.5,292.9L488.8,293.0L492.2,293.0L495.5,293.0L498.8,293.0L502.2,293.0L505.5,293.0L508.9,293.0L512.2,293.0L515.5,293.0L518.9,293.0L522.2,293.0L525.6,293.0L528.9,293.0L532.3,292.9L535.6,292.9L538.9,292.9L542.3,292.9L545.6,292.9L549.0,292.8L552.3,292.8L555.6,292.8L559.0,292.7L562.3,292.7L565.7,292.6L569.0,292.5L572.4,292.4L575.7,292.3L579.0,292.2L582.4,292.1L585.7,292.0L589.1,291.9L592.4,291.7L595.7,291.6L599.1,291.4L602.4,291.3L605.8,291.1L609.1,290.9L612.5,290.8L615.8,290.6L619.1,290.4L622.5,290.2L625.8,290.0L629.2,289.9L632.5,289.8L632.5,274.8L629.2,274.4L625.8,273.9L622.5,273.3L619.1,272.5L615.8,271.5L612.5,270.4L609.1,269.2L605.8,267.9L602.4,266.5L599.1,265.0L595.7,263.6L592.4,262.2L589.1,260.8L585.7,259.5L582.4,258.2L579.0,256.9L575.7,255.6L572.4,254.3L569.0,252.9L565.7,251.5L562.3,250.1L559.0,248.7L555.6,247.3L552.3,245.9L549.0,244.5L545.6,243.3L542.3,242.2L538.9,241.1L535.6,240.3L532.3,239.5L528.9,239.0L525.6,238.6L522.2,238.3L518.9,238.2L515.5,238.3L512.2,238.5L508.9,238.8L505.5,239.4L502.2,240.0L498.8,240.9L495.5,241.9L492.2,243.1L488.8,244.4L485.5,245.9L482.1,247.5L478.8,249.1L475.5,250.8L472.1,252.5L468.8,254.3L465.4,256.1L462.1,257.9L458.7,259.7L455.4,261.6L452.1,263.5L448.7,265.5L445.4,267.5L442.0,269.5L438.7,271.7L435.4,273.9L432.0,276.0L428.7,278.2L425.3,280.3L422.0,282.4L418.6,284.3L415.3,286.0L412.0,287.5L408.6,288.8L405.3,289.9L401.9,290.8L398.6,291.4Z" fill="#fac919"/>
<path d="M398.6,292.2L401.9,292.2L405.3,292.2L408.6,292.3L412.0,292.3L415.3,292.3L418.6,292.4L422.0,292.4L425.3,292.4L428.7,292.5L432.0,292.5L435.4,292.5L438.7,292.6L442.0,292.6L445.4,292.6L448.7,292.6L452.1,292.7L455.4,292.7L458.7,292.7L462.1,292.7L465.4,292.8L468.8,292.8L472.1,292.8L475.5,292.9L478.8,292.9L482.1,292.9L485.5,292.9L488.8,293.0L492.2,293.0L495.5,293.0L498.8,293.0L502.2,293.0L505.5,293.0L508.9,293.0L512.2,293.0L515.5,293.0L518.9,293.0L522.2,293.0L525.6,293.0L528.9,293.0L532.3,292.9L535.6,292.9L538.9,292.9L542.3,292.9L545.6,292.9L549.0,292.8L552.3,292.8L555.6,292.8L559.0,292.7L562.3,292.7L565.7,292.6L569.0,292.5L572.4,292.4L575.7,292.3L579.0,292.2L582.4,292.1L585.7,292.0L589.1,291.9L592.4,291.7L595.7,291.6L599.1,291.4L602.4,291.3L605.8,291.1L609.1,290.9L612.5,290.8L615.8,290.6L619.1,290.4L622.5,290.2L625.8,290.0L629.2,289.9L632.5,289.8L632.5,275.2L629.2,274.8L625.8,274.3L622.5,273.7L619.1,272.9L615.8,272.0L612.5,270.9L609.1,269.7L605.8,268.4L602.4,267.1L599.1,265.7L595.7,264.2L592.4,262.9L589.1,261.5L585.7,260.2L582.4,259.0L579.0,257.7L575.7,256.5L572.4,255.2L569.0,253.8L565.7,252.5L562.3,251.1L559.0,249.7L555.6,248.3L552.3,247.0L549.0,245.7L545.6,244.5L542.3,243.4L538.9,242.4L535.6,241.5L532.3,240.8L528.9,240.3L525.6,239.9L522.2,239.6L518.9,239.6L515.5,239.6L512.2,239.8L508.9,240.1L505.5,240.6L502.2,241.3L498.8,242.1L495.5,243.1L492.2,244.3L488.8,245.6L485.5,247.0L482.1,248.5L478.8,250.1L475.5,251.8L472.1,253.5L468.8,255.2L465.4,257.0L462.1,258.7L458.7,260.5L455.4,262.4L452.1,264.2L448.7,266.1L445.4,268.1L442.0,270.1L438.7,272.2L435.4,274.3L432.0,276.4L428.7,278.6L425.3,280.6L422.0,282.6L418.6,284.4L415.3,286.1L412.0,287.6L408.6,288.9L405.3,290.0L401.9,290.8L398.6,291.4Z" fill="#fac124"/>
<path d="M398.6,292.2L401.9,292.2L405.3,292.2L408.6,292.3L412.0,292.3L415.3,292.3L418.6,292.4L422.0,292.4L425.3,292.4L428.7,292.5L432.0,292.5L435.4,292.5L438.7,292.6L442.0,292.6L445.4,292.6L448.7,292.6L452.1,292.7L455.4,292.7L458.7,292.7L462.1,292.7L465.4,292.8L468.8,292.8L472.1,292.8L475.5,292.9L478.8,292.9L482.1,292.9L485.5,292.9L488.8,293.0L492.2,293.0L495.5,293.0L498.8,293.0L502.2,293.0L505.5,293.0L508.9,293.0L512.2,293.0L515.5,293.0L518.9,293.0L522.2,293.0L525.6,293.0L528.9,293.0L532.3,292.9L535.6,292.9L538.9,292.9L542.3,292.9L545.6,292.9L549.0,292.8L552.3,292.8L555.6,292.8L559.0,292.7L562.3,292.7L565.7,292.6L569.0,292.5L572.4,292.4L575.7,292.3L579.0,292.2L582.4,292.1L585.7,292.0L589.1,291.9L592.4,291.7L595.7,291.6L599.1,291.4L602.4,291.3L605.8,291.1L609.1,290.9L612.5,290.8L615.8,290.6L619.1,290.4L622.5,290.2L625.8,290.0L629.2,289.9L632.5,289.8L632.5,275.5L629.2,275.2L625.8,274.7L622.5,274.1L619.1,273.3L615.8,272.4L612.5,271.4L609.1,270.2L605.8,269.0L602.4,267.7L599.1,266.3L595.7,264.9L592.4,263.6L589.1,262.3L585.7,261.0L582.4,259.8L579.0,258.6L575.7,257.3L572.4,256.1L569.0,254.8L565.7,253.5L562.3,252.1L559.0,250.8L555.6,249.4L552.3,248.1L549.0,246.8L545.6,245.7L542.3,244.6L538.9,243.6L535.6,242.8L532.3,242.1L528.9,241.6L525.6,241.2L522.2,240.9L518.9,240.9L515.5,240.9L512.2,241.1L508.9,241.4L505.5,241.9L502.2,242.6L498.8,243.4L495.5,244.4L492.2,245.5L488.8,246.8L485.5,248.1L482.1,249.6L478.8,251.2L475.5,252.8L472.1,254.4L468.8,256.1L465.4,257.8L462.1,259.6L458.7,261.3L455.4,263.1L452.1,264.9L448.7,266.8L445.4,268.7L442.0,270.6L438.7,272.7L435.4,274.7L432.0,276.8L428.7,278.9L425.3,280.9L422.0,282.8L418.6,284.6L415.3,286.3L412.0,287.7L408.6,289.0L405.3,290.0L401.9,290.8L398.6,291.4Z" fill="#f8b930"/>
<path d="M398.6,292.2L401.9,292.2L405.3,292.2L408.6,292.3L412.0,292.3L415.3,292.3L418.6,292.4L422.0,292.4L425.3,292.4L428.7,292.5L432.0,292.5L435.4,292.5L438.7,292.6L442.0,292.6L445.4,292.6L448.7,292.6L452.1,292.7L455.4,292.7L458.7,292.7L462.1,292.7L465.4,292.8L468.8,292.8L472.1,292.8L475.5,292.9L478.8,292.9L482.1,292.9L485.5,292.9L488.8,293.0L492.2,293.0L495.5,293.0L498.8,293.0L502.2,293.0L505.5,293.0L508.9,293.0L512.2,293.0L515.5,293.0L518.9,293.0L522.2,293.0L525.6,293.0L528.9,293.0L532.3,292.9L535.6,292.9L538.9,292.9L542.3,292.9L545.6,292.9L549.0,292.8L552.3,292.8L555.6,292.8L559.0,292.7L562.3,292.7L565.7,292.6L569.0,292.5L572.4,292.4L575.7,292.3L579.0,292.2L582.4,292.1L585.7,292.0L589.1,291.9L592.4,291.7L595.7,291.6L599.1,291.4L602.4,291.3L605.8,291.1L609.1,290.9L612.5,290.8L615.8,290.6L619.1,290.4L622.5,290.2L625.8,290.0L629.2,289.9L632.5,289.8L632.5,275.9L629.2,275.5L625.8,275.1L622.5,274.5L619.1,273.8L615.8,272.9L612.5,271.9L609.1,270.8L605.8,269.5L602.4,268.2L599.1,266.9L595.7,265.6L592.4,264.3L589.1,263.0L585.7,261.8L582.4,260.6L579.0,259.4L575.7,258.2L572.4,257.0L569.0,255.7L565.7,254.4L562.3,253.1L559.0,251.8L555.6,250.5L552.3,249.2L549.0,248.0L545.6,246.8L542.3,245.8L538.9,244.8L535.6,244.0L532.3,243.4L528.9,242.8L525.6,242.5L522.2,242.2L518.9,242.2L515.5,242.2L512.2,242.4L508.9,242.7L505.5,243.2L502.2,243.8L498.8,244.6L495.5,245.6L492.2,246.7L488.8,247.9L485.5,249.3L482.1,250.7L478.8,252.2L475.5,253.8L472.1,255.4L468.8,257.0L465.4,258.7L462.1,260.4L458.7,262.1L455.4,263.8L452.1,265.6L448.7,267.4L445.4,269.3L442.0,271.2L438.7,273.2L435.4,275.2L432.0,277.2L428.7,279.2L425.3,281.2L422.0,283.1L418.6,284.8L415.3,286.4L412.0,287.9L408.6,289.1L405.3,290.1L401.9,290.9L398.6,291.4Z" fill="#f6b23d"/>
<path d="M398.6,292.2L401.9,292.2L405.3,292.2L408.6,292.3L412.0,292.3L415.3,292.3L418.6,292.4L422.0,292.4L425.3,292.4L428.7,292.5L432.0,292.5L435.4,292.5L438.7,292.6L442.0,292.6L445.4,292.6L448.7,292.6L452.1,292.7L455.4,292.7L458.7,292.7L462.1,292.7L465.4,292.8L468.8,292.8L472.1,292.8L475.5,292.9L478.8,292.9L482.1,292.9L485.5,292.9L488.8,293.0L492.2,293.0L495.5,293.0L498.8,293.0L502.2,293.0L505.5,293.0L508.9,293.0L512.2,293.0L515.5,293.0L518.9,293.0L522.2,293.0L525.6,293.0L528.9,293.0L532.3,292.9L535.6,292.9L538.9,292.9L542.3,292.9L545.6,292.9L549.0,292.8L552.3,292.8L555.6,292.8L559.0,292.7L562.3,292.7L565.7,292.6L569.0,292.5L572.4,292.4L575.7,292.3L579.0,292.2L582.4,292.1L585.7,292.0L589.1,291.9L592.4,291.7L595.7,291.6L599.1,291.4L602.4,291.3L605.8,291.1L609.1,290.9L612.5,290.8L615.8,290.6L619.1,290.4L622.5,290.2L625.8,290.0L629.2,289.9L632.5,289.8L632.5,276.2L629.2,275.9L625.8,275.5L622.5,274.9L619.1,274.2L615.8,273.3L612.5,272.4L609.1,271.3L605.8,270.1L602.4,268.8L599.1,267.5L595.7,266.2L592.4,265.0L589.1,263.7L585.7,262.6L582.4,261.4L579.0,260.2L575.7,259.1L572.4,257.9L569.0,256.7L565.7,255.4L562.3,254.2L559.0,252.9L555.6,251.6L552.3,250.3L549.0,249.1L545.6,248.0L542.3,247.0L538.9,246.1L535.6,245.3L532.3,244.6L528.9,244.1L525.6,243.8L522.2,243.5L518.9,243.5L515.5,243.5L512.2,243.7L508.9,244.0L505.5,244.5L502.2,245.1L498.8,245.9L495.5,246.8L492.2,247.9L488.8,249.1L485.5,250.4L482.1,251.8L478.8,253.3L475.5,254.8L472.1,256.4L468.8,258.0L465.4,259.6L462.1,261.2L458.7,262.9L455.4,264.6L452.1,266.3L448.7,268.1L445.4,269.9L442.0,271.7L438.7,273.7L435.4,275.6L432.0,277.6L428.7,279.6L425.3,281.5L422.0,283.3L418.6,285.0L415.3,286.6L412.0,288.0L408.6,289.2L405.3,290.1L401.9,290.9L398.6,291.4Z" fill="#edb146"/>
<path d="M398.6,292.2L401.9,292.2L405.3,292.2L408.6,292.3L412.0,292.3L415.3,292.3L418.6,292.4L422.0,292.4L425.3,292.4L428.7,292.5L432.0,292.5L435.4,292.5L438.7,292.6L442.0,292.6L445.4,292.6L448.7,292.6L452.1,292.7L455.4,292.7L458.7,292.7L462.1,292.7L465.4,292.8L468.8,292.8L472.1,292.8L475.5,292.9L478.8,292.9L482.1,292.9L485.5,292.9L488.8,293.0L492.2,293.0L495.5,293.0L498.8,293.0L502.2,293.0L505.5,293.0L508.9,293.0L512.2,293.0L515.5,293.0L518.9,293.0L522.2,293.0L525.6,293.0L528.9,293.0L532.3,292.9L535.6,292.9L538.9,292.9L542.3,292.9L545.6,292.9L549.0,292.8L552.3,292.8L555.6,292.8L559.0,292.7L562.3,292.7L565.7,292.6L569.0,292.5L572.4,292.4L575.7,292.3L579.0,292.2L582.4,292.1L585.7,292.0L589.1,291.9L592.4,291.7L595.7,291.6L599.1,291.4L602.4,291.3L605.8,291.1L609.1,290.9L612.5,290.8L615.8,290.6L619.1,290.4L622.5,290.2L625.8,290.0L629.2,289.9L632.5,289.8L632.5,276.6L629.2,276.3L625.8,275.8L622.5,275.3L619.1,274.6L615.8,273.8L612.5,272.9L609.1,271.8L605.8,270.6L602.4,269.4L599.1,268.2L595.7,266.9L592.4,265.7L589.1,264.5L585.7,263.3L582.4,262.2L579.0,261.1L575.7,260.0L572.4,258.8L569.0,257.6L565.7,256.4L562.3,255.2L559.0,253.9L555.6,252.7L552.3,251.5L549.0,250.3L545.6,249.2L542.3,248.2L538.9,247.3L535.6,246.5L532.3,245.9L528.9,245.4L525.6,245.1L522.2,244.8L518.9,244.8L515.5,244.8L512.2,245.0L508.9,245.3L505.5,245.7L502.2,246.3L498.8,247.1L495.5,248.0L492.2,249.1L488.8,250.2L485.5,251.5L482.1,252.9L478.8,254.3L475.5,255.8L472.1,257.3L468.8,258.9L465.4,260.5L462.1,262.1L458.7,263.7L455.4,265.3L452.1,267.0L448.7,268.7L445.4,270.5L442.0,272.3L438.7,274.2L435.4,276.1L432.0,278.0L428.7,279.9L425.3,281.8L422.0,283.6L418.6,285.2L415.3,286.7L412.0,288.1L408.6,289.2L405.3,290.2L401.9,290.9L398.6,291.5Z" fill="#e0b34e"/>
<path d="M398.6,292.2L401.9,292.2L405.3,292.2L408.6,292.3L412.0,292.3L415.3,292.3L418.6,292.4L422.0,292.4L425.3,292.4L428.7,292.5L432.0,292.5L435.4,292.5L438.7,292.6L442.0,292.6L445.4,292.6L448.7,292.6L452.1,292.7L455.4,292.7L458.7,292.7L462.1,292.7L465.4,292.8L468.8,292.8L472.1,292.8L475.5,292.9L478.8,292.9L482.1,292.9L485.5,292.9L488.8,293.0L492.2,293.0L495.5,293.0L498.8,293.0L502.2,293.0L505.5,293.0L508.9,293.0L512.2,293.0L515.5,293.0L518.9,293.0L522.2,293.0L525.6,293.0L528.9,293.0L532.3,292.9L535.6,292.9L538.9,292.9L542.3,292.9L545.6,292.9L549.0,292.8L552.3,292.8L555.6,292.8L559.0,292.7L562.3,292.7L565.7,292.6L569.0,292.5L572.4,292.4L575.7,292.3L579.0,292.2L582.4,292.1L585.7,292.0L589.1,291.9L592.4,291.7L595.7,291.6L599.1,291.4L602.4,291.3L605.8,291.1L609.1,290.9L612.5,290.8L615.8,290.6L619.1,290.4L622.5,290.2L625.8,290.0L629.2,289.9L632.5,289.8L632.5,276.9L629.2,276.6L625.8,276.2L622.5,275.7L619.1,275.0L615.8,274.2L612.5,273.3L609.1,272.3L605.8,271.2L602.4,270.0L599.1,268.8L595.7,267.6L592.4,266.4L589.1,265.2L585.7,264.1L582.4,263.0L579.0,261.9L575.7,260.8L572.4,259.7L569.0,258.6L565.7,257.4L562.3,256.2L559.0,255.0L555.6,253.8L552.3,252.6L549.0,251.4L545.6,250.4L542.3,249.4L538.9,248.5L535.6,247.8L532.3,247.2L528.9,246.7L525.6,246.4L522.2,246.1L518.9,246.1L515.5,246.1L512.2,246.3L508.9,246.6L505.5,247.0L502.2,247.6L498.8,248.3L495.5,249.2L492.2,250.2L488.8,251.4L485.5,252.6L482.1,254.0L478.8,255.4L475.5,256.8L472.1,258.3L468.8,259.8L465.4,261.3L462.1,262.9L458.7,264.5L455.4,266.1L452.1,267.7L448.7,269.3L445.4,271.1L442.0,272.8L438.7,274.7L435.4,276.5L432.0,278.4L428.7,280.3L425.3,282.1L422.0,283.8L418.6,285.4L415.3,286.9L412.0,288.2L408.6,289.3L405.3,290.3L401.9,291.0L398.6,291.5Z" fill="#d1b555"/>
<path d="M398.6,292.2L401.9,292.2L405.3,292.2L408.6,292.3L412.0,292.3L415.3,292.3L418.6,292.4L422.0,292.4L425.3,292.4L428.7,292.5L432.0,292.5L435.4,292.5L438.7,292.6L442.0,292.6L445.4,292.6L448.7,292.6L452.1,292.7L455.4,292.7L458.7,292.7L462.1,292.7L465.4,292.8L468.8,292.8L472.1,292.8L475.5,292.9L478.8,292.9L482.1,292.9L485.5,292.9L488.8,293.0L492.2,293.0L495.5,293.0L498.8,293.0L502.2,293.0L505.5,293.0L508.9,293.0L512.2,293.0L515.5,293.0L518.9,293.0L522.2,293.0L525.6,293.0L528.9,293.0L532.3,292.9L535.6,292.9L538.9,292.9L542.3,292.9L545.6,292.9L549.0,292.8L552.3,292.8L555.6,292.8L559.0,292.7L562.3,292.7L565.7,292.6L569.0,292.5L572.4,292.4L575.7,292.3L579.0,292.2L582.4,292.1L585.7,292.0L589.1,291.9L592.4,291.7L595.7,291.6L599.1,291.4L602.4,291.3L605.8,291.1L609.1,290.9L612.5,290.8L615.8,290.6L619.1,290.4L622.5,290.2L625.8,290.0L629.2,289.9L632.5,289.8L632.5,277.3L629.2,277.0L625.8,276.6L622.5,276.1L619.1,275.5L615.8,274.7L612.5,273.8L609.1,272.8L605.8,271.8L602.4,270.6L599.1,269.4L595.7,268.2L592.4,267.1L589.1,266.0L585.7,264.9L582.4,263.8L579.0,262.8L575.7,261.7L572.4,260.6L569.0,259.5L565.7,258.4L562.3,257.2L559.0,256.0L555.6,254.8L552.3,253.7L549.0,252.6L545.6,251.6L542.3,250.6L538.9,249.8L535.6,249.0L532.3,248.4L528.9,248.0L525.6,247.7L522.2,247.4L518.9,247.4L515.5,247.4L512.2,247.6L508.9,247.9L505.5,248.3L502.2,248.9L498.8,249.6L495.5,250.4L492.2,251.4L488.8,252.5L485.5,253.7L482.1,255.0L478.8,256.4L475.5,257.8L472.1,259.2L468.8,260.7L465.4,262.2L462.1,263.7L458.7,265.2L455.4,266.8L452.1,268.4L448.7,270.0L445.4,271.7L442.0,273.4L438.7,275.2L435.4,277.0L432.0,278.8L428.7,280.6L425.3,282.4L422.0,284.0L418.6,285.6L415.3,287.0L412.0,288.3L408.6,289.4L405.3,290.3L401.9,291.0L398.6,291.5Z" fill="#c2b75d"/>
<path d="M398.6,292.2L401.9,292.2L405.3,292.2L408.6,292.3L412.0,292.3L415.3,292.3L418.6,292.4L422.0,292.4L425.3,292.4L428.7,292.5L432.0,292.5L435.4,292.5L438.7,292.6L442.0,292.6L445.4,292.6L448.7,292.6L452.1,292.7L455.4,292.7L458.7,292.7L462.1,292.7L465.4,292.8L468.8,292.8L472.1,292.8L475.5,292.9L478.8,292.9L482.1,292.9L485.5,292.9L488.8,293.0L492.2,293.0L495.5,293.0L498.8,293.0L502.2,293.0L505.5,293.0L508.9,293.0L512.2,293.0L515.5,293.0L518.9,293.0L522.2,293.0L525.6,293.0L528.9,293.0L532.3,292.9L535.6,292.9L538.9,292.9L542.3,292.9L545.6,292.9L549.0,292.8L552.3,292.8L555.6,292.8L559.0,292.7L562.3,292.7L565.7,292.6L569.0,292.5L572.4,292.4L575.7,292.3L579.0,292.2L582.4,292.1L585.7,292.0L589.1,291.9L592.4,291.7L595.7,291.6L599.1,291.4L602.4,291.3L605.8,291.1L609.1,290.9L612.5,290.8L615.8,290.6L619.1,290.4L622.5,290.2L625.8,290.0L629.2,289.9L632.5,289.8L632.5,277.6L629.2,277.4L625.8,277.0L622.5,276.5L619.1,275.9L615.8,275.2L612.5,274.3L609.1,273.3L605.8,272.3L602.4,271.2L599.1,270.1L595.7,268.9L592.4,267.8L589.1,266.7L585.7,265.7L582.4,264.6L579.0,263.6L575.7,262.6L572.4,261.5L569.0,260.4L565.7,259.3L562.3,258.2L559.0,257.1L555.6,255.9L552.3,254.8L549.0,253.7L545.6,252.7L542.3,251.8L538.9,251.0L535.6,250.3L532.3,249.7L528.9,249.3L525.6,248.9L522.2,248.7L518.9,248.7L515.5,248.7L512.2,248.9L508.9,249.2L505.5,249.6L502.2,250.1L498.8,250.8L495.5,251.7L492.2,252.6L488.8,253.7L485.5,254.9L482.1,256.1L478.8,257.4L475.5,258.8L472.1,260.2L468.8,261.6L465.4,263.1L462.1,264.5L458.7,266.0L455.4,267.5L452.1,269.1L448.7,270.6L445.4,272.3L442.0,273.9L438.7,275.7L435.4,277.4L432.0,279.2L428.7,280.9L425.3,282.6L422.0,284.3L418.6,285.8L415.3,287.2L412.0,288.4L408.6,289.5L405.3,290.4L401.9,291.0L398.6,291.5Z" fill="#b3b865"/>
<path d="M398.6,292.2L401.9,292.2L405.3,292.2L408.6,292.3L412.0,292.3L415.3,292.3L418.6,292.4L422.0,292.4L425.3,292.4L428.7,292.5L432.0,292.5L435.4,292.5L438.7,292.6L442.0,292.6L445.4,292.6L448.7,292.6L452.1,292.7L455.4,292.7L458.7,292.7L462.1,292.7L465.4,292.8L468.8,292.8L472.1,292.8L475.5,292.9L478.8,292.9L482.1,292.9L485.5,292.9L488.8,293.0L492.2,293.0L495.5,293.0L498.8,293.0L502.2,293.0L505.5,293.0L508.9,293.0L512.2,293.0L515.5,293.0L518.9,293.0L522.2,293.0L525.6,293.0L528.9,293.0L532.3,292.9L535.6,292.9L538.9,292.9L542.3,292.9L545.6,292.9L549.0,292.8L552.3,292.8L555.6,292.8L559.0,292.7L562.3,292.7L565.7,292.6L569.0,292.5L572.4,292.4L575.7,292.3L579.0,292.2L582.4,292.1L585.7,292.0L589.1,291.9L592.4,291.7L595.7,291.6L599.1,291.4L602.4,291.3L605.8,291.1L609.1,290.9L612.5,290.8L615.8,290.6L619.1,290.4L622.5,290.2L625.8,290.0L629.2,289.9L632.5,289.8L632.5,278.0L629.2,277.7L625.8,277.4L622.5,276.9L619.1,276.3L615.8,275.6L612.5,274.8L609.1,273.9L605.8,272.9L602.4,271.8L599.1,270.7L595.7,269.6L592.4,268.5L589.1,267.4L585.7,266.4L582.4,265.4L579.0,264.5L575.7,263.5L572.4,262.4L569.0,261.4L565.7,260.3L562.3,259.2L559.0,258.1L555.6,257.0L552.3,255.9L549.0,254.9L545.6,253.9L542.3,253.0L538.9,252.2L535.6,251.5L532.3,251.0L528.9,250.6L525.6,250.2L522.2,250.1L518.9,250.0L515.5,250.0L512.2,250.2L508.9,250.4L505.5,250.8L502.2,251.4L498.8,252.1L495.5,252.9L492.2,253.8L488.8,254.8L485.5,256.0L482.1,257.2L478.8,258.5L475.5,259.8L472.1,261.2L468.8,262.6L465.4,264.0L462.1,265.4L458.7,266.8L455.4,268.3L452.1,269.8L448.7,271.3L445.4,272.9L442.0,274.5L438.7,276.2L435.4,277.9L432.0,279.6L428.7,281.3L425.3,282.9L422.0,284.5L418.6,286.0L415.3,287.3L412.0,288.5L408.6,289.6L405.3,290.4L401.9,291.1L398.6,291.5Z" fill="#a2ba6b"/>
<path d="M398.6,292.2L401.9,292.2L405.3,292.2L408.6,292.3L412.0,292.3L415.3,292.3L418.6,292.4L422.0,292.4L425.3,292.4L428.7,292.5L432.0,292.5L435.4,292.5L438.7,292.6L442.0,292.6L445.4,292.6L448.7,292.6L452.1,292.7L455.4,292.7L458.7,292.7L462.1,292.7L465.4,292.8L468.8,292.8L472.1,292.8L475.5,292.9L478.8,292.9L482.1,292.9L485.5,292.9L488.8,293.0L492.2,293.0L495.5,293.0L498.8,293.0L502.2,293.0L505.5,293.0L508.9,293.0L512.2,293.0L515.5,293.0L518.9,293.0L522.2,293.0L525.6,293.0L528.9,293.0L532.3,292.9L535.6,292.9L538.9,292.9L542.3,292.9L545.6,292.9L549.0,292.8L552.3,292.8L555.6,292.8L559.0,292.7L562.3,292.7L565.7,292.6L569.0,292.5L572.4,292.4L575.7,292.3L579.0,292.2L582.4,292.1L585.7,292.0L589.1,291.9L592.4,291.7L595.7,291.6L599.1,291.4L602.4,291.3L605.8,291.1L609.1,290.9L612.5,290.8L615.8,290.6L619.1,290.4L622.5,290.2L625.8,290.0L629.2,289.9L632.5,289.8L632.5,278.4L629.2,278.1L625.8,277.8L622.5,277.3L619.1,276.7L615.8,276.1L612.5,275.3L609.1,274.4L605.8,273.4L602.4,272.4L599.1,271.3L595.7,270.2L592.4,269.2L589.1,268.2L585.7,267.2L582.4,266.2L579.0,265.3L575.7,264.3L572.4,263.3L569.0,262.3L565.7,261.3L562.3,260.2L559.0,259.2L555.6,258.1L552.3,257.0L549.0,256.0L545.6,255.1L542.3,254.2L538.9,253.5L535.6,252.8L532.3,252.3L528.9,251.8L525.6,251.5L522.2,251.4L518.9,251.3L515.5,251.3L512.2,251.5L508.9,251.7L505.5,252.1L502.2,252.6L498.8,253.3L495.5,254.1L492.2,255.0L488.8,256.0L485.5,257.1L482.1,258.3L478.8,259.5L475.5,260.8L472.1,262.1L468.8,263.5L465.4,264.8L462.1,266.2L458.7,267.6L455.4,269.0L452.1,270.5L448.7,271.9L445.4,273.5L442.0,275.0L438.7,276.7L435.4,278.3L432.0,280.0L428.7,281.6L425.3,283.2L422.0,284.8L418.6,286.2L415.3,287.5L412.0,288.7L408.6,289.7L405.3,290.5L401.9,291.1L398.6,291.5Z" fill="#8fbc71"/>
<path d="M398.6,292.2L401.9,292.2L405.3,292.2L408.6,292.3L412.0,292.3L415.3,292.3L418.6,292.4L422.0,292.4L425.3,292.4L428.7,292.5L432.0,292.5L435.4,292.5L438.7,292.6L442.0,292.6L445.4,292.6L448.7,292.6L452.1,292.7L455.4,292.7L458.7,292.7L462.1,292.7L465.4,292.8L468.8,292.8L472.1,292.8L475.5,292.9L478.8,292.9L482.1,292.9L485.5,292.9L488.8,293.0L492.2,293.0L495.5,293.0L498.8,293.0L502.2,293.0L505.5,293.0L508.9,293.0L512.2,293.0L515.5,293.0L518.9,293.0L522.2,293.0L525.6,293.0L528.9,293.0L532.3,292.9L535.6,292.9L538.9,292.9L542.3,292.9L545.6,292.9L549.0,292.8L552.3,292.8L555.6,292.8L559.0,292.7L562.3,292.7L565.7,292.6L569.0,292.5L572.4,292.4L575.7,292.3L579.0,292.2L582.4,292.1L585.7,292.0L589.1,291.9L592.4,291.7L595.7,291.6L599.1,291.4L602.4,291.3L605.8,291.1L609.1,290.9L612.5,290.8L615.8,290.6L619.1,290.4L622.5,290.2L625.8,290.0L629.2,289.9L632.5,289.8L632.5,278.7L629.2,278.5L625.8,278.1L622.5,277.7L619.1,277.2L615.8,276.5L612.5,275.8L609.1,274.9L605.8,274.0L602.4,273.0L599.1,271.9L595.7,270.9L592.4,269.9L589.1,268.9L585.7,268.0L582.4,267.1L579.0,266.1L575.7,265.2L572.4,264.3L569.0,263.3L565.7,262.3L562.3,261.2L559.0,260.2L555.6,259.2L552.3,258.2L549.0,257.2L545.6,256.3L542.3,255.4L538.9,254.7L535.6,254.1L532.3,253.5L528.9,253.1L525.6,252.8L522.2,252.7L518.9,252.6L515.5,252.6L512.2,252.8L508.9,253.0L505.5,253.4L502.2,253.9L498.8,254.5L495.5,255.3L492.2,256.2L488.8,257.2L485.5,258.2L482.1,259.4L478.8,260.6L475.5,261.8L472.1,263.1L468.8,264.4L465.4,265.7L462.1,267.0L458.7,268.4L455.4,269.8L452.1,271.1L448.7,272.6L445.4,274.1L442.0,275.6L438.7,277.1L435.4,278.7L432.0,280.4L428.7,282.0L425.3,283.5L422.0,285.0L418.6,286.4L415.3,287.6L412.0,288.8L408.6,289.7L405.3,290.5L401.9,291.1L398.6,291.6Z" fill="#7dbe77"/>
<path d="M398.6,292.2L401.9,292.2L405.3,292.2L408.6,292.3L412.0,292.3L415.3,292.3L418.6,292.4L422.0,292.4L425.3,292.4L428.7,292.5L432.0,292.5L435.4,292.5L438.7,292.6L442.0,292.6L445.4,292.6L448.7,292.6L452.1,292.7L455.4,292.7L458.7,292.7L462.1,292.7L465.4,292.8L468.8,292.8L472.1,292.8L475.5,292.9L478.8,292.9L482.1,292.9L485.5,292.9L488.8,293.0L492.2,293.0L495.5,293.0L498.8,293.0L502.2,293.0L505.5,293.0L508.9,293.0L512.2,293.0L515.5,293.0L518.9,293.0L522.2,293.0L525.6,293.0L528.9,293.0L532.3,292.9L535.6,292.9L538.9,292.9L542.3,292.9L545.6,292.9L549.0,292.8L552.3,292.8L555.6,292.8L559.0,292.7L562.3,292.7L565.7,292.6L569.0,292.5L572.4,292.4L575.7,292.3L579.0,292.2L582.4,292.1L585.7,292.0L589.1,291.9L592.4,291.7L595.7,291.6L599.1,291.4L602.4,291.3L605.8,291.1L609.1,290.9L612.5,290.8L615.8,290.6L619.1,290.4L622.5,290.2L625.8,290.0L629.2,289.9L632.5,289.8L632.5,279.1L629.2,278.8L625.8,278.5L622.5,278.1L619.1,277.6L615.8,277.0L612.5,276.2L609.1,275.4L605.8,274.5L602.4,273.6L599.1,272.6L595.7,271.6L592.4,270.6L589.1,269.7L585.7,268.8L582.4,267.9L579.0,267.0L575.7,266.1L572.4,265.2L569.0,264.2L565.7,263.2L562.3,262.3L559.0,261.3L555.6,260.3L552.3,259.3L549.0,258.3L545.6,257.5L542.3,256.6L538.9,255.9L535.6,255.3L532.3,254.8L528.9,254.4L525.6,254.1L522.2,254.0L518.9,253.9L515.5,253.9L512.2,254.1L508.9,254.3L505.5,254.7L502.2,255.2L498.8,255.8L495.5,256.5L492.2,257.4L488.8,258.3L485.5,259.3L482.1,260.4L478.8,261.6L475.5,262.8L472.1,264.0L468.8,265.3L465.4,266.6L462.1,267.9L458.7,269.2L455.4,270.5L452.1,271.8L448.7,273.2L445.4,274.7L442.0,276.1L438.7,277.6L435.4,279.2L432.0,280.8L428.7,282.3L425.3,283.8L422.0,285.2L418.6,286.6L415.3,287.8L412.0,288.9L408.6,289.8L405.3,290.6L401.9,291.2L398.6,291.6Z" fill="#63be7c"/>
<path d="M398.6,292.2L401.9,292.2L405.3,292.2L408.6,292.3L412.0,292.3L415.3,292.3L418.6,292.4L422.0,292.4L425.3,292.4L428.7,292.5L432.0,292.5L435.4,292.5L438.7,292.6L442.0,292.6L445.4,292.6L448.7,292.6L452.1,292.7L455.4,292.7L458.7,292.7L462.1,292.7L465.4,292.8L468.8,292.8L472.1,292.8L475.5,292.9L478.8,292.9L482.1,292.9L485.5,292.9L488.8,293.0L492.2,293.0L495.5,293.0L498.8,293.0L502.2,293.0L505.5,293.0L508.9,293.0L512.2,293.0L515.5,293.0L518.9,293.0L522.2,293.0L525.6,293.0L528.9,293.0L532.3,292.9L535.6,292.9L538.9,292.9L542.3,292.9L545.6,292.9L549.0,292.8L552.3,292.8L555.6,292.8L559.0,292.7L562.3,292.7L565.7,292.6L569.0,292.5L572.4,292.4L575.7,292.3L579.0,292.2L582.4,292.1L585.7,292.0L589.1,291.9L592.4,291.7L595.7,291.6L599.1,291.4L602.4,291.3L605.8,291.1L609.1,290.9L612.5,290.8L615.8,290.6L619.1,290.4L622.5,290.2L625.8,290.0L629.2,289.9L632.5,289.8L632.5,279.4L629.2,279.2L625.8,278.9L622.5,278.5L619.1,278.0L615.8,277.4L612.5,276.7L609.1,275.9L605.8,275.1L602.4,274.1L599.1,273.2L595.7,272.3L592.4,271.3L589.1,270.4L585.7,269.5L582.4,268.7L579.0,267.8L575.7,267.0L572.4,266.1L569.0,265.2L565.7,264.2L562.3,263.3L559.0,262.3L555.6,261.3L552.3,260.4L549.0,259.5L545.6,258.6L542.3,257.9L538.9,257.2L535.6,256.6L532.3,256.1L528.9,255.7L525.6,255.4L522.2,255.3L518.9,255.2L515.5,255.2L512.2,255.4L508.9,255.6L505.5,256.0L502.2,256.4L498.8,257.0L495.5,257.7L492.2,258.5L488.8,259.5L485.5,260.5L482.1,261.5L478.8,262.7L475.5,263.8L472.1,265.0L468.8,266.2L465.4,267.4L462.1,268.7L458.7,270.0L455.4,271.2L452.1,272.5L448.7,273.9L445.4,275.3L442.0,276.7L438.7,278.1L435.4,279.6L432.0,281.1L428.7,282.6L425.3,284.1L422.0,285.5L418.6,286.8L415.3,288.0L412.0,289.0L408.6,289.9L405.3,290.6L401.9,291.2L398.6,291.6Z" fill="#47be80"/>
<path d="M398.6,292.2L401.9,292.2L405.3,292.2L408.6,292.3L412.0,292.3L415.3,292.3L418.6,292.4L422.0,292.4L425.3,292.4L428.7,292.5L432.0,292.5L435.4,292.5L438.7,292.6L442.0,292.6L445.4,292.6L448.7,292.6L452.1,292.7L455.4,292.7L458.7,292.7L462.1,292.7L465.4,292.8L468.8,292.8L472.1,292.8L475.5,292.9L478.8,292.9L482.1,292.9L485.5,292.9L488.8,293.0L492.2,293.0L495.5,293.0L498.8,293.0L502.2,293.0L505.5,293.0L508.9,293.0L512.2,293.0L515.5,293.0L518.9,293.0L522.2,293.0L525.6,293.0L528.9,293.0L532.3,292.9L535.6,292.9L538.9,292.9L542.3,292.9L545.6,292.9L549.0,292.8L552.3,292.8L555.6,292.8L559.0,292.7L562.3,292.7L565.7,292.6L569.0,292.5L572.4,292.4L575.7,292.3L579.0,292.2L582.4,292.1L585.7,292.0L589.1,291.9L592.4,291.7L595.7,291.6L599.1,291.4L602.4,291.3L605.8,291.1L609.1,290.9L612.5,290.8L615.8,290.6L619.1,290.4L622.5,290.2L625.8,290.0L629.2,289.9L632.5,289.8L632.5,279.8L629.2,279.6L625.8,279.3L622.5,278.9L619.1,278.4L615.8,277.9L612.5,277.2L609.1,276.5L605.8,275.6L602.4,274.7L599.1,273.8L595.7,272.9L592.4,272.0L589.1,271.2L585.7,270.3L582.4,269.5L579.0,268.7L575.7,267.8L572.4,267.0L569.0,266.1L565.7,265.2L562.3,264.3L559.0,263.4L555.6,262.4L552.3,261.5L549.0,260.6L545.6,259.8L542.3,259.1L538.9,258.4L535.6,257.8L532.3,257.3L528.9,257.0L525.6,256.7L522.2,256.6L518.9,256.5L515.5,256.5L512.2,256.7L508.9,256.9L505.5,257.2L502.2,257.7L498.8,258.3L495.5,258.9L492.2,259.7L488.8,260.6L485.5,261.6L482.1,262.6L478.8,263.7L475.5,264.8L472.1,266.0L468.8,267.1L465.4,268.3L462.1,269.5L458.7,270.7L455.4,272.0L452.1,273.2L448.7,274.5L445.4,275.9L442.0,277.2L438.7,278.6L435.4,280.1L432.0,281.5L428.7,283.0L425.3,284.4L422.0,285.7L418.6,287.0L415.3,288.1L412.0,289.1L408.6,290.0L405.3,290.7L401.9,291.2L398.6,291.6Z" fill="#32bc86"/>
<path d="M398.6,292.2L401.9,292.2L405.3,292.2L408.6,292.3L412.0,292.3L415.3,292.3L418.6,292.4L422.0,292.4L425.3,292.4L428.7,292.5L432.0,292.5L435.4,292.5L438.7,292.6L442.0,292.6L445.4,292.6L448.7,292.6L452.1,292.7L455.4,292.7L458.7,292.7L462.1,292.7L465.4,292.8L468.8,292.8L472.1,292.8L475.5,292.9L478.8,292.9L482.1,292.9L485.5,292.9L488.8,293.0L492.2,293.0L495.5,293.0L498.8,293.0L502.2,293.0L505.5,293.0L508.9,293.0L512.2,293.0L515.5,293.0L518.9,293.0L522.2,293.0L525.6,293.0L528.9,293.0L532.3,292.9L535.6,292.9L538.9,292.9L542.3,292.9L545.6,292.9L549.0,292.8L552.3,292.8L555.6,292.8L559.0,292.7L562.3,292.7L565.7,292.6L569.0,292.5L572.4,292.4L575.7,292.3L579.0,292.2L582.4,292.1L585.7,292.0L589.1,291.9L592.4,291.7L595.7,291.6L599.1,291.4L602.4,291.3L605.8,291.1L609.1,290.9L612.5,290.8L615.8,290.6L619.1,290.4L622.5,290.2L625.8,290.0L629.2,289.9L632.5,289.8L632.5,280.1L629.2,279.9L625.8,279.7L622.5,279.3L619.1,278.9L615.8,278.3L612.5,277.7L609.1,277.0L605.8,276.2L602.4,275.3L599.1,274.5L595.7,273.6L592.4,272.7L589.1,271.9L585.7,271.1L582.4,270.3L579.0,269.5L575.7,268.7L572.4,267.9L569.0,267.1L565.7,266.2L562.3,265.3L559.0,264.4L555.6,263.5L552.3,262.6L549.0,261.8L545.6,261.0L542.3,260.3L538.9,259.6L535.6,259.1L532.3,258.6L528.9,258.3L525.6,258.0L522.2,257.9L518.9,257.8L515.5,257.8L512.2,258.0L508.9,258.2L505.5,258.5L502.2,259.0L498.8,259.5L495.5,260.2L492.2,260.9L488.8,261.8L485.5,262.7L482.1,263.7L478.8,264.7L475.5,265.8L472.1,266.9L468.8,268.1L465.4,269.2L462.1,270.4L458.7,271.5L455.4,272.7L452.1,273.9L448.7,275.2L445.4,276.4L442.0,277.8L438.7,279.1L435.4,280.5L432.0,281.9L428.7,283.3L425.3,284.7L422.0,286.0L418.6,287.2L415.3,288.3L412.0,289.2L408.6,290.1L405.3,290.7L401.9,291.3L398.6,291.6Z" fill="#22b98b"/>
<path d="M398.6,292.2L401.9,292.2L405.3,292.2L408.6,292.3L412.0,292.3L415.3,292.3L418.6,292.4L422.0,292.4L425.3,292.4L428.7,292.5L432.0,292.5L435.4,292.5L438.7,292.6L442.0,292.6L445.4,292.6L448.7,292.6L452.1,292.7L455.4,292.7L458.7,292.7L462.1,292.7L465.4,292.8L468.8,292.8L472.1,292.8L475.5,292.9L478.8,292.9L482.1,292.9L485.5,292.9L488.8,293.0L492.2,293.0L495.5,293.0L498.8,293.0L502.2,293.0L505.5,293.0L508.9,293.0L512.2,293.0L515.5,293.0L518.9,293.0L522.2,293.0L525.6,293.0L528.9,293.0L532.3,292.9L535.6,292.9L538.9,292.9L542.3,292.9L545.6,292.9L549.0,292.8L552.3,292.8L555.6,292.8L559.0,292.7L562.3,292.7L565.7,292.6L569.0,292.5L572.4,292.4L575.7,292.3L579.0,292.2L582.4,292.1L585.7,292.0L589.1,291.9L592.4,291.7L595.7,291.6L599.1,291.4L602.4,291.3L605.8,291.1L609.1,290.9L612.5,290.8L615.8,290.6L619.1,290.4L622.5,290.2L625.8,290.0L629.2,289.9L632.5,289.8L632.5,280.5L629.2,280.3L625.8,280.1L622.5,279.7L619.1,279.3L615.8,278.8L612.5,278.2L609.1,277.5L605.8,276.7L602.4,275.9L599.1,275.1L595.7,274.3L592.4,273.4L589.1,272.6L585.7,271.9L582.4,271.1L579.0,270.3L575.7,269.6L572.4,268.8L569.0,268.0L565.7,267.2L562.3,266.3L559.0,265.4L555.6,264.6L552.3,263.8L549.0,262.9L545.6,262.2L542.3,261.5L538.9,260.9L535.6,260.3L532.3,259.9L528.9,259.5L525.6,259.3L522.2,259.2L518.9,259.1L515.5,259.1L512.2,259.3L508.9,259.5L505.5,259.8L502.2,260.2L498.8,260.7L495.5,261.4L492.2,262.1L488.8,262.9L485.5,263.8L482.1,264.8L478.8,265.8L475.5,266.8L472.1,267.9L468.8,269.0L465.4,270.1L462.1,271.2L458.7,272.3L455.4,273.5L452.1,274.6L448.7,275.8L445.4,277.0L442.0,278.3L438.7,279.6L435.4,281.0L432.0,282.3L428.7,283.7L425.3,285.0L422.0,286.2L418.6,287.4L415.3,288.4L412.0,289.3L408.6,290.1L405.3,290.8L401.9,291.3L398.6,291.7Z" fill="#1fb693"/>
<path d="M398.6,292.2L401.9,292.2L405.3,292.2L408.6,292.3L412.0,292.3L415.3,292.3L418.6,292.4L422.0,292.4L425.3,292.4L428.7,292.5L432.0,292.5L435.4,292.5L438.7,292.6L442.0,292.6L445.4,292.6L448.7,292.6L452.1,292.7L455.4,292.7L458.7,292.7L462.1,292.7L465.4,292.8L468.8,292.8L472.1,292.8L475.5,292.9L478.8,292.9L482.1,292.9L485.5,292.9L488.8,293.0L492.2,293.0L495.5,293.0L498.8,293.0L502.2,293.0L505.5,293.0L508.9,293.0L512.2,293.0L515.5,293.0L518.9,293.0L522.2,293.0L525.6,293.0L528.9,293.0L532.3,292.9L535.6,292.9L538.9,292.9L542.3,292.9L545.6,292.9L549.0,292.8L552.3,292.8L555.6,292.8L559.0,292.7L562.3,292.7L565.7,292.6L569.0,292.5L572.4,292.4L575.7,292.3L579.0,292.2L582.4,292.1L585.7,292.0L589.1,291.9L592.4,291.7L595.7,291.6L599.1,291.4L602.4,291.3L605.8,291.1L609.1,290.9L612.5,290.8L615.8,290.6L619.1,290.4L622.5,290.2L625.8,290.0L629.2,289.9L632.5,289.8L632.5,280.8L629.2,280.7L625.8,280.4L622.5,280.1L619.1,279.7L615.8,279.2L612.5,278.7L609.1,278.0L605.8,277.3L602.4,276.5L599.1,275.7L595.7,274.9L592.4,274.1L589.1,273.4L585.7,272.6L582.4,271.9L579.0,271.2L575.7,270.5L572.4,269.7L569.0,268.9L565.7,268.1L562.3,267.3L559.0,266.5L555.6,265.7L552.3,264.9L549.0,264.1L545.6,263.4L542.3,262.7L538.9,262.1L535.6,261.6L532.3,261.2L528.9,260.8L525.6,260.6L522.2,260.5L518.9,260.4L515.5,260.4L512.2,260.6L508.9,260.8L505.5,261.1L502.2,261.5L498.8,262.0L495.5,262.6L492.2,263.3L488.8,264.1L485.5,264.9L482.1,265.9L478.8,266.8L475.5,267.8L472.1,268.8L468.8,269.9L465.4,270.9L462.1,272.0L458.7,273.1L455.4,274.2L452.1,275.3L448.7,276.5L445.4,277.6L442.0,278.9L438.7,280.1L435.4,281.4L432.0,282.7L428.7,284.0L425.3,285.2L422.0,286.4L418.6,287.5L415.3,288.6L412.0,289.5L408.6,290.2L405.3,290.9L401.9,291.3L398.6,291.7Z" fill="#1eb29a"/>
<path d="M398.6,292.2L401.9,292.2L405.3,292.2L408.6,292.3L412.0,292.3L415.3,292.3L418.6,292.4L422.0,292.4L425.3,292.4L428.7,292.5L432.0,292.5L435.4,292.5L438.7,292.6L442.0,292.6L445.4,292.6L448.7,292.6L452.1,292.7L455.4,292.7L458.7,292.7L462.1,292.7L465.4,292.8L468.8,292.8L472.1,292.8L475.5,292.9L478.8,292.9L482.1,292.9L485.5,292.9L488.8,293.0L492.2,293.0L495.5,293.0L498.8,293.0L502.2,293.0L505.5,293.0L508.9,293.0L512.2,293.0L515.5,293.0L518.9,293.0L522.2,293.0L525.6,293.0L528.9,293.0L532.3,292.9L535.6,292.9L538.9,292.9L542.3,292.9L545.6,292.9L549.0,292.8L552.3,292.8L555.6,292.8L559.0,292.7L562.3,292.7L565.7,292.6L569.0,292.5L572.4,292.4L575.7,292.3L579.0,292.2L582.4,292.1L585.7,292.0L589.1,291.9L592.4,291.7L595.7,291.6L599.1,291.4L602.4,291.3L605.8,291.1L609.1,290.9L612.5,290.8L615.8,290.6L619.1,290.4L622.5,290.2L625.8,290.0L629.2,289.9L632.5,289.8L632.5,281.2L629.2,281.0L625.8,280.8L622.5,280.5L619.1,280.1L615.8,279.7L612.5,279.1L609.1,278.5L605.8,277.8L602.4,277.1L599.1,276.3L595.7,275.6L592.4,274.8L589.1,274.1L585.7,273.4L582.4,272.7L579.0,272.0L575.7,271.3L572.4,270.6L569.0,269.9L565.7,269.1L562.3,268.3L559.0,267.5L555.6,266.8L552.3,266.0L549.0,265.2L545.6,264.5L542.3,263.9L538.9,263.3L535.6,262.8L532.3,262.4L528.9,262.1L525.6,261.9L522.2,261.8L518.9,261.7L515.5,261.7L512.2,261.9L508.9,262.1L505.5,262.3L502.2,262.7L498.8,263.2L495.5,263.8L492.2,264.5L488.8,265.2L485.5,266.1L482.1,266.9L478.8,267.9L475.5,268.8L472.1,269.8L468.8,270.8L465.4,271.8L462.1,272.8L458.7,273.9L455.4,274.9L452.1,276.0L448.7,277.1L445.4,278.2L442.0,279.4L438.7,280.6L435.4,281.9L432.0,283.1L428.7,284.3L425.3,285.5L422.0,286.7L418.6,287.7L415.3,288.7L412.0,289.6L408.6,290.3L405.3,290.9L401.9,291.4L398.6,291.7Z" fill="#1daea3"/>
<path d="M398.6,292.2L401.9,292.2L405.3,292.2L408.6,292.3L412.0,292.3L415.3,292.3L418.6,292.4L422.0,292.4L425.3,292.4L428.7,292.5L432.0,292.5L435.4,292.5L438.7,292.6L442.0,292.6L445.4,292.6L448.7,292.6L452.1,292.7L455.4,292.7L458.7,292.7L462.1,292.7L465.4,292.8L468.8,292.8L472.1,292.8L475.5,292.9L478.8,292.9L482.1,292.9L485.5,292.9L488.8,293.0L492.2,293.0L495.5,293.0L498.8,293.0L502.2,293.0L505.5,293.0L508.9,293.0L512.2,293.0L515.5,293.0L518.9,293.0L522.2,293.0L525.6,293.0L528.9,293.0L532.3,292.9L535.6,292.9L538.9,292.9L542.3,292.9L545.6,292.9L549.0,292.8L552.3,292.8L555.6,292.8L559.0,292.7L562.3,292.7L565.7,292.6L569.0,292.5L572.4,292.4L575.7,292.3L579.0,292.2L582.4,292.1L585.7,292.0L589.1,291.9L592.4,291.7L595.7,291.6L599.1,291.4L602.4,291.3L605.8,291.1L609.1,290.9L612.5,290.8L615.8,290.6L619.1,290.4L622.5,290.2L625.8,290.0L629.2,289.9L632.5,289.8L632.5,281.6L629.2,281.4L625.8,281.2L622.5,280.9L619.1,280.6L615.8,280.1L612.5,279.6L609.1,279.0L605.8,278.4L602.4,277.7L599.1,277.0L595.7,276.3L592.4,275.5L589.1,274.9L585.7,274.2L582.4,273.5L579.0,272.9L575.7,272.2L572.4,271.5L569.0,270.8L565.7,270.1L562.3,269.3L559.0,268.6L555.6,267.8L552.3,267.1L549.0,266.4L545.6,265.7L542.3,265.1L538.9,264.6L535.6,264.1L532.3,263.7L528.9,263.4L525.6,263.2L522.2,263.1L518.9,263.0L515.5,263.0L512.2,263.1L508.9,263.3L505.5,263.6L502.2,264.0L498.8,264.5L495.5,265.0L492.2,265.7L488.8,266.4L485.5,267.2L482.1,268.0L478.8,268.9L475.5,269.8L472.1,270.8L468.8,271.7L465.4,272.7L462.1,273.7L458.7,274.7L455.4,275.7L452.1,276.7L448.7,277.8L445.4,278.8L442.0,280.0L438.7,281.1L435.4,282.3L432.0,283.5L428.7,284.7L425.3,285.8L422.0,286.9L418.6,287.9L415.3,288.9L412.0,289.7L408.6,290.4L405.3,291.0L401.9,291.4L398.6,291.7Z" fill="#1cabad"/>
<path d="M398.6,292.2L401.9,292.2L405.3,292.2L408.6,292.3L412.0,292.3L415.3,292.3L418.6,292.4L422.0,292.4L425.3,292.4L428.7,292.5L432.0,292.5L435.4,292.5L438.7,292.6L442.0,292.6L445.4,292.6L448.7,292.6L452.1,292.7L455.4,292.7L458.7,292.7L462.1,292.7L465.4,292.8L468.8,292.8L472.1,292.8L475.5,292.9L478.8,292.9L482.1,292.9L485.5,292.9L488.8,293.0L492.2,293.0L495.5,293.0L498.8,293.0L502.2,293.0L505.5,293.0L508.9,293.0L512.2,293.0L515.5,293.0L518.9,293.0L522.2,293.0L525.6,293.0L528.9,293.0L532.3,292.9L535.6,292.9L538.9,292.9L542.3,292.9L545.6,292.9L549.0,292.8L552.3,292.8L555.6,292.8L559.0,292.7L562.3,292.7L565.7,292.6L569.0,292.5L572.4,292.4L575.7,292.3L579.0,292.2L582.4,292.1L585.7,292.0L589.1,291.9L592.4,291.7L595.7,291.6L599.1,291.4L602.4,291.3L605.8,291.1L609.1,290.9L612.5,290.8L615.8,290.6L619.1,290.4L622.5,290.2L625.8,290.0L629.2,289.9L632.5,289.8L632.5,281.9L629.2,281.8L625.8,281.6L622.5,281.3L619.1,281.0L615.8,280.6L612.5,280.1L609.1,279.6L605.8,278.9L602.4,278.3L599.1,277.6L595.7,276.9L592.4,276.2L589.1,275.6L585.7,275.0L582.4,274.3L579.0,273.7L575.7,273.1L572.4,272.4L569.0,271.8L565.7,271.1L562.3,270.4L559.0,269.6L555.6,268.9L552.3,268.2L549.0,267.5L545.6,266.9L542.3,266.3L538.9,265.8L535.6,265.3L532.3,265.0L528.9,264.7L525.6,264.5L522.2,264.4L518.9,264.3L515.5,264.3L512.2,264.4L508.9,264.6L505.5,264.9L502.2,265.3L498.8,265.7L495.5,266.2L492.2,266.9L488.8,267.6L485.5,268.3L482.1,269.1L478.8,270.0L475.5,270.8L472.1,271.7L468.8,272.6L465.4,273.6L462.1,274.5L458.7,275.4L455.4,276.4L452.1,277.4L448.7,278.4L445.4,279.4L442.0,280.5L438.7,281.6L435.4,282.8L432.0,283.9L428.7,285.0L425.3,286.1L422.0,287.1L418.6,288.1L415.3,289.0L412.0,289.8L408.6,290.5L405.3,291.0L401.9,291.4L398.6,291.7Z" fill="#1aa8b6"/>
<path d="M398.6,292.2L401.9,292.2L405.3,292.2L408.6,292.3L412.0,292.3L415.3,292.3L418.6,292.4L422.0,292.4L425.3,292.4L428.7,292.5L432.0,292.5L435.4,292.5L438.7,292.6L442.0,292.6L445.4,292.6L448.7,292.6L452.1,292.7L455.4,292.7L458.7,292.7L462.1,292.7L465.4,292.8L468.8,292.8L472.1,292.8L475.5,292.9L478.8,292.9L482.1,292.9L485.5,292.9L488.8,293.0L492.2,293.0L495.5,293.0L498.8,293.0L502.2,293.0L505.5,293.0L508.9,293.0L512.2,293.0L515.5,293.0L518.9,293.0L522.2,293.0L525.6,293.0L528.9,293.0L532.3,292.9L535.6,292.9L538.9,292.9L542.3,292.9L545.6,292.9L549.0,292.8L552.3,292.8L555.6,292.8L559.0,292.7L562.3,292.7L565.7,292.6L569.0,292.5L572.4,292.4L575.7,292.3L579.0,292.2L582.4,292.1L585.7,292.0L589.1,291.9L592.4,291.7L595.7,291.6L599.1,291.4L602.4,291.3L605.8,291.1L609.1,290.9L612.5,290.8L615.8,290.6L619.1,290.4L622.5,290.2L625.8,290.0L629.2,289.9L632.5,289.8L632.5,282.3L629.2,282.2L625.8,282.0L622.5,281.7L619.1,281.4L615.8,281.0L612.5,280.6L609.1,280.1L605.8,279.5L602.4,278.9L599.1,278.2L595.7,277.6L592.4,277.0L589.1,276.3L585.7,275.7L582.4,275.1L579.0,274.6L575.7,274.0L572.4,273.3L569.0,272.7L565.7,272.1L562.3,271.4L559.0,270.7L555.6,270.0L552.3,269.3L549.0,268.7L545.6,268.1L542.3,267.5L538.9,267.0L535.6,266.6L532.3,266.2L528.9,266.0L525.6,265.8L522.2,265.7L518.9,265.6L515.5,265.6L512.2,265.7L508.9,265.9L505.5,266.2L502.2,266.5L498.8,266.9L495.5,267.5L492.2,268.0L488.8,268.7L485.5,269.4L482.1,270.2L478.8,271.0L475.5,271.8L472.1,272.7L468.8,273.6L465.4,274.4L462.1,275.3L458.7,276.2L455.4,277.2L452.1,278.1L448.7,279.0L445.4,280.0L442.0,281.1L438.7,282.1L435.4,283.2L432.0,284.3L428.7,285.4L425.3,286.4L422.0,287.4L418.6,288.3L415.3,289.2L412.0,289.9L408.6,290.5L405.3,291.1L401.9,291.5L398.6,291.8Z" fill="#19a5be"/>
<path d="M398.6,292.2L401.9,292.2L405.3,292.2L408.6,292.3L412.0,292.3L415.3,292.3L418.6,292.4L422.0,292.4L425.3,292.4L428.7,292.5L432.0,292.5L435.4,292.5L438.7,292.6L442.0,292.6L445.4,292.6L448.7,292.6L452.1,292.7L455.4,292.7L458.7,292.7L462.1,292.7L465.4,292.8L468.8,292.8L472.1,292.8L475.5,292.9L478.8,292.9L482.1,292.9L485.5,292.9L488.8,293.0L492.2,293.0L495.5,293.0L498.8,293.0L502.2,293.0L505.5,293.0L508.9,293.0L512.2,293.0L515.5,293.0L518.9,293.0L522.2,293.0L525.6,293.0L528.9,293.0L532.3,292.9L535.6,292.9L538.9,292.9L542.3,292.9L545.6,292.9L549.0,292.8L552.3,292.8L555.6,292.8L559.0,292.7L562.3,292.7L565.7,292.6L569.0,292.5L572.4,292.4L575.7,292.3L579.0,292.2L582.4,292.1L585.7,292.0L589.1,291.9L592.4,291.7L595.7,291.6L599.1,291.4L602.4,291.3L605.8,291.1L609.1,290.9L612.5,290.8L615.8,290.6L619.1,290.4L622.5,290.2L625.8,290.0L629.2,289.9L632.5,289.8L632.5,282.6L629.2,282.5L625.8,282.4L622.5,282.1L619.1,281.9L615.8,281.5L612.5,281.1L609.1,280.6L605.8,280.0L602.4,279.5L599.1,278.9L595.7,278.3L592.4,277.7L589.1,277.1L585.7,276.5L582.4,276.0L579.0,275.4L575.7,274.8L572.4,274.3L569.0,273.7L565.7,273.0L562.3,272.4L559.0,271.7L555.6,271.1L552.3,270.5L549.0,269.8L545.6,269.3L542.3,268.7L538.9,268.3L535.6,267.8L532.3,267.5L528.9,267.3L525.6,267.1L522.2,267.0L518.9,266.9L515.5,266.9L512.2,267.0L508.9,267.2L505.5,267.5L502.2,267.8L498.8,268.2L495.5,268.7L492.2,269.2L488.8,269.9L485.5,270.5L482.1,271.3L478.8,272.0L475.5,272.8L472.1,273.6L468.8,274.5L465.4,275.3L462.1,276.2L458.7,277.0L455.4,277.9L452.1,278.8L448.7,279.7L445.4,280.6L442.0,281.6L438.7,282.6L435.4,283.6L432.0,284.7L428.7,285.7L425.3,286.7L422.0,287.6L418.6,288.5L415.3,289.3L412.0,290.0L408.6,290.6L405.3,291.1L401.9,291.5L398.6,291.8Z" fill="#19a3c2"/>
<path d="M398.6,292.2L401.9,292.2L405.3,292.2L408.6,292.3L412.0,292.3L415.3,292.3L418.6,292.4L422.0,292.4L425.3,292.4L428.7,292.5L432.0,292.5L435.4,292.5L438.7,292.6L442.0,292.6L445.4,292.6L448.7,292.6L452.1,292.7L455.4,292.7L458.7,292.7L462.1,292.7L465.4,292.8L468.8,292.8L472.1,292.8L475.5,292.9L478.8,292.9L482.1,292.9L485.5,292.9L488.8,293.0L492.2,293.0L495.5,293.0L498.8,293.0L502.2,293.0L505.5,293.0L508.9,293.0L512.2,293.0L515.5,293.0L518.9,293.0L522.2,293.0L525.6,293.0L528.9,293.0L532.3,292.9L535.6,292.9L538.9,292.9L542.3,292.9L545.6,292.9L549.0,292.8L552.3,292.8L555.6,292.8L559.0,292.7L562.3,292.7L565.7,292.6L569.0,292.5L572.4,292.4L575.7,292.3L579.0,292.2L582.4,292.1L585.7,292.0L589.1,291.9L592.4,291.7L595.7,291.6L599.1,291.4L602.4,291.3L605.8,291.1L609.1,290.9L612.5,290.8L615.8,290.6L619.1,290.4L622.5,290.2L625.8,290.0L629.2,289.9L632.5,289.8L632.5,283.0L629.2,282.9L625.8,282.7L622.5,282.5L619.1,282.3L615.8,282.0L612.5,281.6L609.1,281.1L605.8,280.6L602.4,280.1L599.1,279.5L595.7,278.9L592.4,278.4L589.1,277.8L585.7,277.3L582.4,276.8L579.0,276.2L575.7,275.7L572.4,275.2L569.0,274.6L565.7,274.0L562.3,273.4L559.0,272.8L555.6,272.2L552.3,271.6L549.0,271.0L545.6,270.4L542.3,269.9L538.9,269.5L535.6,269.1L532.3,268.8L528.9,268.5L525.6,268.4L522.2,268.3L518.9,268.2L515.5,268.2L512.2,268.3L508.9,268.5L505.5,268.7L502.2,269.0L498.8,269.4L495.5,269.9L492.2,270.4L488.8,271.0L485.5,271.7L482.1,272.4L478.8,273.1L475.5,273.8L472.1,274.6L468.8,275.4L465.4,276.2L462.1,277.0L458.7,277.8L455.4,278.6L452.1,279.5L448.7,280.3L445.4,281.2L442.0,282.2L438.7,283.1L435.4,284.1L432.0,285.1L428.7,286.0L425.3,287.0L422.0,287.9L418.6,288.7L415.3,289.5L412.0,290.1L408.6,290.7L405.3,291.2L401.9,291.5L398.6,291.8Z" fill="#19a1c6"/>
<path d="M398.6,292.2L401.9,292.2L405.3,292.2L408.6,292.3L412.0,292.3L415.3,292.3L418.6,292.4L422.0,292.4L425.3,292.4L428.7,292.5L432.0,292.5L435.4,292.5L438.7,292.6L442.0,292.6L445.4,292.6L448.7,292.6L452.1,292.7L455.4,292.7L458.7,292.7L462.1,292.7L465.4,292.8L468.8,292.8L472.1,292.8L475.5,292.9L478.8,292.9L482.1,292.9L485.5,292.9L488.8,293.0L492.2,293.0L495.5,293.0L498.8,293.0L502.2,293.0L505.5,293.0L508.9,293.0L512.2,293.0L515.5,293.0L518.9,293.0L522.2,293.0L525.6,293.0L528.9,293.0L532.3,292.9L535.6,292.9L538.9,292.9L542.3,292.9L545.6,292.9L549.0,292.8L552.3,292.8L555.6,292.8L559.0,292.7L562.3,292.7L565.7,292.6L569.0,292.5L572.4,292.4L575.7,292.3L579.0,292.2L582.4,292.1L585.7,292.0L589.1,291.9L592.4,291.7L595.7,291.6L599.1,291.4L602.4,291.3L605.8,291.1L609.1,290.9L612.5,290.8L615.8,290.6L619.1,290.4L622.5,290.2L625.8,290.0L629.2,289.9L632.5,289.8L632.5,283.3L629.2,283.3L625.8,283.1L622.5,282.9L619.1,282.7L615.8,282.4L612.5,282.0L609.1,281.6L605.8,281.2L602.4,280.6L599.1,280.1L595.7,279.6L592.4,279.1L589.1,278.6L585.7,278.1L582.4,277.6L579.0,277.1L575.7,276.6L572.4,276.1L569.0,275.5L565.7,275.0L562.3,274.4L559.0,273.8L555.6,273.3L552.3,272.7L549.0,272.1L545.6,271.6L542.3,271.1L538.9,270.7L535.6,270.4L532.3,270.1L528.9,269.8L525.6,269.7L522.2,269.6L518.9,269.5L515.5,269.6L512.2,269.6L508.9,269.8L505.5,270.0L502.2,270.3L498.8,270.7L495.5,271.1L492.2,271.6L488.8,272.2L485.5,272.8L482.1,273.4L478.8,274.1L475.5,274.8L472.1,275.6L468.8,276.3L465.4,277.1L462.1,277.8L458.7,278.6L455.4,279.4L452.1,280.2L448.7,281.0L445.4,281.8L442.0,282.7L438.7,283.6L435.4,284.5L432.0,285.5L428.7,286.4L425.3,287.3L422.0,288.1L418.6,288.9L415.3,289.6L412.0,290.3L408.6,290.8L405.3,291.2L401.9,291.6L398.6,291.8Z" fill="#1b9ec9"/>
<path d="M398.6,292.2L401.9,292.2L405.3,292.2L408.6,292.3L412.0,292.3L415.3,292.3L418.6,292.4L422.0,292.4L425.3,292.4L428.7,292.5L432.0,292.5L435.4,292.5L438.7,292.6L442.0,292.6L445.4,292.6L448.7,292.6L452.1,292.7L455.4,292.7L458.7,292.7L462.1,292.7L465.4,292.8L468.8,292.8L472.1,292.8L475.5,292.9L478.8,292.9L482.1,292.9L485.5,292.9L488.8,293.0L492.2,293.0L495.5,293.0L498.8,293.0L502.2,293.0L505.5,293.0L508.9,293.0L512.2,293.0L515.5,293.0L518.9,293.0L522.2,293.0L525.6,293.0L528.9,293.0L532.3,292.9L535.6,292.9L538.9,292.9L542.3,292.9L545.6,292.9L549.0,292.8L552.3,292.8L555.6,292.8L559.0,292.7L562.3,292.7L565.7,292.6L569.0,292.5L572.4,292.4L575.7,292.3L579.0,292.2L582.4,292.1L585.7,292.0L589.1,291.9L592.4,291.7L595.7,291.6L599.1,291.4L602.4,291.3L605.8,291.1L609.1,290.9L612.5,290.8L615.8,290.6L619.1,290.4L622.5,290.2L625.8,290.0L629.2,289.9L632.5,289.8L632.5,283.7L629.2,283.6L625.8,283.5L622.5,283.3L619.1,283.1L615.8,282.9L612.5,282.5L609.1,282.1L605.8,281.7L602.4,281.2L599.1,280.7L595.7,280.3L592.4,279.8L589.1,279.3L585.7,278.8L582.4,278.4L579.0,277.9L575.7,277.5L572.4,277.0L569.0,276.5L565.7,276.0L562.3,275.4L559.0,274.9L555.6,274.3L552.3,273.8L549.0,273.3L545.6,272.8L542.3,272.4L538.9,272.0L535.6,271.6L532.3,271.3L528.9,271.1L525.6,271.0L522.2,270.9L518.9,270.8L515.5,270.9L512.2,270.9L508.9,271.1L505.5,271.3L502.2,271.6L498.8,271.9L495.5,272.3L492.2,272.8L488.8,273.3L485.5,273.9L482.1,274.5L478.8,275.2L475.5,275.8L472.1,276.5L468.8,277.2L465.4,277.9L462.1,278.6L458.7,279.4L455.4,280.1L452.1,280.9L448.7,281.6L445.4,282.4L442.0,283.3L438.7,284.1L435.4,285.0L432.0,285.8L428.7,286.7L425.3,287.5L422.0,288.3L418.6,289.1L415.3,289.8L412.0,290.4L408.6,290.9L405.3,291.3L401.9,291.6L398.6,291.8Z" fill="#1f9acb"/>
<path d="M398.6,292.2L401.9,292.2L405.3,292.2L408.6,292.3L412.0,292.3L415.3,292.3L418.6,292.4L422.0,292.4L425.3,292.4L428.7,292.5L432.0,292.5L435.4,292.5L438.7,292.6L442.0,292.6L445.4,292.6L448.7,292.6L452.1,292.7L455.4,292.7L458.7,292.7L462.1,292.7L465.4,292.8L468.8,292.8L472.1,292.8L475.5,292.9L478.8,292.9L482.1,292.9L485.5,292.9L488.8,293.0L492.2,293.0L495.5,293.0L498.8,293.0L502.2,293.0L505.5,293.0L508.9,293.0L512.2,293.0L515.5,293.0L518.9,293.0L522.2,293.0L525.6,293.0L528.9,293.0L532.3,292.9L535.6,292.9L538.9,292.9L542.3,292.9L545.6,292.9L549.0,292.8L552.3,292.8L555.6,292.8L559.0,292.7L562.3,292.7L565.7,292.6L569.0,292.5L572.4,292.4L575.7,292.3L579.0,292.2L582.4,292.1L585.7,292.0L589.1,291.9L592.4,291.7L595.7,291.6L599.1,291.4L602.4,291.3L605.8,291.1L609.1,290.9L612.5,290.8L615.8,290.6L619.1,290.4L622.5,290.2L625.8,290.0L629.2,289.9L632.5,289.8L632.5,284.1L629.2,284.0L625.8,283.9L622.5,283.7L619.1,283.6L615.8,283.3L612.5,283.0L609.1,282.7L605.8,282.3L602.4,281.8L599.1,281.4L595.7,280.9L592.4,280.5L589.1,280.0L585.7,279.6L582.4,279.2L579.0,278.8L575.7,278.3L572.4,277.9L569.0,277.4L565.7,276.9L562.3,276.4L559.0,275.9L555.6,275.4L552.3,274.9L549.0,274.4L545.6,274.0L542.3,273.6L538.9,273.2L535.6,272.9L532.3,272.6L528.9,272.4L525.6,272.3L522.2,272.2L518.9,272.1L515.5,272.2L512.2,272.2L508.9,272.4L505.5,272.6L502.2,272.8L498.8,273.1L495.5,273.5L492.2,274.0L488.8,274.5L485.5,275.0L482.1,275.6L478.8,276.2L475.5,276.8L472.1,277.5L468.8,278.1L465.4,278.8L462.1,279.5L458.7,280.2L455.4,280.8L452.1,281.6L448.7,282.3L445.4,283.0L442.0,283.8L438.7,284.6L435.4,285.4L432.0,286.2L428.7,287.0L425.3,287.8L422.0,288.6L418.6,289.3L415.3,289.9L412.0,290.5L408.6,291.0L405.3,291.3L401.9,291.6L398.6,291.9Z" fill="#2297cd"/>
<path d="M398.6,292.2L401.9,292.2L405.3,292.2L408.6,292.3L412.0,292.3L415.3,292.3L418.6,292.4L422.0,292.4L425.3,292.4L428.7,292.5L432.0,292.5L435.4,292.5L438.7,292.6L442.0,292.6L445.4,292.6L448.7,292.6L452.1,292.7L455.4,292.7L458.7,292.7L462.1,292.7L465.4,292.8L468.8,292.8L472.1,292.8L475.5,292.9L478.8,292.9L482.1,292.9L485.5,292.9L488.8,293.0L492.2,293.0L495.5,293.0L498.8,293.0L502.2,293.0L505.5,293.0L508.9,293.0L512.2,293.0L515.5,293.0L518.9,293.0L522.2,293.0L525.6,293.0L528.9,293.0L532.3,292.9L535.6,292.9L538.9,292.9L542.3,292.9L545.6,292.9L549.0,292.8L552.3,292.8L555.6,292.8L559.0,292.7L562.3,292.7L565.7,292.6L569.0,292.5L572.4,292.4L575.7,292.3L579.0,292.2L582.4,292.1L585.7,292.0L589.1,291.9L592.4,291.7L595.7,291.6L599.1,291.4L602.4,291.3L605.8,291.1L609.1,290.9L612.5,290.8L615.8,290.6L619.1,290.4L622.5,290.2L625.8,290.0L629.2,289.9L632.5,289.8L632.5,284.4L629.2,284.4L625.8,284.3L622.5,284.2L619.1,284.0L615.8,283.8L612.5,283.5L609.1,283.2L605.8,282.8L602.4,282.4L599.1,282.0L595.7,281.6L592.4,281.2L589.1,280.8L585.7,280.4L582.4,280.0L579.0,279.6L575.7,279.2L572.4,278.8L569.0,278.4L565.7,277.9L562.3,277.5L559.0,277.0L555.6,276.5L552.3,276.0L549.0,275.6L545.6,275.2L542.3,274.8L538.9,274.4L535.6,274.1L532.3,273.9L528.9,273.7L525.6,273.5L522.2,273.5L518.9,273.4L515.5,273.5L512.2,273.5L508.9,273.7L505.5,273.8L502.2,274.1L498.8,274.4L495.5,274.8L492.2,275.2L488.8,275.6L485.5,276.1L482.1,276.7L478.8,277.3L475.5,277.8L472.1,278.4L468.8,279.1L465.4,279.7L462.1,280.3L458.7,280.9L455.4,281.6L452.1,282.3L448.7,282.9L445.4,283.6L442.0,284.4L438.7,285.1L435.4,285.9L432.0,286.6L428.7,287.4L425.3,288.1L422.0,288.8L418.6,289.5L415.3,290.1L412.0,290.6L408.6,291.0L405.3,291.4L401.9,291.7L398.6,291.9Z" fill="#2790c9"/>
<path d="M398.6,292.2L401.9,292.2L405.3,292.2L408.6,292.3L412.0,292.3L415.3,292.3L418.6,292.4L422.0,292.4L425.3,292.4L428.7,292.5L432.0,292.5L435.4,292.5L438.7,292.6L442.0,292.6L445.4,292.6L448.7,292.6L452.1,292.7L455.4,292.7L458.7,292.7L462.1,292.7L465.4,292.8L468.8,292.8L472.1,292.8L475.5,292.9L478.8,292.9L482.1,292.9L485.5,292.9L488.8,293.0L492.2,293.0L495.5,293.0L498.8,293.0L502.2,293.0L505.5,293.0L508.9,293.0L512.2,293.0L515.5,293.0L518.9,293.0L522.2,293.0L525.6,293.0L528.9,293.0L532.3,292.9L535.6,292.9L538.9,292.9L542.3,292.9L545.6,292.9L549.0,292.8L552.3,292.8L555.6,292.8L559.0,292.7L562.3,292.7L565.7,292.6L569.0,292.5L572.4,292.4L575.7,292.3L579.0,292.2L582.4,292.1L585.7,292.0L589.1,291.9L592.4,291.7L595.7,291.6L599.1,291.4L602.4,291.3L605.8,291.1L609.1,290.9L612.5,290.8L615.8,290.6L619.1,290.4L622.5,290.2L625.8,290.0L629.2,289.9L632.5,289.8L632.5,284.8L629.2,284.7L625.8,284.7L622.5,284.6L619.1,284.4L615.8,284.2L612.5,284.0L609.1,283.7L605.8,283.4L602.4,283.0L599.1,282.6L595.7,282.3L592.4,281.9L589.1,281.5L585.7,281.2L582.4,280.8L579.0,280.4L575.7,280.1L572.4,279.7L569.0,279.3L565.7,278.9L562.3,278.5L559.0,278.0L555.6,277.6L552.3,277.2L549.0,276.7L545.6,276.3L542.3,276.0L538.9,275.7L535.6,275.4L532.3,275.1L528.9,275.0L525.6,274.8L522.2,274.8L518.9,274.7L515.5,274.8L512.2,274.8L508.9,274.9L505.5,275.1L502.2,275.3L498.8,275.6L495.5,276.0L492.2,276.4L488.8,276.8L485.5,277.3L482.1,277.8L478.8,278.3L475.5,278.8L472.1,279.4L468.8,280.0L465.4,280.6L462.1,281.1L458.7,281.7L455.4,282.3L452.1,282.9L448.7,283.6L445.4,284.2L442.0,284.9L438.7,285.6L435.4,286.3L432.0,287.0L428.7,287.7L425.3,288.4L422.0,289.1L418.6,289.7L415.3,290.2L412.0,290.7L408.6,291.1L405.3,291.5L401.9,291.7L398.6,291.9Z" fill="#2c88c4"/>
<path d="M398.6,292.2L401.9,292.2L405.3,292.2L408.6,292.3L412.0,292.3L415.3,292.3L418.6,292.4L422.0,292.4L425.3,292.4L428.7,292.5L432.0,292.5L435.4,292.5L438.7,292.6L442.0,292.6L445.4,292.6L448.7,292.6L452.1,292.7L455.4,292.7L458.7,292.7L462.1,292.7L465.4,292.8L468.8,292.8L472.1,292.8L475.5,292.9L478.8,292.9L482.1,292.9L485.5,292.9L488.8,293.0L492.2,293.0L495.5,293.0L498.8,293.0L502.2,293.0L505.5,293.0L508.9,293.0L512.2,293.0L515.5,293.0L518.9,293.0L522.2,293.0L525.6,293.0L528.9,293.0L532.3,292.9L535.6,292.9L538.9,292.9L542.3,292.9L545.6,292.9L549.0,292.8L552.3,292.8L555.6,292.8L559.0,292.7L562.3,292.7L565.7,292.6L569.0,292.5L572.4,292.4L575.7,292.3L579.0,292.2L582.4,292.1L585.7,292.0L589.1,291.9L592.4,291.7L595.7,291.6L599.1,291.4L602.4,291.3L605.8,291.1L609.1,290.9L612.5,290.8L615.8,290.6L619.1,290.4L622.5,290.2L625.8,290.0L629.2,289.9L632.5,289.8L632.5,285.1L629.2,285.1L625.8,285.0L622.5,285.0L619.1,284.8L615.8,284.7L612.5,284.5L609.1,284.2L605.8,283.9L602.4,283.6L599.1,283.3L595.7,282.9L592.4,282.6L589.1,282.3L585.7,281.9L582.4,281.6L579.0,281.3L575.7,281.0L572.4,280.6L569.0,280.3L565.7,279.9L562.3,279.5L559.0,279.1L555.6,278.7L552.3,278.3L549.0,277.9L545.6,277.5L542.3,277.2L538.9,276.9L535.6,276.6L532.3,276.4L528.9,276.3L525.6,276.1L522.2,276.1L518.9,276.0L515.5,276.1L512.2,276.1L508.9,276.2L505.5,276.4L502.2,276.6L498.8,276.9L495.5,277.2L492.2,277.5L488.8,277.9L485.5,278.4L482.1,278.9L478.8,279.3L475.5,279.8L472.1,280.4L468.8,280.9L465.4,281.4L462.1,282.0L458.7,282.5L455.4,283.1L452.1,283.6L448.7,284.2L445.4,284.8L442.0,285.5L438.7,286.1L435.4,286.8L432.0,287.4L428.7,288.1L425.3,288.7L422.0,289.3L418.6,289.9L415.3,290.4L412.0,290.8L408.6,291.2L405.3,291.5L401.9,291.7L398.6,291.9Z" fill="#3181bf"/>
<path d="M398.6,292.2L401.9,292.2L405.3,292.2L408.6,292.3L412.0,292.3L415.3,292.3L418.6,292.4L422.0,292.4L425.3,292.4L428.7,292.5L432.0,292.5L435.4,292.5L438.7,292.6L442.0,292.6L445.4,292.6L448.7,292.6L452.1,292.7L455.4,292.7L458.7,292.7L462.1,292.7L465.4,292.8L468.8,292.8L472.1,292.8L475.5,292.9L478.8,292.9L482.1,292.9L485.5,292.9L488.8,293.0L492.2,293.0L495.5,293.0L498.8,293.0L502.2,293.0L505.5,293.0L508.9,293.0L512.2,293.0L515.5,293.0L518.9,293.0L522.2,293.0L525.6,293.0L528.9,293.0L532.3,292.9L535.6,292.9L538.9,292.9L542.3,292.9L545.6,292.9L549.0,292.8L552.3,292.8L555.6,292.8L559.0,292.7L562.3,292.7L565.7,292.6L569.0,292.5L572.4,292.4L575.7,292.3L579.0,292.2L582.4,292.1L585.7,292.0L589.1,291.9L592.4,291.7L595.7,291.6L599.1,291.4L602.4,291.3L605.8,291.1L609.1,290.9L612.5,290.8L615.8,290.6L619.1,290.4L622.5,290.2L625.8,290.0L629.2,289.9L632.5,289.8L632.5,285.5L629.2,285.5L625.8,285.4L622.5,285.4L619.1,285.3L615.8,285.1L612.5,284.9L609.1,284.7L605.8,284.5L602.4,284.2L599.1,283.9L595.7,283.6L592.4,283.3L589.1,283.0L585.7,282.7L582.4,282.4L579.0,282.1L575.7,281.8L572.4,281.5L569.0,281.2L565.7,280.9L562.3,280.5L559.0,280.1L555.6,279.8L552.3,279.4L549.0,279.0L545.6,278.7L542.3,278.4L538.9,278.1L535.6,277.9L532.3,277.7L528.9,277.5L525.6,277.4L522.2,277.4L518.9,277.3L515.5,277.4L512.2,277.4L508.9,277.5L505.5,277.7L502.2,277.9L498.8,278.1L495.5,278.4L492.2,278.7L488.8,279.1L485.5,279.5L482.1,279.9L478.8,280.4L475.5,280.8L472.1,281.3L468.8,281.8L465.4,282.3L462.1,282.8L458.7,283.3L455.4,283.8L452.1,284.3L448.7,284.9L445.4,285.4L442.0,286.0L438.7,286.6L435.4,287.2L432.0,287.8L428.7,288.4L425.3,289.0L422.0,289.5L418.6,290.1L415.3,290.5L412.0,290.9L408.6,291.3L405.3,291.6L401.9,291.8L398.6,291.9Z" fill="#337abb"/>
<path d="M398.6,292.2L401.9,292.2L405.3,292.2L408.6,292.3L412.0,292.3L415.3,292.3L418.6,292.4L422.0,292.4L425.3,292.4L428.7,292.5L432.0,292.5L435.4,292.5L438.7,292.6L442.0,292.6L445.4,292.6L448.7,292.6L452.1,292.7L455.4,292.7L458.7,292.7L462.1,292.7L465.4,292.8L468.8,292.8L472.1,292.8L475.5,292.9L478.8,292.9L482.1,292.9L485.5,292.9L488.8,293.0L492.2,293.0L495.5,293.0L498.8,293.0L502.2,293.0L505.5,293.0L508.9,293.0L512.2,293.0L515.5,293.0L518.9,293.0L522.2,293.0L525.6,293.0L528.9,293.0L532.3,292.9L535.6,292.9L538.9,292.9L542.3,292.9L545.6,292.9L549.0,292.8L552.3,292.8L555.6,292.8L559.0,292.7L562.3,292.7L565.7,292.6L569.0,292.5L572.4,292.4L575.7,292.3L579.0,292.2L582.4,292.1L585.7,292.0L589.1,291.9L592.4,291.7L595.7,291.6L599.1,291.4L602.4,291.3L605.8,291.1L609.1,290.9L612.5,290.8L615.8,290.6L619.1,290.4L622.5,290.2L625.8,290.0L629.2,289.9L632.5,289.8L632.5,285.8L629.2,285.8L625.8,285.8L622.5,285.8L619.1,285.7L615.8,285.6L612.5,285.4L609.1,285.2L605.8,285.0L602.4,284.8L599.1,284.5L595.7,284.3L592.4,284.0L589.1,283.7L585.7,283.5L582.4,283.2L579.0,283.0L575.7,282.7L572.4,282.4L569.0,282.1L565.7,281.8L562.3,281.5L559.0,281.2L555.6,280.8L552.3,280.5L549.0,280.2L545.6,279.9L542.3,279.6L538.9,279.4L535.6,279.1L532.3,279.0L528.9,278.8L525.6,278.7L522.2,278.7L518.9,278.6L515.5,278.7L512.2,278.7L508.9,278.8L505.5,279.0L502.2,279.1L498.8,279.4L495.5,279.6L492.2,279.9L488.8,280.3L485.5,280.6L482.1,281.0L478.8,281.4L475.5,281.8L472.1,282.3L468.8,282.7L465.4,283.2L462.1,283.6L458.7,284.1L455.4,284.5L452.1,285.0L448.7,285.5L445.4,286.0L442.0,286.6L438.7,287.1L435.4,287.6L432.0,288.2L428.7,288.7L425.3,289.3L422.0,289.8L418.6,290.3L415.3,290.7L412.0,291.0L408.6,291.4L405.3,291.6L401.9,291.8L398.6,291.9Z" fill="#3274b8"/>
<path d="M398.6,292.2L401.9,292.2L405.3,292.2L408.6,292.3L412.0,292.3L415.3,292.3L418.6,292.4L422.0,292.4L425.3,292.4L428.7,292.5L432.0,292.5L435.4,292.5L438.7,292.6L442.0,292.6L445.4,292.6L448.7,292.6L452.1,292.7L455.4,292.7L458.7,292.7L462.1,292.7L465.4,292.8L468.8,292.8L472.1,292.8L475.5,292.9L478.8,292.9L482.1,292.9L485.5,292.9L488.8,293.0L492.2,293.0L495.5,293.0L498.8,293.0L502.2,293.0L505.5,293.0L508.9,293.0L512.2,293.0L515.5,293.0L518.9,293.0L522.2,293.0L525.6,293.0L528.9,293.0L532.3,292.9L535.6,292.9L538.9,292.9L542.3,292.9L545.6,292.9L549.0,292.8L552.3,292.8L555.6,292.8L559.0,292.7L562.3,292.7L565.7,292.6L569.0,292.5L572.4,292.4L575.7,292.3L579.0,292.2L582.4,292.1L585.7,292.0L589.1,291.9L592.4,291.7L595.7,291.6L599.1,291.4L602.4,291.3L605.8,291.1L609.1,290.9L612.5,290.8L615.8,290.6L619.1,290.4L622.5,290.2L625.8,290.0L629.2,289.9L632.5,289.8L632.5,286.2L629.2,286.2L625.8,286.2L622.5,286.2L619.1,286.1L615.8,286.0L612.5,285.9L609.1,285.8L605.8,285.6L602.4,285.4L599.1,285.2L595.7,284.9L592.4,284.7L589.1,284.5L585.7,284.3L582.4,284.0L579.0,283.8L575.7,283.6L572.4,283.3L569.0,283.1L565.7,282.8L562.3,282.5L559.0,282.2L555.6,281.9L552.3,281.6L549.0,281.3L545.6,281.1L542.3,280.8L538.9,280.6L535.6,280.4L532.3,280.2L528.9,280.1L525.6,280.0L522.2,280.0L518.9,280.0L515.5,280.0L512.2,280.0L508.9,280.1L505.5,280.2L502.2,280.4L498.8,280.6L495.5,280.8L492.2,281.1L488.8,281.4L485.5,281.7L482.1,282.1L478.8,282.5L475.5,282.9L472.1,283.2L468.8,283.6L465.4,284.0L462.1,284.5L458.7,284.9L455.4,285.3L452.1,285.7L448.7,286.2L445.4,286.6L442.0,287.1L438.7,287.6L435.4,288.1L432.0,288.6L428.7,289.1L425.3,289.6L422.0,290.0L418.6,290.4L415.3,290.8L412.0,291.2L408.6,291.4L405.3,291.7L401.9,291.8L398.6,292.0Z" fill="#316eb5"/>
<path d="M398.6,292.2L401.9,292.2L405.3,292.2L408.6,292.3L412.0,292.3L415.3,292.3L418.6,292.4L422.0,292.4L425.3,292.4L428.7,292.5L432.0,292.5L435.4,292.5L438.7,292.6L442.0,292.6L445.4,292.6L448.7,292.6L452.1,292.7L455.4,292.7L458.7,292.7L462.1,292.7L465.4,292.8L468.8,292.8L472.1,292.8L475.5,292.9L478.8,292.9L482.1,292.9L485.5,292.9L488.8,293.0L492.2,293.0L495.5,293.0L498.8,293.0L502.2,293.0L505.5,293.0L508.9,293.0L512.2,293.0L515.5,293.0L518.9,293.0L522.2,293.0L525.6,293.0L528.9,293.0L532.3,292.9L535.6,292.9L538.9,292.9L542.3,292.9L545.6,292.9L549.0,292.8L552.3,292.8L555.6,292.8L559.0,292.7L562.3,292.7L565.7,292.6L569.0,292.5L572.4,292.4L575.7,292.3L579.0,292.2L582.4,292.1L585.7,292.0L589.1,291.9L592.4,291.7L595.7,291.6L599.1,291.4L602.4,291.3L605.8,291.1L609.1,290.9L612.5,290.8L615.8,290.6L619.1,290.4L622.5,290.2L625.8,290.0L629.2,289.9L632.5,289.8L632.5,286.5L629.2,286.6L625.8,286.6L622.5,286.6L619.1,286.5L615.8,286.5L612.5,286.4L609.1,286.3L605.8,286.1L602.4,286.0L599.1,285.8L595.7,285.6L592.4,285.4L589.1,285.2L585.7,285.0L582.4,284.8L579.0,284.7L575.7,284.5L572.4,284.3L569.0,284.0L565.7,283.8L562.3,283.5L559.0,283.3L555.6,283.0L552.3,282.7L549.0,282.5L545.6,282.2L542.3,282.0L538.9,281.8L535.6,281.6L532.3,281.5L528.9,281.4L525.6,281.3L522.2,281.3L518.9,281.3L515.5,281.3L512.2,281.3L508.9,281.4L505.5,281.5L502.2,281.7L498.8,281.8L495.5,282.0L492.2,282.3L488.8,282.6L485.5,282.9L482.1,283.2L478.8,283.5L475.5,283.9L472.1,284.2L468.8,284.6L465.4,284.9L462.1,285.3L458.7,285.7L455.4,286.0L452.1,286.4L448.7,286.8L445.4,287.2L442.0,287.6L438.7,288.1L435.4,288.5L432.0,289.0L428.7,289.4L425.3,289.9L422.0,290.3L418.6,290.6L415.3,291.0L412.0,291.3L408.6,291.5L405.3,291.7L401.9,291.9L398.6,292.0Z" fill="#3068b3"/>
<path d="M398.6,292.2L401.9,292.2L405.3,292.2L408.6,292.3L412.0,292.3L415.3,292.3L418.6,292.4L422.0,292.4L425.3,292.4L428.7,292.5L432.0,292.5L435.4,292.5L438.7,292.6L442.0,292.6L445.4,292.6L448.7,292.6L452.1,292.7L455.4,292.7L458.7,292.7L462.1,292.7L465.4,292.8L468.8,292.8L472.1,292.8L475.5,292.9L478.8,292.9L482.1,292.9L485.5,292.9L488.8,293.0L492.2,293.0L495.5,293.0L498.8,293.0L502.2,293.0L505.5,293.0L508.9,293.0L512.2,293.0L515.5,293.0L518.9,293.0L522.2,293.0L525.6,293.0L528.9,293.0L532.3,292.9L535.6,292.9L538.9,292.9L542.3,292.9L545.6,292.9L549.0,292.8L552.3,292.8L555.6,292.8L559.0,292.7L562.3,292.7L565.7,292.6L569.0,292.5L572.4,292.4L575.7,292.3L579.0,292.2L582.4,292.1L585.7,292.0L589.1,291.9L592.4,291.7L595.7,291.6L599.1,291.4L602.4,291.3L605.8,291.1L609.1,290.9L612.5,290.8L615.8,290.6L619.1,290.4L622.5,290.2L625.8,290.0L629.2,289.9L632.5,289.8L632.5,286.9L629.2,286.9L625.8,287.0L622.5,287.0L619.1,287.0L615.8,286.9L612.5,286.9L609.1,286.8L605.8,286.7L602.4,286.6L599.1,286.4L595.7,286.3L592.4,286.1L589.1,286.0L585.7,285.8L582.4,285.7L579.0,285.5L575.7,285.3L572.4,285.2L569.0,285.0L565.7,284.8L562.3,284.5L559.0,284.3L555.6,284.1L552.3,283.9L549.0,283.6L545.6,283.4L542.3,283.2L538.9,283.0L535.6,282.9L532.3,282.8L528.9,282.7L525.6,282.6L522.2,282.6L518.9,282.6L515.5,282.6L512.2,282.6L508.9,282.7L505.5,282.8L502.2,282.9L498.8,283.1L495.5,283.3L492.2,283.5L488.8,283.7L485.5,284.0L482.1,284.3L478.8,284.6L475.5,284.9L472.1,285.2L468.8,285.5L465.4,285.8L462.1,286.1L458.7,286.4L455.4,286.8L452.1,287.1L448.7,287.5L445.4,287.8L442.0,288.2L438.7,288.6L435.4,289.0L432.0,289.4L428.7,289.8L425.3,290.1L422.0,290.5L418.6,290.8L415.3,291.1L412.0,291.4L408.6,291.6L405.3,291.8L401.9,291.9L398.6,292.0Z" fill="#2f63b0"/>
<path d="M398.6,292.2L401.9,292.2L405.3,292.2L408.6,292.3L412.0,292.3L415.3,292.3L418.6,292.4L422.0,292.4L425.3,292.4L428.7,292.5L432.0,292.5L435.4,292.5L438.7,292.6L442.0,292.6L445.4,292.6L448.7,292.6L452.1,292.7L455.4,292.7L458.7,292.7L462.1,292.7L465.4,292.8L468.8,292.8L472.1,292.8L475.5,292.9L478.8,292.9L482.1,292.9L485.5,292.9L488.8,293.0L492.2,293.0L495.5,293.0L498.8,293.0L502.2,293.0L505.5,293.0L508.9,293.0L512.2,293.0L515.5,293.0L518.9,293.0L522.2,293.0L525.6,293.0L528.9,293.0L532.3,292.9L535.6,292.9L538.9,292.9L542.3,292.9L545.6,292.9L549.0,292.8L552.3,292.8L555.6,292.8L559.0,292.7L562.3,292.7L565.7,292.6L569.0,292.5L572.4,292.4L575.7,292.3L579.0,292.2L582.4,292.1L585.7,292.0L589.1,291.9L592.4,291.7L595.7,291.6L599.1,291.4L602.4,291.3L605.8,291.1L609.1,290.9L612.5,290.8L615.8,290.6L619.1,290.4L622.5,290.2L625.8,290.0L629.2,289.9L632.5,289.8L632.5,287.3L629.2,287.3L625.8,287.3L622.5,287.4L619.1,287.4L615.8,287.4L612.5,287.4L609.1,287.3L605.8,287.2L602.4,287.1L599.1,287.0L595.7,286.9L592.4,286.8L589.1,286.7L585.7,286.6L582.4,286.5L579.0,286.3L575.7,286.2L572.4,286.1L569.0,285.9L565.7,285.7L562.3,285.6L559.0,285.4L555.6,285.2L552.3,285.0L549.0,284.8L545.6,284.6L542.3,284.4L538.9,284.3L535.6,284.2L532.3,284.0L528.9,284.0L525.6,283.9L522.2,283.9L518.9,283.9L515.5,283.9L512.2,283.9L508.9,284.0L505.5,284.1L502.2,284.2L498.8,284.3L495.5,284.5L492.2,284.7L488.8,284.9L485.5,285.1L482.1,285.3L478.8,285.6L475.5,285.9L472.1,286.1L468.8,286.4L465.4,286.7L462.1,286.9L458.7,287.2L455.4,287.5L452.1,287.8L448.7,288.1L445.4,288.4L442.0,288.7L438.7,289.1L435.4,289.4L432.0,289.8L428.7,290.1L425.3,290.4L422.0,290.7L418.6,291.0L415.3,291.3L412.0,291.5L408.6,291.7L405.3,291.8L401.9,291.9L398.6,292.0Z" fill="#2e5dad"/>
<path d="M398.6,292.2L401.9,292.2L405.3,292.2L408.6,292.3L412.0,292.3L415.3,292.3L418.6,292.4L422.0,292.4L425.3,292.4L428.7,292.5L432.0,292.5L435.4,292.5L438.7,292.6L442.0,292.6L445.4,292.6L448.7,292.6L452.1,292.7L455.4,292.7L458.7,292.7L462.1,292.7L465.4,292.8L468.8,292.8L472.1,292.8L475.5,292.9L478.8,292.9L482.1,292.9L485.5,292.9L488.8,293.0L492.2,293.0L495.5,293.0L498.8,293.0L502.2,293.0L505.5,293.0L508.9,293.0L512.2,293.0L515.5,293.0L518.9,293.0L522.2,293.0L525.6,293.0L528.9,293.0L532.3,292.9L535.6,292.9L538.9,292.9L542.3,292.9L545.6,292.9L549.0,292.8L552.3,292.8L555.6,292.8L559.0,292.7L562.3,292.7L565.7,292.6L569.0,292.5L572.4,292.4L575.7,292.3L579.0,292.2L582.4,292.1L585.7,292.0L589.1,291.9L592.4,291.7L595.7,291.6L599.1,291.4L602.4,291.3L605.8,291.1L609.1,290.9L612.5,290.8L615.8,290.6L619.1,290.4L622.5,290.2L625.8,290.0L629.2,289.9L632.5,289.8L632.5,287.6L629.2,287.7L625.8,287.7L622.5,287.8L619.1,287.8L615.8,287.8L612.5,287.9L609.1,287.8L605.8,287.8L602.4,287.7L599.1,287.7L595.7,287.6L592.4,287.5L589.1,287.4L585.7,287.4L582.4,287.3L579.0,287.2L575.7,287.1L572.4,287.0L569.0,286.9L565.7,286.7L562.3,286.6L559.0,286.4L555.6,286.3L552.3,286.1L549.0,285.9L545.6,285.8L542.3,285.6L538.9,285.5L535.6,285.4L532.3,285.3L528.9,285.2L525.6,285.2L522.2,285.2L518.9,285.2L515.5,285.2L512.2,285.2L508.9,285.3L505.5,285.3L502.2,285.4L498.8,285.6L495.5,285.7L492.2,285.9L488.8,286.0L485.5,286.2L482.1,286.4L478.8,286.6L475.5,286.9L472.1,287.1L468.8,287.3L465.4,287.5L462.1,287.8L458.7,288.0L455.4,288.2L452.1,288.5L448.7,288.8L445.4,289.0L442.0,289.3L438.7,289.6L435.4,289.9L432.0,290.2L428.7,290.4L425.3,290.7L422.0,291.0L418.6,291.2L415.3,291.4L412.0,291.6L408.6,291.8L405.3,291.9L401.9,292.0L398.6,292.0Z" fill="#2e55aa"/>
<path d="M398.6,292.2L401.9,292.2L405.3,292.2L408.6,292.3L412.0,292.3L415.3,292.3L418.6,292.4L422.0,292.4L425.3,292.4L428.7,292.5L432.0,292.5L435.4,292.5L438.7,292.6L442.0,292.6L445.4,292.6L448.7,292.6L452.1,292.7L455.4,292.7L458.7,292.7L462.1,292.7L465.4,292.8L468.8,292.8L472.1,292.8L475.5,292.9L478.8,292.9L482.1,292.9L485.5,292.9L488.8,293.0L492.2,293.0L495.5,293.0L498.8,293.0L502.2,293.0L505.5,293.0L508.9,293.0L512.2,293.0L515.5,293.0L518.9,293.0L522.2,293.0L525.6,293.0L528.9,293.0L532.3,292.9L535.6,292.9L538.9,292.9L542.3,292.9L545.6,292.9L549.0,292.8L552.3,292.8L555.6,292.8L559.0,292.7L562.3,292.7L565.7,292.6L569.0,292.5L572.4,292.4L575.7,292.3L579.0,292.2L582.4,292.1L585.7,292.0L589.1,291.9L592.4,291.7L595.7,291.6L599.1,291.4L602.4,291.3L605.8,291.1L609.1,290.9L612.5,290.8L615.8,290.6L619.1,290.4L622.5,290.2L625.8,290.0L629.2,289.9L632.5,289.8L632.5,288.0L629.2,288.0L625.8,288.1L622.5,288.2L619.1,288.2L615.8,288.3L612.5,288.3L609.1,288.3L605.8,288.3L602.4,288.3L599.1,288.3L595.7,288.3L592.4,288.2L589.1,288.2L585.7,288.1L582.4,288.1L579.0,288.0L575.7,288.0L572.4,287.9L569.0,287.8L565.7,287.7L562.3,287.6L559.0,287.5L555.6,287.3L552.3,287.2L549.0,287.1L545.6,287.0L542.3,286.9L538.9,286.7L535.6,286.7L532.3,286.6L528.9,286.5L525.6,286.5L522.2,286.5L518.9,286.5L515.5,286.5L512.2,286.5L508.9,286.6L505.5,286.6L502.2,286.7L498.8,286.8L495.5,286.9L492.2,287.0L488.8,287.2L485.5,287.3L482.1,287.5L478.8,287.7L475.5,287.9L472.1,288.0L468.8,288.2L465.4,288.4L462.1,288.6L458.7,288.8L455.4,289.0L452.1,289.2L448.7,289.4L445.4,289.6L442.0,289.8L438.7,290.1L435.4,290.3L432.0,290.5L428.7,290.8L425.3,291.0L422.0,291.2L418.6,291.4L415.3,291.6L412.0,291.7L408.6,291.9L405.3,291.9L401.9,292.0L398.6,292.1Z" fill="#304ca7"/>
<path d="M398.6,292.2L401.9,292.2L405.3,292.2L408.6,292.3L412.0,292.3L415.3,292.3L418.6,292.4L422.0,292.4L425.3,292.4L428.7,292.5L432.0,292.5L435.4,292.5L438.7,292.6L442.0,292.6L445.4,292.6L448.7,292.6L452.1,292.7L455.4,292.7L458.7,292.7L462.1,292.7L465.4,292.8L468.8,292.8L472.1,292.8L475.5,292.9L478.8,292.9L482.1,292.9L485.5,292.9L488.8,293.0L492.2,293.0L495.5,293.0L498.8,293.0L502.2,293.0L505.5,293.0L508.9,293.0L512.2,293.0L515.5,293.0L518.9,293.0L522.2,293.0L525.6,293.0L528.9,293.0L532.3,292.9L535.6,292.9L538.9,292.9L542.3,292.9L545.6,292.9L549.0,292.8L552.3,292.8L555.6,292.8L559.0,292.7L562.3,292.7L565.7,292.6L569.0,292.5L572.4,292.4L575.7,292.3L579.0,292.2L582.4,292.1L585.7,292.0L589.1,291.9L592.4,291.7L595.7,291.6L599.1,291.4L602.4,291.3L605.8,291.1L609.1,290.9L612.5,290.8L615.8,290.6L619.1,290.4L622.5,290.2L625.8,290.0L629.2,289.9L632.5,289.8L632.5,288.3L629.2,288.4L625.8,288.5L622.5,288.6L619.1,288.7L615.8,288.8L612.5,288.8L609.1,288.9L605.8,288.9L602.4,288.9L599.1,288.9L595.7,288.9L592.4,288.9L589.1,288.9L585.7,288.9L582.4,288.9L579.0,288.9L575.7,288.8L572.4,288.8L569.0,288.7L565.7,288.7L562.3,288.6L559.0,288.5L555.6,288.4L552.3,288.3L549.0,288.2L545.6,288.1L542.3,288.1L538.9,288.0L535.6,287.9L532.3,287.9L528.9,287.8L525.6,287.8L522.2,287.8L518.9,287.8L515.5,287.8L512.2,287.8L508.9,287.8L505.5,287.9L502.2,288.0L498.8,288.0L495.5,288.1L492.2,288.2L488.8,288.3L485.5,288.5L482.1,288.6L478.8,288.7L475.5,288.9L472.1,289.0L468.8,289.1L465.4,289.3L462.1,289.4L458.7,289.6L455.4,289.7L452.1,289.9L448.7,290.0L445.4,290.2L442.0,290.4L438.7,290.6L435.4,290.8L432.0,290.9L428.7,291.1L425.3,291.3L422.0,291.5L418.6,291.6L415.3,291.7L412.0,291.8L408.6,291.9L405.3,292.0L401.9,292.1L398.6,292.1Z" fill="#3144a3"/>
<path d="M398.6,292.2L401.9,292.2L405.3,292.2L408.6,292.3L412.0,292.3L415.3,292.3L418.6,292.4L422.0,292.4L425.3,292.4L428.7,292.5L432.0,292.5L435.4,292.5L438.7,292.6L442.0,292.6L445.4,292.6L448.7,292.6L452.1,292.7L455.4,292.7L458.7,292.7L462.1,292.7L465.4,292.8L468.8,292.8L472.1,292.8L475.5,292.9L478.8,292.9L482.1,292.9L485.5,292.9L488.8,293.0L492.2,293.0L495.5,293.0L498.8,293.0L502.2,293.0L505.5,293.0L508.9,293.0L512.2,293.0L515.5,293.0L518.9,293.0L522.2,293.0L525.6,293.0L528.9,293.0L532.3,292.9L535.6,292.9L538.9,292.9L542.3,292.9L545.6,292.9L549.0,292.8L552.3,292.8L555.6,292.8L559.0,292.7L562.3,292.7L565.7,292.6L569.0,292.5L572.4,292.4L575.7,292.3L579.0,292.2L582.4,292.1L585.7,292.0L589.1,291.9L592.4,291.7L595.7,291.6L599.1,291.4L602.4,291.3L605.8,291.1L609.1,290.9L612.5,290.8L615.8,290.6L619.1,290.4L622.5,290.2L625.8,290.0L629.2,289.9L632.5,289.8L632.5,288.7L629.2,288.8L625.8,288.9L622.5,289.0L619.1,289.1L615.8,289.2L612.5,289.3L609.1,289.4L605.8,289.5L602.4,289.5L599.1,289.6L595.7,289.6L592.4,289.6L589.1,289.7L585.7,289.7L582.4,289.7L579.0,289.7L575.7,289.7L572.4,289.7L569.0,289.7L565.7,289.7L562.3,289.6L559.0,289.6L555.6,289.5L552.3,289.4L549.0,289.4L545.6,289.3L542.3,289.3L538.9,289.2L535.6,289.2L532.3,289.1L528.9,289.1L525.6,289.1L522.2,289.1L518.9,289.1L515.5,289.1L512.2,289.1L508.9,289.1L505.5,289.2L502.2,289.2L498.8,289.3L495.5,289.3L492.2,289.4L488.8,289.5L485.5,289.6L482.1,289.7L478.8,289.8L475.5,289.9L472.1,290.0L468.8,290.1L465.4,290.2L462.1,290.3L458.7,290.4L455.4,290.5L452.1,290.6L448.7,290.7L445.4,290.8L442.0,290.9L438.7,291.1L435.4,291.2L432.0,291.3L428.7,291.5L425.3,291.6L422.0,291.7L418.6,291.8L415.3,291.9L412.0,292.0L408.6,292.0L405.3,292.1L401.9,292.1L398.6,292.1Z" fill="#363b9f"/>
<path d="M398.6,292.2L401.9,292.2L405.3,292.2L408.6,292.3L412.0,292.3L415.3,292.3L418.6,292.4L422.0,292.4L425.3,292.4L428.7,292.5L432.0,292.5L435.4,292.5L438.7,292.6L442.0,292.6L445.4,292.6L448.7,292.6L452.1,292.7L455.4,292.7L458.7,292.7L462.1,292.7L465.4,292.8L468.8,292.8L472.1,292.8L475.5,292.9L478.8,292.9L482.1,292.9L485.5,292.9L488.8,293.0L492.2,293.0L495.5,293.0L498.8,293.0L502.2,293.0L505.5,293.0L508.9,293.0L512.2,293.0L515.5,293.0L518.9,293.0L522.2,293.0L525.6,293.0L528.9,293.0L532.3,292.9L535.6,292.9L538.9,292.9L542.3,292.9L545.6,292.9L549.0,292.8L552.3,292.8L555.6,292.8L559.0,292.7L562.3,292.7L565.7,292.6L569.0,292.5L572.4,292.4L575.7,292.3L579.0,292.2L582.4,292.1L585.7,292.0L589.1,291.9L592.4,291.7L595.7,291.6L599.1,291.4L602.4,291.3L605.8,291.1L609.1,290.9L612.5,290.8L615.8,290.6L619.1,290.4L622.5,290.2L625.8,290.0L629.2,289.9L632.5,289.8L632.5,289.0L629.2,289.1L625.8,289.3L622.5,289.4L619.1,289.5L615.8,289.7L612.5,289.8L609.1,289.9L605.8,290.0L602.4,290.1L599.1,290.2L595.7,290.3L592.4,290.3L589.1,290.4L585.7,290.5L582.4,290.5L579.0,290.6L575.7,290.6L572.4,290.6L569.0,290.6L565.7,290.6L562.3,290.6L559.0,290.6L555.6,290.6L552.3,290.6L549.0,290.5L545.6,290.5L542.3,290.5L538.9,290.4L535.6,290.4L532.3,290.4L528.9,290.4L525.6,290.4L522.2,290.4L518.9,290.4L515.5,290.4L512.2,290.4L508.9,290.4L505.5,290.4L502.2,290.5L498.8,290.5L495.5,290.6L492.2,290.6L488.8,290.7L485.5,290.7L482.1,290.8L478.8,290.8L475.5,290.9L472.1,290.9L468.8,291.0L465.4,291.0L462.1,291.1L458.7,291.1L455.4,291.2L452.1,291.3L448.7,291.3L445.4,291.4L442.0,291.5L438.7,291.6L435.4,291.6L432.0,291.7L428.7,291.8L425.3,291.9L422.0,291.9L418.6,292.0L415.3,292.0L412.0,292.1L408.6,292.1L405.3,292.1L401.9,292.1L398.6,292.1Z" fill="#3b349c"/>
<path d="M398.6,292.2L401.9,292.2L405.3,292.2L408.6,292.3L412.0,292.3L415.3,292.3L418.6,292.4L422.0,292.4L425.3,292.4L428.7,292.5L432.0,292.5L435.4,292.5L438.7,292.6L442.0,292.6L445.4,292.6L448.7,292.6L452.1,292.7L455.4,292.7L458.7,292.7L462.1,292.7L465.4,292.8L468.8,292.8L472.1,292.8L475.5,292.9L478.8,292.9L482.1,292.9L485.5,292.9L488.8,293.0L492.2,293.0L495.5,293.0L498.8,293.0L502.2,293.0L505.5,293.0L508.9,293.0L512.2,293.0L515.5,293.0L518.9,293.0L522.2,293.0L525.6,293.0L528.9,293.0L532.3,292.9L535.6,292.9L538.9,292.9L542.3,292.9L545.6,292.9L549.0,292.8L552.3,292.8L555.6,292.8L559.0,292.7L562.3,292.7L565.7,292.6L569.0,292.5L572.4,292.4L575.7,292.3L579.0,292.2L582.4,292.1L585.7,292.0L589.1,291.9L592.4,291.7L595.7,291.6L599.1,291.4L602.4,291.3L605.8,291.1L609.1,290.9L612.5,290.8L615.8,290.6L619.1,290.4L622.5,290.2L625.8,290.0L629.2,289.9L632.5,289.8L632.5,289.4L629.2,289.5L625.8,289.6L622.5,289.8L619.1,290.0L615.8,290.1L612.5,290.3L609.1,290.4L605.8,290.6L602.4,290.7L599.1,290.8L595.7,290.9L592.4,291.0L589.1,291.1L585.7,291.2L582.4,291.3L579.0,291.4L575.7,291.5L572.4,291.5L569.0,291.6L565.7,291.6L562.3,291.6L559.0,291.7L555.6,291.7L552.3,291.7L549.0,291.7L545.6,291.7L542.3,291.7L538.9,291.7L535.6,291.7L532.3,291.7L528.9,291.7L525.6,291.7L522.2,291.7L518.9,291.7L515.5,291.7L512.2,291.7L508.9,291.7L505.5,291.7L502.2,291.7L498.8,291.8L495.5,291.8L492.2,291.8L488.8,291.8L485.5,291.8L482.1,291.8L478.8,291.9L475.5,291.9L472.1,291.9L468.8,291.9L465.4,291.9L462.1,291.9L458.7,291.9L455.4,291.9L452.1,292.0L448.7,292.0L445.4,292.0L442.0,292.0L438.7,292.1L435.4,292.1L432.0,292.1L428.7,292.1L425.3,292.2L422.0,292.2L418.6,292.2L415.3,292.2L412.0,292.2L408.6,292.2L405.3,292.2L401.9,292.2L398.6,292.1Z" fill="#402c98"/>
<path d="M398.6,292.2L401.9,292.2L405.3,292.2L408.6,292.3L412.0,292.3L415.3,292.3L418.6,292.4L422.0,292.4L425.3,292.4L428.7,292.5L432.0,292.5L435.4,292.5L438.7,292.6L442.0,292.6L445.4,292.6L448.7,292.6L452.1,292.7L455.4,292.7L458.7,292.7L462.1,292.7L465.4,292.8L468.8,292.8L472.1,292.8L475.5,292.9L478.8,292.9L482.1,292.9L485.5,292.9L488.8,293.0L492.2,293.0L495.5,293.0L498.8,293.0L502.2,293.0L505.5,293.0L508.9,293.0L512.2,293.0L515.5,293.0L518.9,293.0L522.2,293.0L525.6,293.0L528.9,293.0L532.3,292.9L535.6,292.9L538.9,292.9L542.3,292.9L545.6,292.9L549.0,292.8L552.3,292.8L555.6,292.8L559.0,292.7L562.3,292.7L565.7,292.6L569.0,292.5L572.4,292.4L575.7,292.3L579.0,292.2L582.4,292.1L585.7,292.0L589.1,291.9L592.4,291.7L595.7,291.6L599.1,291.4L602.4,291.3L605.8,291.1L609.1,290.9L612.5,290.8L615.8,290.6L619.1,290.4L622.5,290.2L625.8,290.0L629.2,289.9L632.5,289.8" fill="none" stroke="#422896" stroke-width="1"/>
<path d="M398.6,291.2L401.9,290.6L405.3,289.6L408.6,288.3L412.0,286.8L415.3,285.1L418.6,283.1L422.0,280.9L425.3,278.6L428.7,276.2L432.0,273.7L435.4,271.2L438.7,268.7L442.0,266.3L445.4,263.9L448.7,261.6L452.1,259.3L455.4,257.2L458.7,255.0L462.1,252.9L465.4,250.9L468.8,248.8L472.1,246.8L475.5,244.8L478.8,242.8L482.1,241.0L485.5,239.2L488.8,237.5L492.2,236.0L495.5,234.6L498.8,233.4L502.2,232.5L505.5,231.7L508.9,231.1L512.2,230.7L515.5,230.5L518.9,230.4L522.2,230.5L525.6,230.8L528.9,231.3L532.3,231.9L535.6,232.7L538.9,233.7L542.3,234.9L545.6,236.2L549.0,237.6L552.3,239.2L555.6,240.8L559.0,242.4L562.3,244.0L565.7,245.6L569.0,247.2L572.4,248.8L575.7,250.3L579.0,251.8L582.4,253.3L585.7,254.8L589.1,256.3L592.4,257.9L595.7,259.6L599.1,261.3L602.4,262.9L605.8,264.6L609.1,266.1L612.5,267.5L615.8,268.8L619.1,269.9L622.5,270.9L625.8,271.6L629.2,272.2L632.5,272.7" fill="none" stroke="#f2e428" stroke-width="1"/>
<path d="M398.6,292.1L401.9,292.1L405.3,292.1L408.6,292.0L412.0,292.0L415.3,291.9L418.6,291.8L422.0,291.7L425.3,291.6L428.7,291.5L432.0,291.3L435.4,291.2L438.7,291.1L442.0,291.0L445.4,290.8L448.7,290.7L452.1,290.6L455.4,290.5L458.7,290.4L462.1,290.3L465.4,290.2L468.8,290.1L472.1,290.0L475.5,289.9L478.8,289.8L482.1,289.7L485.5,289.6L488.8,289.5L492.2,289.4L495.5,289.4L498.8,289.3L502.2,289.2L505.5,289.2L508.9,289.2L512.2,289.1L515.5,289.1L518.9,289.1L522.2,289.1L525.6,289.1L528.9,289.1L532.3,289.2L535.6,289.2L538.9,289.2L542.3,289.3L545.6,289.4L549.0,289.4L552.3,289.5L555.6,289.5L559.0,289.6L562.3,289.6L565.7,289.7L569.0,289.7L572.4,289.7L575.7,289.7L579.0,289.7L582.4,289.7L585.7,289.7L589.1,289.7L592.4,289.6L595.7,289.6L599.1,289.6L602.4,289.5L605.8,289.5L609.1,289.4L612.5,289.3L615.8,289.2L619.1,289.1L622.5,289.0L625.8,288.9L629.2,288.8L632.5,288.7" fill="none" stroke="#d9262b" stroke-width="1.5"/>
<path d="M398.6,202.0 L398.6,322.3 L632.5,322.3" fill="none" stroke="#262626" stroke-width="1.3"/>
<line x1="419.86" y1="322.3" x2="419.86" y2="325.3" stroke="#262626" stroke-width="1.1"/>
<text x="0" y="0" font-family="'Liberation Serif', serif" font-size="9.5" font-weight="normal" text-anchor="middle" fill="#262626" transform="translate(419.86 336.6) scale(0.92 1)">760</text>
<line x1="455.30" y1="322.3" x2="455.30" y2="325.3" stroke="#262626" stroke-width="1.1"/>
<text x="0" y="0" font-family="'Liberation Serif', serif" font-size="9.5" font-weight="normal" text-anchor="middle" fill="#262626" transform="translate(455.3 336.6) scale(0.92 1)">770</text>
<line x1="490.74" y1="322.3" x2="490.74" y2="325.3" stroke="#262626" stroke-width="1.1"/>
<text x="0" y="0" font-family="'Liberation Serif', serif" font-size="9.5" font-weight="normal" text-anchor="middle" fill="#262626" transform="translate(490.74 336.6) scale(0.92 1)">780</text>
<line x1="526.18" y1="322.3" x2="526.18" y2="325.3" stroke="#262626" stroke-width="1.1"/>
<text x="0" y="0" font-family="'Liberation Serif', serif" font-size="9.5" font-weight="normal" text-anchor="middle" fill="#262626" transform="translate(526.18 336.6) scale(0.92 1)">790</text>
<line x1="561.62" y1="322.3" x2="561.62" y2="325.3" stroke="#262626" stroke-width="1.1"/>
<text x="0" y="0" font-family="'Liberation Serif', serif" font-size="9.5" font-weight="normal" text-anchor="middle" fill="#262626" transform="translate(561.62 336.6) scale(0.92 1)">800</text>
<line x1="597.06" y1="322.3" x2="597.06" y2="325.3" stroke="#262626" stroke-width="1.1"/>
<text x="0" y="0" font-family="'Liberation Serif', serif" font-size="9.5" font-weight="normal" text-anchor="middle" fill="#262626" transform="translate(597.06 336.6) scale(0.92 1)">810</text>
<line x1="632.50" y1="322.3" x2="632.50" y2="325.3" stroke="#262626" stroke-width="1.1"/>
<text x="0" y="0" font-family="'Liberation Serif', serif" font-size="9.5" font-weight="normal" text-anchor="middle" fill="#262626" transform="translate(632.5 336.6) scale(0.92 1)">820</text>
<line x1="395.6" y1="317.50" x2="398.6" y2="317.50" stroke="#262626" stroke-width="1.1"/>
<text x="0" y="0" font-family="'Liberation Serif', serif" font-size="9.5" font-weight="normal" text-anchor="end" fill="#262626" transform="translate(393.40000000000003 320.8) scale(0.92 1)">-0.01</text>
<line x1="395.6" y1="289.30" x2="398.6" y2="289.30" stroke="#262626" stroke-width="1.1"/>
<text x="0" y="0" font-family="'Liberation Serif', serif" font-size="9.5" font-weight="normal" text-anchor="end" fill="#262626" transform="translate(393.40000000000003 292.6) scale(0.92 1)">0</text>
<line x1="395.6" y1="261.10" x2="398.6" y2="261.10" stroke="#262626" stroke-width="1.1"/>
<text x="0" y="0" font-family="'Liberation Serif', serif" font-size="9.5" font-weight="normal" text-anchor="end" fill="#262626" transform="translate(393.40000000000003 264.4) scale(0.92 1)">0.01</text>
<line x1="395.6" y1="232.90" x2="398.6" y2="232.90" stroke="#262626" stroke-width="1.1"/>
<text x="0" y="0" font-family="'Liberation Serif', serif" font-size="9.5" font-weight="normal" text-anchor="end" fill="#262626" transform="translate(393.40000000000003 236.2) scale(0.92 1)">0.02</text>
<line x1="395.6" y1="204.70" x2="398.6" y2="204.70" stroke="#262626" stroke-width="1.1"/>
<text x="0" y="0" font-family="'Liberation Serif', serif" font-size="9.5" font-weight="normal" text-anchor="end" fill="#262626" transform="translate(393.40000000000003 208.0) scale(0.92 1)">0.03</text>
<text x="515.55" y="347.2" font-family="'Liberation Serif', serif" font-size="9.7" font-weight="bold" text-anchor="middle" fill="#111">Wavelength (nm)</text>
<text x="371.2" y="262.6" font-family="'Liberation Serif', serif" font-size="9.5" font-weight="bold" text-anchor="middle" fill="#111" transform="rotate(-90 371.2 262.6)">Derivative spectra</text>
<defs><linearGradient id="g645" x1="0" y1="0" x2="0" y2="1"><stop offset="0.0000" stop-color="#f2e428"/><stop offset="0.0312" stop-color="#f4e223"/><stop offset="0.0625" stop-color="#f5e01d"/><stop offset="0.0938" stop-color="#f8d712"/><stop offset="0.1250" stop-color="#facc14"/><stop offset="0.1562" stop-color="#fac124"/><stop offset="0.1875" stop-color="#f7b536"/><stop offset="0.2188" stop-color="#edb146"/><stop offset="0.2500" stop-color="#d9b451"/><stop offset="0.2812" stop-color="#c2b75d"/><stop offset="0.3125" stop-color="#abb968"/><stop offset="0.3438" stop-color="#8fbc71"/><stop offset="0.3750" stop-color="#71be79"/><stop offset="0.4062" stop-color="#47be80"/><stop offset="0.4375" stop-color="#2abb89"/><stop offset="0.4688" stop-color="#1fb693"/><stop offset="0.5000" stop-color="#1eb09e"/><stop offset="0.5312" stop-color="#1cabad"/><stop offset="0.5625" stop-color="#19a6bb"/><stop offset="0.5938" stop-color="#19a3c2"/><stop offset="0.6250" stop-color="#19a0c8"/><stop offset="0.6562" stop-color="#1f9acb"/><stop offset="0.6875" stop-color="#2593cb"/><stop offset="0.7188" stop-color="#2c88c4"/><stop offset="0.7500" stop-color="#347dbc"/><stop offset="0.7812" stop-color="#3274b8"/><stop offset="0.8125" stop-color="#306bb4"/><stop offset="0.8438" stop-color="#2f63b0"/><stop offset="0.8750" stop-color="#2d5aac"/><stop offset="0.9062" stop-color="#304ca7"/><stop offset="0.9375" stop-color="#333fa1"/><stop offset="0.9688" stop-color="#3b349c"/><stop offset="1.0000" stop-color="#422896"/></linearGradient></defs>
<rect x="645.4" y="202.5" width="13.30" height="119.60" fill="url(#g645)"/>
<rect x="645.4" y="202.5" width="13.30" height="119.60" fill="none" stroke="#262626" stroke-width="1"/>
<line x1="658.7" y1="322.10" x2="661.2" y2="322.10" stroke="#262626" stroke-width="1"/>
<text x="662.9000000000001" y="325.1" font-family="'Liberation Serif', serif" font-size="8.7" font-weight="normal" text-anchor="start" fill="#262626">0</text>
<line x1="658.7" y1="298.18" x2="661.2" y2="298.18" stroke="#262626" stroke-width="1"/>
<text x="662.9000000000001" y="301.18" font-family="'Liberation Serif', serif" font-size="8.7" font-weight="normal" text-anchor="start" fill="#262626">0.2</text>
<line x1="658.7" y1="274.26" x2="661.2" y2="274.26" stroke="#262626" stroke-width="1"/>
<text x="662.9000000000001" y="277.26" font-family="'Liberation Serif', serif" font-size="8.7" font-weight="normal" text-anchor="start" fill="#262626">0.4</text>
<line x1="658.7" y1="250.34" x2="661.2" y2="250.34" stroke="#262626" stroke-width="1"/>
<text x="662.9000000000001" y="253.34" font-family="'Liberation Serif', serif" font-size="8.7" font-weight="normal" text-anchor="start" fill="#262626">0.6</text>
<line x1="658.7" y1="226.42" x2="661.2" y2="226.42" stroke="#262626" stroke-width="1"/>
<text x="662.9000000000001" y="229.42" font-family="'Liberation Serif', serif" font-size="8.7" font-weight="normal" text-anchor="start" fill="#262626">0.8</text>
<line x1="658.7" y1="202.50" x2="661.2" y2="202.50" stroke="#262626" stroke-width="1"/>
<text x="662.9000000000001" y="205.5" font-family="'Liberation Serif', serif" font-size="8.7" font-weight="normal" text-anchor="start" fill="#262626">1</text>
<text x="683.5" y="262.3" font-family="'Liberation Serif', serif" font-size="8.7" font-weight="normal" text-anchor="middle" fill="#262626" transform="rotate(-90 683.5 262.3)">Pure-Pfr fraction subtracted</text>
<text x="518.6" y="208.1" font-family="'Liberation Sans', sans-serif" font-size="9.3" font-weight="normal" text-anchor="middle" fill="#1a1a1a">Derivative spectra</text>
<text x="519.4" y="218.1" font-family="'Liberation Sans', sans-serif" font-size="9.3" font-weight="normal" text-anchor="middle" fill="#1a1a1a">from Pr - 0.062<tspan dx="1.6">×</tspan><tspan dx="1.6">pure-Pfr</tspan></text>
<line x1="518.7" y1="222.1" x2="518.7" y2="280.7" stroke="#e02828" stroke-width="1.8" stroke-dasharray="3.2,3.6"/>
<path d="M516.0,280.7 L521.4,280.7 L518.7,287.8 Z" fill="#e83030" stroke="#8a2a2a" stroke-width="0.6"/>
<line x1="51.5" y1="369.38" x2="325.4" y2="488.10" stroke="#6470d2" stroke-width="1.3"/>
<path d="M51.5,368.7 L51.5,488.6 L325.4,488.6" fill="none" stroke="#262626" stroke-width="1.3"/>
<line x1="51.50" y1="488.6" x2="51.50" y2="491.6" stroke="#262626" stroke-width="1.1"/>
<text x="0" y="0" font-family="'Liberation Serif', serif" font-size="9.5" font-weight="normal" text-anchor="middle" fill="#262626" transform="translate(51.5 502.90000000000003) scale(0.92 1)">0</text>
<line x1="106.28" y1="488.6" x2="106.28" y2="491.6" stroke="#262626" stroke-width="1.1"/>
<text x="0" y="0" font-family="'Liberation Serif', serif" font-size="9.5" font-weight="normal" text-anchor="middle" fill="#262626" transform="translate(106.28 502.90000000000003) scale(0.92 1)">0.2</text>
<line x1="161.06" y1="488.6" x2="161.06" y2="491.6" stroke="#262626" stroke-width="1.1"/>
<text x="0" y="0" font-family="'Liberation Serif', serif" font-size="9.5" font-weight="normal" text-anchor="middle" fill="#262626" transform="translate(161.06 502.90000000000003) scale(0.92 1)">0.4</text>
<line x1="215.84" y1="488.6" x2="215.84" y2="491.6" stroke="#262626" stroke-width="1.1"/>
<text x="0" y="0" font-family="'Liberation Serif', serif" font-size="9.5" font-weight="normal" text-anchor="middle" fill="#262626" transform="translate(215.84 502.90000000000003) scale(0.92 1)">0.6</text>
<line x1="270.62" y1="488.6" x2="270.62" y2="491.6" stroke="#262626" stroke-width="1.1"/>
<text x="0" y="0" font-family="'Liberation Serif', serif" font-size="9.5" font-weight="normal" text-anchor="middle" fill="#262626" transform="translate(270.62 502.90000000000003) scale(0.92 1)">0.8</text>
<line x1="325.40" y1="488.6" x2="325.40" y2="491.6" stroke="#262626" stroke-width="1.1"/>
<text x="0" y="0" font-family="'Liberation Serif', serif" font-size="9.5" font-weight="normal" text-anchor="middle" fill="#262626" transform="translate(325.4 502.90000000000003) scale(0.92 1)">1</text>
<line x1="48.5" y1="467.05" x2="51.5" y2="467.05" stroke="#262626" stroke-width="1.1"/>
<text x="0" y="0" font-family="'Liberation Serif', serif" font-size="9.5" font-weight="normal" text-anchor="end" fill="#262626" transform="translate(46.3 470.35) scale(0.92 1)">-0.03</text>
<line x1="48.5" y1="443.40" x2="51.5" y2="443.40" stroke="#262626" stroke-width="1.1"/>
<text x="0" y="0" font-family="'Liberation Serif', serif" font-size="9.5" font-weight="normal" text-anchor="end" fill="#262626" transform="translate(46.3 446.7) scale(0.92 1)">-0.02</text>
<line x1="48.5" y1="419.75" x2="51.5" y2="419.75" stroke="#262626" stroke-width="1.1"/>
<text x="0" y="0" font-family="'Liberation Serif', serif" font-size="9.5" font-weight="normal" text-anchor="end" fill="#262626" transform="translate(46.3 423.05) scale(0.92 1)">-0.01</text>
<line x1="48.5" y1="396.10" x2="51.5" y2="396.10" stroke="#262626" stroke-width="1.1"/>
<text x="0" y="0" font-family="'Liberation Serif', serif" font-size="9.5" font-weight="normal" text-anchor="end" fill="#262626" transform="translate(46.3 399.4) scale(0.92 1)">0</text>
<line x1="48.5" y1="372.45" x2="51.5" y2="372.45" stroke="#262626" stroke-width="1.1"/>
<text x="0" y="0" font-family="'Liberation Serif', serif" font-size="9.5" font-weight="normal" text-anchor="end" fill="#262626" transform="translate(46.3 375.75) scale(0.92 1)">0.01</text>
<line x1="51.5" y1="396.1" x2="113.7" y2="396.1" stroke="#111" stroke-width="1.2" stroke-dasharray="1.9,2.2"/>
<line x1="113.7" y1="398.5" x2="113.7" y2="480" stroke="#111" stroke-width="1.2" stroke-dasharray="1.9,2.2"/>
<path d="M111.2,479.8 L116.2,479.8 L113.7,488.4 Z" fill="#111"/>
<circle cx="113.7" cy="396.1" r="2.1" fill="#000"/>
<text x="188.45" y="513.6" font-family="'Liberation Serif', serif" font-size="9.7" font-weight="bold" text-anchor="middle" fill="#111">Pr-enriched fraction subtracted</text>
<text x="12.5" y="428.5" font-family="'Liberation Serif', serif" font-size="9.5" font-weight="bold" text-anchor="middle" fill="#111" transform="rotate(-90 12.5 428.5)">Δderivatives</text>
<text x="21.9" y="428.5" font-family="'Liberation Serif', serif" font-size="9.5" font-weight="bold" text-anchor="middle" fill="#111" transform="rotate(-90 21.9 428.5)">(704 nm - 664 nm)</text>
<path d="M398.6,464.2L400.8,464.0L403.0,463.7L405.3,463.4L407.5,463.0L409.7,462.5L411.9,461.9L414.1,461.2L416.3,460.5L418.6,459.8L420.8,459.0L423.0,458.1L425.2,457.2L427.4,456.2L429.6,455.2L431.9,454.2L434.1,453.1L436.3,452.1L438.5,450.9L440.7,449.8L442.9,448.6L445.2,447.4L447.4,446.2L449.6,445.0L451.8,443.8L454.0,442.5L456.2,441.2L458.5,440.0L460.7,438.7L462.9,437.4L465.1,436.1L467.3,434.8L469.5,433.5L471.8,432.1L474.0,430.8L476.2,429.5L478.4,428.2L480.6,426.9L482.8,425.6L485.1,424.3L487.3,423.0L489.5,421.7L491.7,420.4L493.9,419.1L496.1,417.9L498.4,416.6L500.6,415.4L502.8,414.2L505.0,412.9L507.2,411.7L509.4,410.6L511.7,409.4L513.9,408.3L516.1,407.1L518.3,406.0L520.5,405.0L522.7,403.9L525.0,402.9L527.2,401.9L529.4,400.9L531.6,400.0L533.8,399.1L536.1,398.2L538.3,397.4L540.5,396.6L542.7,395.8L544.9,395.1L547.1,394.5L549.4,393.9L551.6,393.3L553.8,392.8L556.0,392.3L558.2,391.9L560.4,391.5L562.7,391.2L564.9,390.9L567.1,390.7L569.3,390.6L571.5,390.5L573.7,390.5L576.0,390.6L578.2,390.8L580.4,391.0L582.6,391.3L584.8,391.6L587.0,392.0L589.3,392.6L591.5,393.2L593.7,393.8L595.9,394.6L598.1,395.4L600.3,396.4L602.6,397.4L604.8,398.5L607.0,399.6L609.2,400.9L611.4,402.3L613.6,403.7L615.9,405.3L618.1,406.9L620.3,408.6L622.5,410.4L624.7,412.3L626.9,414.3L629.2,416.4L631.4,418.5L633.6,420.8L635.8,423.1L638.0,425.5L640.2,427.9L642.5,430.5L644.7,433.1L646.9,435.8L649.1,438.6L651.3,441.4L653.5,444.2L655.8,447.2L658.0,450.1L660.2,453.1L662.4,456.2L672.2,464.3" fill="none" stroke="#f07070" stroke-width="1.4"/>
<path d="M398.6,368.6 L398.6,488.6 L672.6,488.6" fill="none" stroke="#262626" stroke-width="1.3"/>
<line x1="416.83" y1="488.6" x2="416.83" y2="491.6" stroke="#262626" stroke-width="1.1"/>
<text x="0" y="0" font-family="'Liberation Serif', serif" font-size="9.5" font-weight="normal" text-anchor="middle" fill="#262626" transform="translate(416.83 502.90000000000003) scale(0.92 1)">0.045</text>
<line x1="462.41" y1="488.6" x2="462.41" y2="491.6" stroke="#262626" stroke-width="1.1"/>
<text x="0" y="0" font-family="'Liberation Serif', serif" font-size="9.5" font-weight="normal" text-anchor="middle" fill="#262626" transform="translate(462.41 502.90000000000003) scale(0.92 1)">0.05</text>
<line x1="507.99" y1="488.6" x2="507.99" y2="491.6" stroke="#262626" stroke-width="1.1"/>
<text x="0" y="0" font-family="'Liberation Serif', serif" font-size="9.5" font-weight="normal" text-anchor="middle" fill="#262626" transform="translate(507.99 502.90000000000003) scale(0.92 1)">0.055</text>
<line x1="553.57" y1="488.6" x2="553.57" y2="491.6" stroke="#262626" stroke-width="1.1"/>
<text x="0" y="0" font-family="'Liberation Serif', serif" font-size="9.5" font-weight="normal" text-anchor="middle" fill="#262626" transform="translate(553.57 502.90000000000003) scale(0.92 1)">0.06</text>
<line x1="599.15" y1="488.6" x2="599.15" y2="491.6" stroke="#262626" stroke-width="1.1"/>
<text x="0" y="0" font-family="'Liberation Serif', serif" font-size="9.5" font-weight="normal" text-anchor="middle" fill="#262626" transform="translate(599.15 502.90000000000003) scale(0.92 1)">0.065</text>
<line x1="644.73" y1="488.6" x2="644.73" y2="491.6" stroke="#262626" stroke-width="1.1"/>
<text x="0" y="0" font-family="'Liberation Serif', serif" font-size="9.5" font-weight="normal" text-anchor="middle" fill="#262626" transform="translate(644.73 502.90000000000003) scale(0.92 1)">0.07</text>
<line x1="395.6" y1="488.74" x2="398.6" y2="488.74" stroke="#262626" stroke-width="1.1"/>
<text x="0" y="0" font-family="'Liberation Serif', serif" font-size="9.5" font-weight="normal" text-anchor="end" fill="#262626" transform="translate(393.40000000000003 492.04) scale(0.92 1)">-2</text>
<line x1="395.6" y1="464.30" x2="398.6" y2="464.30" stroke="#262626" stroke-width="1.1"/>
<text x="0" y="0" font-family="'Liberation Serif', serif" font-size="9.5" font-weight="normal" text-anchor="end" fill="#262626" transform="translate(393.40000000000003 467.6) scale(0.92 1)">0</text>
<line x1="395.6" y1="439.86" x2="398.6" y2="439.86" stroke="#262626" stroke-width="1.1"/>
<text x="0" y="0" font-family="'Liberation Serif', serif" font-size="9.5" font-weight="normal" text-anchor="end" fill="#262626" transform="translate(393.40000000000003 443.16) scale(0.92 1)">2</text>
<line x1="395.6" y1="415.42" x2="398.6" y2="415.42" stroke="#262626" stroke-width="1.1"/>
<text x="0" y="0" font-family="'Liberation Serif', serif" font-size="9.5" font-weight="normal" text-anchor="end" fill="#262626" transform="translate(393.40000000000003 418.72) scale(0.92 1)">4</text>
<line x1="395.6" y1="390.98" x2="398.6" y2="390.98" stroke="#262626" stroke-width="1.1"/>
<text x="0" y="0" font-family="'Liberation Serif', serif" font-size="9.5" font-weight="normal" text-anchor="end" fill="#262626" transform="translate(393.40000000000003 394.28) scale(0.92 1)">6</text>
<line x1="398.6" y1="390.9" x2="571.8" y2="390.9" stroke="#111" stroke-width="1.2" stroke-dasharray="1.9,2.2"/>
<line x1="571.8" y1="393.3" x2="571.8" y2="477" stroke="#111" stroke-width="1.2" stroke-dasharray="1.9,2.2"/>
<path d="M568.9,476.6 L574.7,476.6 L571.8,488.4 Z" fill="#111"/>
<circle cx="571.8" cy="390.9" r="2.3" fill="#000"/>
<text x="399.5" y="366.6" font-family="'Liberation Serif', serif" font-size="8.7" font-weight="normal" text-anchor="start" fill="#262626">×</text>
<text x="406.0" y="366.8" font-family="'Liberation Serif', serif" font-size="8.7" font-weight="normal" text-anchor="start" fill="#262626">10</text>
<text x="414.3" y="362.6" font-family="'Liberation Serif', serif" font-size="6.5" font-weight="normal" text-anchor="start" fill="#262626">-5</text>
<text x="535.6" y="513.6" font-family="'Liberation Serif', serif" font-size="9.7" font-weight="bold" text-anchor="middle" fill="#111">Pure-Pfr fraction subtracted</text>
<text x="371.0" y="428.5" font-family="'Liberation Serif', serif" font-size="9.5" font-weight="bold" text-anchor="middle" fill="#111" transform="rotate(-90 371.0 428.5)">SD×mean derivative</text>
<text x="382.0" y="428.5" font-family="'Liberation Serif', serif" font-size="9.5" font-weight="bold" text-anchor="middle" fill="#111" transform="rotate(-90 382.0 428.5)">(from 754 to 820 nm)</text>
</svg></body></html>
